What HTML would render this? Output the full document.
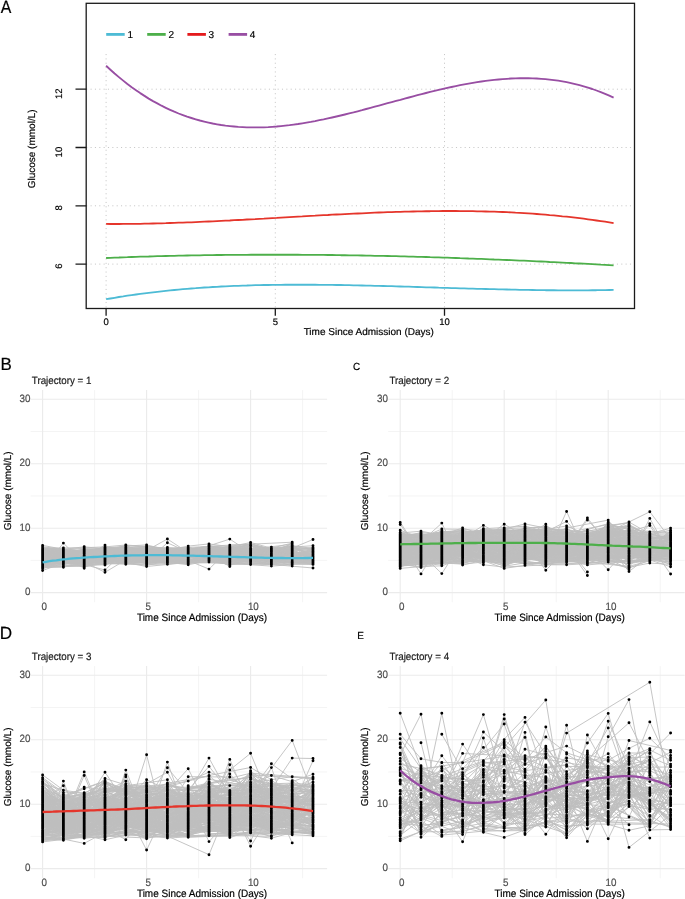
<!DOCTYPE html>
<html><head><meta charset="utf-8"><style>
html,body{margin:0;padding:0;background:#fff;width:685px;height:899px;overflow:hidden}
svg{display:block;will-change:transform}
text{font-family:"Liberation Sans", sans-serif;text-rendering:geometricPrecision}
</style></head><body>
<svg width="685" height="899" viewBox="0 0 685 899" font-family='"Liberation Sans", sans-serif'><rect width="685" height="899" fill="#fff"/><path d="M86.2 89.2H634.5M86.2 147.5H634.5M86.2 205.8H634.5M86.2 264.1H634.5M106.1 54V308.5M275.3 54V308.5M444.5 54V308.5" stroke="#c8c8c8" stroke-width="1" stroke-dasharray="1.1 3.25" fill="none"/><path d="M106.1,65.7 110.4,69.7 114.6,73.5 118.9,77.1 123.2,80.6 127.4,84.0 131.7,87.2 136.0,90.2 140.2,93.1 144.5,95.9 148.7,98.6 153.0,101.1 157.3,103.4 161.5,105.7 165.8,107.8 170.1,109.8 174.3,111.7 178.6,113.5 182.9,115.1 187.1,116.6 191.4,118.0 195.7,119.3 199.9,120.5 204.2,121.6 208.5,122.6 212.7,123.5 217.0,124.3 221.2,125.0 225.5,125.6 229.8,126.1 234.0,126.5 238.3,126.9 242.6,127.1 246.8,127.3 251.1,127.4 255.4,127.4 259.6,127.4 263.9,127.3 268.2,127.1 272.4,126.8 276.7,126.5 281.0,126.1 285.2,125.7 289.5,125.2 293.7,124.6 298.0,124.0 302.3,123.3 306.5,122.6 310.8,121.9 315.1,121.1 319.3,120.2 323.6,119.4 327.9,118.4 332.1,117.5 336.4,116.5 340.7,115.5 344.9,114.5 349.2,113.4 353.5,112.4 357.7,111.3 362.0,110.2 366.2,109.0 370.5,107.9 374.8,106.7 379.0,105.6 383.3,104.4 387.6,103.2 391.8,102.1 396.1,100.9 400.4,99.8 404.6,98.6 408.9,97.5 413.2,96.3 417.4,95.2 421.7,94.1 426.0,93.0 430.2,91.9 434.5,90.9 438.7,89.9 443.0,88.9 447.3,87.9 451.5,87.0 455.8,86.1 460.1,85.2 464.3,84.4 468.6,83.6 472.9,82.9 477.1,82.2 481.4,81.5 485.7,80.9 489.9,80.4 494.2,79.9 498.5,79.5 502.7,79.1 507.0,78.8 511.2,78.5 515.5,78.4 519.8,78.2 524.0,78.2 528.3,78.2 532.6,78.3 536.8,78.5 541.1,78.8 545.4,79.1 549.6,79.6 553.9,80.1 558.2,80.7 562.4,81.4 566.7,82.2 571.0,83.1 575.2,84.1 579.5,85.1 583.7,86.3 588.0,87.6 592.3,89.0 596.5,90.5 600.8,92.2 605.1,93.9 609.3,95.7 613.6,97.7" stroke="#984EA3" stroke-width="1.85" fill="none" stroke-linejoin="round"/><path d="M106.1,223.9 110.4,224.0 114.6,224.0 118.9,224.0 123.2,223.9 127.4,223.9 131.7,223.9 136.0,223.8 140.2,223.8 144.5,223.7 148.7,223.6 153.0,223.5 157.3,223.4 161.5,223.3 165.8,223.2 170.1,223.0 174.3,222.9 178.6,222.7 182.9,222.6 187.1,222.4 191.4,222.3 195.7,222.1 199.9,221.9 204.2,221.7 208.5,221.5 212.7,221.3 217.0,221.1 221.2,220.9 225.5,220.7 229.8,220.5 234.0,220.2 238.3,220.0 242.6,219.8 246.8,219.5 251.1,219.3 255.4,219.1 259.6,218.8 263.9,218.6 268.2,218.3 272.4,218.1 276.7,217.9 281.0,217.6 285.2,217.4 289.5,217.1 293.7,216.9 298.0,216.6 302.3,216.4 306.5,216.1 310.8,215.9 315.1,215.7 319.3,215.4 323.6,215.2 327.9,215.0 332.1,214.7 336.4,214.5 340.7,214.3 344.9,214.1 349.2,213.9 353.5,213.7 357.7,213.5 362.0,213.3 366.2,213.1 370.5,212.9 374.8,212.7 379.0,212.5 383.3,212.4 387.6,212.2 391.8,212.1 396.1,211.9 400.4,211.8 404.6,211.7 408.9,211.6 413.2,211.5 417.4,211.4 421.7,211.3 426.0,211.2 430.2,211.2 434.5,211.1 438.7,211.1 443.0,211.0 447.3,211.0 451.5,211.0 455.8,211.0 460.1,211.1 464.3,211.1 468.6,211.1 472.9,211.2 477.1,211.3 481.4,211.4 485.7,211.5 489.9,211.6 494.2,211.7 498.5,211.9 502.7,212.0 507.0,212.2 511.2,212.4 515.5,212.7 519.8,212.9 524.0,213.1 528.3,213.4 532.6,213.7 536.8,214.0 541.1,214.3 545.4,214.7 549.6,215.1 553.9,215.4 558.2,215.8 562.4,216.3 566.7,216.7 571.0,217.2 575.2,217.7 579.5,218.2 583.7,218.7 588.0,219.3 592.3,219.9 596.5,220.5 600.8,221.1 605.1,221.7 609.3,222.4 613.6,223.1" stroke="#E5352B" stroke-width="1.85" fill="none" stroke-linejoin="round"/><path d="M106.1,258.0 110.4,257.8 114.6,257.6 118.9,257.5 123.2,257.3 127.4,257.2 131.7,257.0 136.0,256.9 140.2,256.7 144.5,256.6 148.7,256.5 153.0,256.3 157.3,256.2 161.5,256.1 165.8,256.0 170.1,255.9 174.3,255.8 178.6,255.7 182.9,255.6 187.1,255.5 191.4,255.4 195.7,255.4 199.9,255.3 204.2,255.2 208.5,255.1 212.7,255.1 217.0,255.0 221.2,255.0 225.5,254.9 229.8,254.9 234.0,254.8 238.3,254.8 242.6,254.8 246.8,254.8 251.1,254.7 255.4,254.7 259.6,254.7 263.9,254.7 268.2,254.7 272.4,254.7 276.7,254.7 281.0,254.7 285.2,254.7 289.5,254.7 293.7,254.7 298.0,254.7 302.3,254.8 306.5,254.8 310.8,254.8 315.1,254.9 319.3,254.9 323.6,254.9 327.9,255.0 332.1,255.0 336.4,255.1 340.7,255.2 344.9,255.2 349.2,255.3 353.5,255.4 357.7,255.4 362.0,255.5 366.2,255.6 370.5,255.7 374.8,255.8 379.0,255.8 383.3,255.9 387.6,256.0 391.8,256.1 396.1,256.2 400.4,256.3 404.6,256.4 408.9,256.6 413.2,256.7 417.4,256.8 421.7,256.9 426.0,257.0 430.2,257.2 434.5,257.3 438.7,257.4 443.0,257.6 447.3,257.7 451.5,257.9 455.8,258.0 460.1,258.2 464.3,258.3 468.6,258.5 472.9,258.6 477.1,258.8 481.4,258.9 485.7,259.1 489.9,259.3 494.2,259.5 498.5,259.6 502.7,259.8 507.0,260.0 511.2,260.2 515.5,260.4 519.8,260.6 524.0,260.7 528.3,260.9 532.6,261.1 536.8,261.3 541.1,261.5 545.4,261.7 549.6,262.0 553.9,262.2 558.2,262.4 562.4,262.6 566.7,262.8 571.0,263.0 575.2,263.3 579.5,263.5 583.7,263.7 588.0,263.9 592.3,264.2 596.5,264.4 600.8,264.7 605.1,264.9 609.3,265.1 613.6,265.4" stroke="#4DAF4A" stroke-width="1.85" fill="none" stroke-linejoin="round"/><path d="M106.1,299.2 110.4,298.5 114.6,297.8 118.9,297.0 123.2,296.4 127.4,295.7 131.7,295.1 136.0,294.5 140.2,293.9 144.5,293.3 148.7,292.8 153.0,292.3 157.3,291.8 161.5,291.3 165.8,290.8 170.1,290.4 174.3,290.0 178.6,289.6 182.9,289.2 187.1,288.8 191.4,288.5 195.7,288.2 199.9,287.8 204.2,287.5 208.5,287.3 212.7,287.0 217.0,286.8 221.2,286.5 225.5,286.3 229.8,286.1 234.0,285.9 238.3,285.8 242.6,285.6 246.8,285.5 251.1,285.3 255.4,285.2 259.6,285.1 263.9,285.0 268.2,285.0 272.4,284.9 276.7,284.8 281.0,284.8 285.2,284.7 289.5,284.7 293.7,284.7 298.0,284.7 302.3,284.7 306.5,284.7 310.8,284.7 315.1,284.7 319.3,284.8 323.6,284.8 327.9,284.9 332.1,284.9 336.4,285.0 340.7,285.0 344.9,285.1 349.2,285.2 353.5,285.3 357.7,285.4 362.0,285.5 366.2,285.6 370.5,285.7 374.8,285.8 379.0,285.9 383.3,286.0 387.6,286.1 391.8,286.2 396.1,286.4 400.4,286.5 404.6,286.6 408.9,286.7 413.2,286.9 417.4,287.0 421.7,287.1 426.0,287.3 430.2,287.4 434.5,287.5 438.7,287.7 443.0,287.8 447.3,287.9 451.5,288.1 455.8,288.2 460.1,288.3 464.3,288.4 468.6,288.6 472.9,288.7 477.1,288.8 481.4,288.9 485.7,289.0 489.9,289.1 494.2,289.2 498.5,289.3 502.7,289.4 507.0,289.5 511.2,289.6 515.5,289.7 519.8,289.8 524.0,289.9 528.3,289.9 532.6,290.0 536.8,290.1 541.1,290.1 545.4,290.2 549.6,290.2 553.9,290.2 558.2,290.3 562.4,290.3 566.7,290.3 571.0,290.3 575.2,290.3 579.5,290.3 583.7,290.3 588.0,290.3 592.3,290.2 596.5,290.2 600.8,290.1 605.1,290.1 609.3,290.0 613.6,289.9" stroke="#4DBBD5" stroke-width="1.85" fill="none" stroke-linejoin="round"/><rect x="86.2" y="3.3" width="548.3" height="305.2" fill="none" stroke="#1a1a1a" stroke-width="1.3"/><path d="M75.5 89.2H86.2M75.5 147.5H86.2M75.5 205.8H86.2M75.5 264.1H86.2M106.1 308.5V315.8M275.3 308.5V315.8M444.5 308.5V315.8" stroke="#1a1a1a" stroke-width="1.3" fill="none"/><text transform="translate(61.8 88.5) rotate(-90)" font-size="9.5" text-anchor="end" stroke="#000" stroke-width="0.18">12</text><text transform="translate(61.8 146.8) rotate(-90)" font-size="9.5" text-anchor="end" stroke="#000" stroke-width="0.18">10</text><text transform="translate(61.8 205.1) rotate(-90)" font-size="9.5" text-anchor="end" stroke="#000" stroke-width="0.18">8</text><text transform="translate(61.8 263.4) rotate(-90)" font-size="9.5" text-anchor="end" stroke="#000" stroke-width="0.18">6</text><text x="106.1" y="324.9" font-size="9.5" text-anchor="middle" stroke="#000" stroke-width="0.18">0</text><text x="275.3" y="324.9" font-size="9.5" text-anchor="middle" stroke="#000" stroke-width="0.18">5</text><text x="444.5" y="324.9" font-size="9.5" text-anchor="middle" stroke="#000" stroke-width="0.18">10</text><text x="368.75" y="334.5" font-size="10" text-anchor="middle" stroke="#000" stroke-width="0.18">Time Since Admission (Days)</text><text transform="translate(34.6 148.9) rotate(-90)" font-size="10" text-anchor="middle" stroke="#000" stroke-width="0.18">Glucose (mmol/L)</text><text transform="translate(0.8 12.5) scale(0.96 1.09)" font-size="16.5" stroke="#000" stroke-width="0.18">A</text><path d="M106.2 34.4h18.5" stroke="#4DBBD5" stroke-width="2.8"/><text x="127.4" y="37.9" font-size="10" stroke="#000" stroke-width="0.18">1</text><path d="M147.2 34.4h18.5" stroke="#4DAF4A" stroke-width="2.8"/><text x="168.4" y="37.9" font-size="10" stroke="#000" stroke-width="0.18">2</text><path d="M187.4 34.4h18.5" stroke="#E41A1C" stroke-width="2.8"/><text x="208.6" y="37.9" font-size="10" stroke="#000" stroke-width="0.18">3</text><path d="M228.6 34.4h18.5" stroke="#984EA3" stroke-width="2.8"/><text x="249.8" y="37.9" font-size="10" stroke="#000" stroke-width="0.18">4</text><path d="M30.6 560.4H327.1M30.6 496.0H327.1M30.6 431.5H327.1M94.6 390.1V602.2M198.6 390.1V602.2M302.6 390.1V602.2" stroke="#ededed" stroke-width="0.6" fill="none"/><path d="M30.6 592.6H327.1M30.6 528.2H327.1M30.6 463.7H327.1M30.6 399.3H327.1M42.6 390.1V602.2M146.6 390.1V602.2M250.6 390.1V602.2" stroke="#ebebeb" stroke-width="1.1" fill="none"/><path d="M42.6,561.1 63.4,553.3 84.2,557.5 105.0,552.8 125.8,552.9 146.6,548.5 209.0,551.7 250.6,557.4 313.0,547.5M42.6,553.6 63.4,551.6 84.2,556.5 125.8,549.6 167.4,556.5 188.2,549.0 209.0,546.2 250.6,549.5 271.4,551.3 292.2,548.5 313.0,548.7M42.6,553.3 63.4,551.6 84.2,551.3 105.0,552.6 125.8,545.8 209.0,550.5 229.8,553.9 250.6,551.7 292.2,549.2 313.0,549.1M42.6,565.5 63.4,557.9 84.2,564.2 105.0,556.8 125.8,556.9 146.6,554.0 167.4,555.5 188.2,560.8 209.0,553.2 229.8,559.5 250.6,555.2 271.4,559.6 313.0,558.8M42.6,562.2 63.4,562.4 84.2,563.6 105.0,559.7 125.8,559.7 146.6,550.6 167.4,555.7 188.2,557.8 229.8,559.2 250.6,556.9 292.2,553.3M42.6,561.4 63.4,562.2 84.2,559.6 105.0,561.6 125.8,554.5 146.6,557.1 167.4,556.7 188.2,556.8 209.0,555.7 229.8,554.3 250.6,556.6 271.4,558.4 292.2,555.8M42.6,553.5 63.4,550.6 84.2,555.0 125.8,555.4 188.2,549.9 209.0,551.1 229.8,549.9 250.6,554.9 292.2,545.7M42.6,559.9 84.2,563.9 105.0,558.7 125.8,556.7 146.6,555.6 167.4,562.8 188.2,555.4 209.0,554.9 250.6,556.9 292.2,550.0M42.6,562.6 63.4,555.2 84.2,551.3 105.0,552.3 125.8,550.3 167.4,554.9 188.2,562.0 229.8,550.1 250.6,548.0M42.6,567.2 63.4,563.8 84.2,557.9 105.0,563.9 125.8,561.9 167.4,562.5 209.0,560.9 229.8,564.5 250.6,560.6 313.0,564.3M42.6,549.2 63.4,552.6 84.2,555.7 105.0,548.1 125.8,550.6 146.6,549.5 167.4,551.9 209.0,546.4 250.6,547.9 271.4,555.8 292.2,547.7M42.6,553.5 63.4,557.0 84.2,551.2 105.0,549.5 146.6,562.4 188.2,551.4 209.0,553.7 250.6,552.6 313.0,563.5M42.6,551.6 63.4,556.9 84.2,556.9 105.0,552.5 146.6,552.9 167.4,553.8 188.2,550.3 209.0,551.5 292.2,551.0M42.6,561.8 63.4,557.1 84.2,560.2 105.0,551.0 125.8,551.1 146.6,562.6 167.4,560.0 188.2,548.5 209.0,552.1 229.8,552.5 250.6,553.6 271.4,561.3M42.6,563.4 63.4,564.1 84.2,560.1 105.0,555.7 125.8,558.8 146.6,561.3 167.4,542.8 188.2,552.1 229.8,555.9 292.2,557.2 313.0,564.4M42.6,548.1 63.4,551.4 84.2,561.0 105.0,557.1 125.8,554.7 146.6,553.3 188.2,549.4 209.0,548.4 250.6,552.9 292.2,553.4 313.0,550.1M42.6,550.4 63.4,555.7 84.2,549.6 105.0,552.2 125.8,546.3 146.6,555.3 188.2,549.3 209.0,552.3 250.6,548.0 271.4,558.7 313.0,552.3M42.6,551.0 63.4,563.6 84.2,556.5 105.0,559.5 125.8,557.5 146.6,552.4 167.4,556.9 229.8,559.0 292.2,555.7M42.6,549.8 63.4,559.1 105.0,570.0 125.8,550.1 146.6,561.9 167.4,550.1 229.8,561.1 250.6,555.4 271.4,551.5M42.6,557.8 63.4,555.8 84.2,555.2 105.0,556.2 125.8,547.9 167.4,554.0 188.2,550.6 209.0,553.2 229.8,553.9 271.4,556.9 292.2,550.6 313.0,556.6M42.6,561.2 63.4,560.8 84.2,565.9 105.0,554.1 125.8,558.9 146.6,557.8 167.4,558.8 188.2,560.6 209.0,560.2 229.8,557.7 271.4,563.9 292.2,552.9M42.6,564.2 63.4,565.8 84.2,565.1 105.0,559.6 125.8,563.2 146.6,557.3 167.4,562.9 188.2,559.7 209.0,559.0 229.8,557.4 250.6,559.7 271.4,561.4M42.6,553.1 63.4,554.4 84.2,552.1 105.0,560.4 125.8,551.3 146.6,550.3 167.4,555.5 188.2,552.3 229.8,555.3 250.6,551.4 271.4,551.0M42.6,559.3 63.4,549.6 84.2,565.9 105.0,555.2 125.8,555.2 146.6,558.1 167.4,556.8 209.0,548.7 229.8,553.6 271.4,556.1 292.2,558.0M42.6,566.7 63.4,566.5 84.2,566.3 105.0,558.0 125.8,559.4 146.6,563.5 167.4,561.0 188.2,562.6 209.0,560.0 229.8,560.5 271.4,564.4 313.0,568.0M42.6,561.8 63.4,560.0 84.2,560.9 105.0,561.1 125.8,558.0 146.6,559.9 167.4,559.4 188.2,559.6 209.0,557.1 229.8,561.3 271.4,559.7 292.2,560.9M42.6,566.5 63.4,560.7 84.2,555.6 105.0,553.5 125.8,552.3 146.6,553.3 167.4,556.5 188.2,556.6 209.0,556.3 229.8,563.5 271.4,557.8 292.2,556.8 313.0,557.1M42.6,565.1 63.4,562.0 84.2,558.0 105.0,563.9 125.8,554.9 146.6,563.2 167.4,560.1 188.2,561.3 209.0,551.6 229.8,558.3 250.6,563.3 313.0,563.3M42.6,567.8 63.4,566.5 84.2,565.3 105.0,560.5 125.8,562.7 146.6,560.8 188.2,559.7 209.0,560.5 229.8,560.6 250.6,560.5 271.4,555.7 313.0,564.1M42.6,557.1 63.4,561.5 84.2,560.3 105.0,560.7 125.8,549.6 146.6,555.9 167.4,564.3 188.2,561.3 209.0,553.5 229.8,547.8 250.6,559.3 271.4,557.1 313.0,555.0M42.6,555.0 63.4,552.3 125.8,550.2 146.6,550.5 167.4,539.0 188.2,552.6 229.8,547.5 250.6,550.6 292.2,555.2 313.0,555.9M42.6,556.4 63.4,558.7 84.2,560.1 105.0,561.9 125.8,557.7 146.6,557.9 167.4,554.2 209.0,554.5 250.6,551.9 271.4,559.1 292.2,555.6M42.6,558.4 63.4,554.9 84.2,562.2 105.0,564.2 188.2,560.0 209.0,556.3 229.8,552.7 250.6,558.4 271.4,558.0 292.2,553.7 313.0,563.4M42.6,554.3 63.4,558.4 84.2,551.7 105.0,551.8 125.8,547.5 146.6,556.4 167.4,559.8 188.2,552.0 209.0,548.0 229.8,558.2 250.6,553.7 271.4,558.5 292.2,553.1M42.6,552.5 63.4,553.8 84.2,549.1 125.8,548.6 167.4,557.2 209.0,554.9 271.4,556.4 292.2,548.8M42.6,559.3 63.4,550.0 84.2,557.9 105.0,558.6 125.8,561.4 146.6,556.0 188.2,557.1 250.6,556.3 313.0,560.8M42.6,556.9 63.4,557.9 84.2,555.6 105.0,549.8 125.8,551.9 146.6,550.7 167.4,561.7 188.2,552.8 209.0,546.4 229.8,547.8 292.2,552.4M42.6,552.8 63.4,556.2 84.2,550.8 125.8,550.6 146.6,549.2 167.4,552.9 188.2,547.6 209.0,550.4 229.8,549.2 271.4,550.1 292.2,545.7 313.0,548.4M42.6,561.5 63.4,558.6 84.2,565.0 105.0,557.2 125.8,556.2 146.6,554.9 167.4,553.9 209.0,554.6 229.8,566.5 250.6,548.7 271.4,559.7 292.2,553.8 313.0,551.5M42.6,560.8 63.4,561.3 105.0,556.5 125.8,559.8 146.6,555.7 167.4,558.6 188.2,555.8 209.0,558.8 229.8,554.3 250.6,555.1 271.4,560.1 292.2,562.2 313.0,558.1M42.6,555.8 63.4,553.1 84.2,560.1 105.0,548.3 125.8,558.3 146.6,559.9 167.4,552.3 229.8,557.8 250.6,550.0 271.4,555.6 292.2,550.2 313.0,556.4M42.6,553.8 63.4,556.0 84.2,548.9 105.0,558.5 125.8,550.5 146.6,554.4 188.2,556.0 209.0,552.4 229.8,551.6 250.6,557.3 271.4,557.0 292.2,549.3M42.6,557.9 63.4,555.4 84.2,550.2 125.8,553.2 146.6,555.2 167.4,547.5 188.2,550.4 229.8,552.4 292.2,546.0M42.6,561.2 63.4,562.3 84.2,563.0 105.0,559.5 125.8,560.9 146.6,560.9 167.4,562.6 188.2,562.5 229.8,560.9 271.4,558.6 292.2,562.8 313.0,562.4M42.6,564.9 63.4,551.5 84.2,561.5 105.0,562.2 125.8,559.5 167.4,561.8 188.2,557.5 209.0,560.3 229.8,556.5 250.6,555.1 271.4,549.8 292.2,556.0 313.0,557.6M42.6,565.5 63.4,556.6 84.2,568.2 105.0,552.8 146.6,562.8 167.4,558.3 188.2,556.5 250.6,561.3 313.0,558.3M42.6,567.2 63.4,567.2 84.2,562.9 105.0,555.7 125.8,559.4 146.6,563.3 167.4,558.1 188.2,563.7 209.0,559.2 229.8,565.1M42.6,559.9 63.4,557.5 84.2,551.0 105.0,558.0 146.6,549.8 167.4,555.6 188.2,555.1 250.6,559.6 292.2,548.6M42.6,553.6 63.4,558.4 84.2,557.8 105.0,547.6 125.8,554.8 146.6,550.9 167.4,551.0 188.2,554.4 209.0,548.1 229.8,551.7 271.4,557.8 292.2,546.5M42.6,564.5 63.4,558.6 84.2,558.4 105.0,558.2 125.8,560.7 146.6,558.1 188.2,563.1 209.0,557.0 229.8,559.4 271.4,559.1 292.2,558.5M42.6,555.0 63.4,552.4 84.2,549.4 105.0,549.7 146.6,546.3 188.2,550.4 209.0,546.8 229.8,547.8 250.6,554.1 271.4,553.9 292.2,545.4 313.0,556.2M42.6,557.2 63.4,549.4 84.2,559.7 105.0,547.3 125.8,548.3 146.6,555.4 167.4,549.5 188.2,554.7 209.0,555.8 229.8,553.9 271.4,553.6 292.2,551.1 313.0,557.4M42.6,549.4 63.4,551.9 84.2,551.2 105.0,551.4 125.8,551.4 146.6,560.8 167.4,549.7 229.8,547.3 250.6,545.8 271.4,550.4 292.2,546.9M42.6,555.4 63.4,552.8 84.2,550.8 105.0,552.0 125.8,552.0 167.4,550.2 188.2,556.8 209.0,550.7 229.8,552.9 292.2,552.5M42.6,557.9 63.4,552.9 84.2,552.2 105.0,547.0 125.8,551.6 146.6,552.1 167.4,553.6 209.0,546.4 229.8,550.0 250.6,555.8 271.4,552.0M42.6,565.0 63.4,563.1 84.2,563.8 125.8,560.8 167.4,562.8 188.2,562.0 209.0,555.0 271.4,560.9 292.2,561.1 313.0,558.2M42.6,561.7 63.4,553.7 84.2,551.7 105.0,549.4 125.8,551.2 167.4,557.2 188.2,547.9 209.0,551.4 229.8,556.4 250.6,555.5 271.4,557.6 292.2,551.3M42.6,548.2 63.4,551.0 84.2,560.7 105.0,557.5 125.8,558.6 146.6,558.1 167.4,554.3 188.2,551.1 209.0,551.0 229.8,557.5 292.2,549.4 313.0,551.6M42.6,570.5 63.4,563.0 105.0,565.0 125.8,556.7 146.6,554.4 167.4,560.6 188.2,560.9 209.0,560.9 229.8,562.8 250.6,562.7 292.2,561.3 313.0,561.3M42.6,553.7 63.4,557.3 84.2,551.9 105.0,549.6 125.8,556.0 188.2,551.2 209.0,558.2 229.8,552.7 250.6,545.7 271.4,556.6 292.2,557.6M42.6,556.8 63.4,554.1 84.2,563.3 105.0,559.5 125.8,557.8 146.6,553.5 167.4,560.9 188.2,553.3 209.0,554.6 229.8,551.7 250.6,554.5 292.2,558.5 313.0,556.5M42.6,560.3 63.4,553.5 84.2,550.5 105.0,551.0 125.8,547.6 167.4,552.4 209.0,549.3 229.8,550.4 250.6,550.7 271.4,558.1 292.2,548.6M42.6,559.1 63.4,559.8 84.2,561.3 125.8,555.8 146.6,548.8 167.4,557.6 188.2,551.4 229.8,561.8 250.6,557.3M42.6,553.4 63.4,560.5 84.2,564.9 105.0,555.8 125.8,554.6 146.6,555.4 167.4,555.7 188.2,556.7 229.8,553.7 250.6,551.1 292.2,554.0M42.6,553.8 63.4,558.1 84.2,556.2 125.8,555.3 146.6,555.9 167.4,554.6 209.0,551.3 229.8,551.0 250.6,549.3 271.4,559.1M42.6,561.8 63.4,563.2 84.2,564.7 105.0,552.9 125.8,562.4 146.6,559.4 188.2,564.8 229.8,556.1 250.6,561.0 271.4,561.1 292.2,554.1M42.6,550.6 63.4,564.1 84.2,553.4 105.0,556.1 146.6,558.2 188.2,554.2 209.0,553.2 229.8,551.6 250.6,545.8 292.2,551.3 313.0,556.7M42.6,557.8 63.4,554.4 84.2,562.5 105.0,556.0 125.8,550.9 146.6,554.2 167.4,555.9 188.2,553.2 209.0,558.9 229.8,560.9 250.6,558.6 292.2,551.6M42.6,553.6 63.4,553.4 84.2,551.4 105.0,553.5 125.8,555.7 146.6,553.6 188.2,552.0 229.8,549.3 250.6,552.4 292.2,546.5 313.0,556.2M42.6,561.6 63.4,560.6 84.2,562.8 105.0,552.9 125.8,552.0 188.2,557.3 209.0,553.2 229.8,561.0 250.6,554.6 271.4,559.8 313.0,554.6M42.6,549.7 63.4,550.3 84.2,551.3 105.0,555.4 125.8,553.9 146.6,549.3 167.4,550.9 188.2,552.0 229.8,549.0 250.6,544.1 292.2,556.1 313.0,551.0M42.6,558.9 63.4,553.4 84.2,556.9 105.0,552.4 125.8,554.6 146.6,557.0 167.4,553.9 188.2,555.0 229.8,559.1 250.6,552.1 313.0,553.1M42.6,555.2 63.4,557.0 84.2,559.7 105.0,556.7 125.8,553.6 146.6,551.3 167.4,562.1 188.2,557.2 209.0,554.8 250.6,553.5 271.4,561.4 292.2,555.0 313.0,550.9M42.6,556.7 63.4,563.2 105.0,550.4 125.8,551.8 146.6,556.6 167.4,552.1 188.2,551.4 209.0,550.9 229.8,555.8 250.6,546.1 271.4,550.9 292.2,544.2 313.0,564.4M42.6,555.8 63.4,553.0 84.2,551.0 105.0,548.4 125.8,547.7 146.6,547.5 167.4,552.0 188.2,556.2 209.0,549.6 229.8,547.3 250.6,545.9 271.4,557.6 313.0,554.8M42.6,548.1 63.4,549.7 84.2,550.9 125.8,549.7 146.6,553.2 167.4,548.6 188.2,547.5 209.0,552.4 229.8,545.2 292.2,542.2M42.6,559.1 63.4,558.7 84.2,566.9 105.0,560.9 125.8,562.9 146.6,561.6 167.4,561.7 188.2,563.8 209.0,556.9 229.8,558.8 250.6,557.4 271.4,563.2M42.6,549.5 63.4,549.4 105.0,552.4 125.8,557.5 146.6,554.6 167.4,552.8 188.2,552.2 209.0,554.5 250.6,548.4 271.4,551.9 292.2,546.2M42.6,557.7 63.4,551.1 84.2,552.5 105.0,551.2 125.8,557.0 167.4,553.4 188.2,555.6 209.0,552.2 229.8,557.3 250.6,548.9 271.4,557.4 292.2,552.9 313.0,551.7M42.6,555.2 63.4,562.0 84.2,559.3 105.0,555.9 146.6,558.7 167.4,556.3 188.2,557.1 209.0,554.5 229.8,559.7 250.6,550.5 271.4,563.2M42.6,565.3 63.4,566.3 84.2,561.4 105.0,561.4 125.8,562.4 146.6,565.5 167.4,560.8 188.2,562.2 271.4,564.5 292.2,554.7M42.6,551.6 63.4,550.9 84.2,555.4 105.0,549.7 125.8,548.6 146.6,553.9 167.4,556.7 209.0,553.3 229.8,549.0 250.6,544.0 271.4,548.8M42.6,564.4 63.4,562.7 105.0,559.3 125.8,561.5 146.6,561.3 167.4,554.9 188.2,561.1 229.8,561.1 250.6,564.5 271.4,561.4 292.2,556.4 313.0,561.7M42.6,565.0 63.4,552.0 84.2,558.0 105.0,545.1 125.8,559.2 146.6,550.5 167.4,558.7 229.8,551.8 250.6,554.7 271.4,557.5 313.0,554.8M42.6,550.3 63.4,552.5 84.2,550.5 105.0,551.0 125.8,545.4 146.6,555.1 167.4,552.1 209.0,546.2 250.6,544.1 271.4,549.4 313.0,554.7M42.6,568.7 63.4,543.1 84.2,563.7 105.0,560.8 125.8,562.6 146.6,566.5 188.2,562.4 209.0,555.4 229.8,560.8 250.6,559.6 271.4,564.4M42.6,562.9 63.4,563.7 84.2,561.9 125.8,560.1 167.4,555.9 229.8,550.7 250.6,557.9 271.4,560.7 292.2,558.0 313.0,560.3M42.6,568.8 63.4,561.6 84.2,561.0 105.0,564.3 125.8,556.0 146.6,562.3 167.4,559.1 188.2,561.9 271.4,564.6 313.0,564.3M42.6,563.5 63.4,558.1 84.2,553.2 105.0,560.2 125.8,549.6 146.6,557.0 188.2,558.1 209.0,550.9 229.8,553.8 250.6,548.3 271.4,551.9M42.6,553.7 63.4,550.7 84.2,550.3 105.0,552.5 125.8,552.1 146.6,551.5 167.4,548.6 188.2,557.5 209.0,545.0 229.8,555.8 250.6,548.6 271.4,547.1 292.2,551.1 313.0,549.1M42.6,546.8 63.4,549.4 84.2,546.8 125.8,551.1 146.6,546.0 167.4,549.0 229.8,551.3 250.6,543.8 271.4,551.8M42.6,560.4 63.4,564.6 105.0,554.1 125.8,563.1 146.6,560.4 167.4,553.6 209.0,560.4 229.8,564.7 271.4,562.9 292.2,562.6 313.0,560.6M42.6,561.4 63.4,559.0 105.0,556.2 125.8,553.1 146.6,555.5 188.2,562.1 209.0,555.7 229.8,562.6 250.6,557.1 271.4,555.9 292.2,549.8M42.6,549.7 63.4,554.5 105.0,548.3 125.8,552.6 167.4,552.5 188.2,552.4 209.0,549.2 229.8,551.6 271.4,548.6 292.2,546.5 313.0,557.8M42.6,550.7 63.4,549.7 84.2,550.6 105.0,549.2 125.8,550.7 146.6,548.4 167.4,551.3 209.0,552.6 229.8,546.8 250.6,544.1 271.4,558.6M42.6,564.2 63.4,553.9 84.2,552.5 105.0,561.5 125.8,552.9 146.6,554.3 167.4,556.0 188.2,553.7 229.8,555.5 250.6,556.3 313.0,554.0M42.6,561.5 63.4,562.6 84.2,565.0 105.0,563.8 125.8,553.6 146.6,563.7 167.4,557.9 188.2,557.4 209.0,558.0 292.2,560.9 313.0,560.3M42.6,554.1 84.2,551.0 105.0,550.1 125.8,558.3 146.6,550.8 167.4,550.7 209.0,547.1 250.6,549.6 271.4,560.8 313.0,556.9M42.6,560.1 63.4,551.8 84.2,560.7 105.0,554.4 125.8,556.1 146.6,555.4 188.2,554.0 209.0,555.3 229.8,555.4 271.4,555.5 292.2,563.8M42.6,557.7 63.4,558.8 84.2,559.2 125.8,560.1 146.6,558.6 167.4,558.9 188.2,558.7 209.0,548.7 250.6,560.5 292.2,557.9M42.6,559.5 63.4,557.2 84.2,565.3 105.0,554.2 146.6,553.5 167.4,556.5 188.2,555.5 209.0,556.0 229.8,557.7 250.6,555.2 271.4,557.6 292.2,555.4M42.6,559.8 63.4,554.4 84.2,553.3 125.8,547.6 167.4,552.7 188.2,555.3 209.0,557.0 229.8,552.7 271.4,557.3 292.2,558.9 313.0,551.9M42.6,563.0 63.4,558.2 84.2,551.4 105.0,549.7 125.8,550.0 146.6,550.8 167.4,549.7 188.2,552.9 209.0,545.8 229.8,539.1 250.6,552.8 271.4,554.1 313.0,559.4M42.6,559.6 63.4,560.7 84.2,553.7 146.6,551.3 167.4,553.0 188.2,553.3 229.8,553.2 250.6,553.6 313.0,558.2M42.6,560.3 63.4,558.1 84.2,555.2 105.0,558.9 125.8,553.2 146.6,553.8 167.4,556.0 188.2,557.5 209.0,551.8 229.8,556.8 250.6,558.7 271.4,555.7 313.0,554.8M42.6,566.1 63.4,562.1 84.2,566.8 105.0,563.1 125.8,564.3 146.6,564.7 229.8,561.3 250.6,548.4 271.4,561.7 313.0,562.9M42.6,556.1 63.4,557.5 84.2,562.8 125.8,555.8 146.6,559.6 167.4,557.1 188.2,555.4 209.0,556.8 229.8,551.3 250.6,559.8 271.4,560.3 313.0,549.0M42.6,546.9 63.4,556.8 84.2,553.5 105.0,553.6 125.8,554.1 146.6,547.4 167.4,552.0 188.2,554.1 229.8,550.4 250.6,549.5 292.2,544.1M42.6,561.0 63.4,560.5 84.2,562.1 105.0,572.3 125.8,559.9 146.6,559.6 167.4,560.6 188.2,559.3 209.0,550.2 229.8,553.6 250.6,560.0 292.2,561.3M42.6,562.9 63.4,563.6 84.2,560.1 105.0,563.5 188.2,563.2 229.8,562.1 250.6,561.4 271.4,559.3 292.2,566.1M42.6,548.1 63.4,549.0 84.2,550.9 105.0,547.5 125.8,550.2 146.6,548.4 188.2,548.3 209.0,551.6 229.8,551.3 313.0,545.7M42.6,551.8 63.4,563.3 84.2,555.0 105.0,552.3 125.8,550.4 146.6,548.2 167.4,554.6 188.2,553.7 209.0,554.5 229.8,555.1 292.2,547.1 313.0,555.1M42.6,545.4 63.4,549.3 84.2,548.3 105.0,548.1 125.8,546.1 146.6,544.9 167.4,550.0 188.2,554.2 229.8,549.4 271.4,550.0M42.6,559.4 63.4,559.3 84.2,561.0 105.0,558.1 125.8,553.4 146.6,551.7 167.4,550.8 188.2,552.6 209.0,549.5 250.6,555.5 271.4,551.1M42.6,557.1 63.4,558.0 105.0,556.3 125.8,559.8 146.6,558.7 167.4,555.5 188.2,550.5 209.0,555.9 229.8,560.4 250.6,548.8 271.4,556.3 292.2,558.5 313.0,562.7M42.6,556.7 63.4,564.6 84.2,566.1 105.0,564.3 125.8,558.5 146.6,559.1 167.4,558.5 188.2,555.3 209.0,556.7 229.8,563.4 250.6,559.9 271.4,564.3 292.2,561.2 313.0,564.2M42.6,548.4 63.4,551.2 84.2,550.1 105.0,550.2 125.8,549.5 146.6,548.1 167.4,552.8 229.8,547.0 250.6,552.2 292.2,547.9 313.0,548.2M42.6,548.2 63.4,547.9 84.2,547.7 105.0,546.9 125.8,545.0 146.6,546.5 167.4,550.1 188.2,546.1 209.0,543.9 229.8,546.7 250.6,542.5 271.4,548.2 292.2,543.1M42.6,559.9 63.4,559.9 84.2,559.2 105.0,556.3 125.8,560.9 146.6,554.2 167.4,559.8 188.2,557.2 250.6,559.1M42.6,555.7 63.4,558.9 84.2,556.3 105.0,561.8 125.8,563.5 146.6,556.9 250.6,554.5 271.4,562.5 292.2,557.2 313.0,558.1M42.6,552.9 63.4,553.6 84.2,560.0 105.0,547.5 125.8,553.7 167.4,554.7 188.2,552.8 229.8,549.9 250.6,550.2 271.4,550.5 292.2,547.8 313.0,554.6M42.6,564.9 63.4,563.4 84.2,563.4 105.0,559.8 125.8,550.6 167.4,559.6 188.2,561.9 209.0,552.3 229.8,561.9 250.6,556.9 271.4,558.5 292.2,549.7M42.6,552.4 63.4,556.8 84.2,558.3 105.0,560.2 125.8,554.1 146.6,558.0 167.4,553.9 188.2,553.9 209.0,553.0 229.8,556.6 250.6,554.6 271.4,558.8 313.0,562.0M42.6,565.2 63.4,559.9 84.2,564.0 105.0,551.5 125.8,556.9 146.6,555.0 167.4,556.3 188.2,554.8 229.8,548.3 250.6,559.0M42.6,554.5 63.4,559.7 84.2,558.7 105.0,548.7 125.8,550.7 146.6,560.7 167.4,558.3 209.0,555.9 229.8,551.7 271.4,558.2 292.2,550.6 313.0,560.4M42.6,552.0 63.4,553.0 105.0,550.9 125.8,548.6 167.4,553.0 188.2,552.1 209.0,553.9 229.8,547.9 250.6,545.5 271.4,552.3 292.2,543.6M42.6,563.3 63.4,558.3 84.2,553.1 105.0,558.3 125.8,552.9 146.6,559.3 167.4,557.9 188.2,554.4 209.0,556.6 229.8,554.8 292.2,553.0M42.6,548.6 63.4,551.4 84.2,549.9 105.0,550.9 125.8,552.4 146.6,555.0 167.4,551.9 209.0,569.1 229.8,548.8 250.6,548.2M42.6,558.7 63.4,559.6 84.2,559.4 105.0,559.4 125.8,556.3 146.6,563.9 167.4,560.8 188.2,555.4 209.0,558.3 229.8,562.1 250.6,557.7 271.4,554.8 313.0,555.1M42.6,561.6 63.4,558.0 84.2,556.7 105.0,554.7 125.8,552.4 146.6,547.2 167.4,555.2 188.2,551.4 209.0,554.4 229.8,557.7 250.6,559.9 271.4,555.0M42.6,566.4 63.4,561.6 84.2,563.3 105.0,558.9 125.8,563.2 167.4,561.3 209.0,562.1 271.4,566.1 292.2,564.6M42.6,566.9 63.4,560.4 84.2,565.0 105.0,560.0 125.8,562.8 146.6,561.5 167.4,561.0 188.2,561.4 209.0,556.7 229.8,559.6 250.6,555.4 292.2,558.7M42.6,562.3 63.4,550.6 84.2,552.4 125.8,550.7 146.6,548.3 167.4,555.7 188.2,556.8 209.0,550.7 229.8,553.6 250.6,553.0 271.4,557.6 292.2,548.1 313.0,539.5M42.6,564.3 63.4,558.0 84.2,555.1 105.0,556.5 125.8,553.7 167.4,559.9 188.2,555.8 229.8,559.5 250.6,558.2M42.6,553.4 63.4,555.4 84.2,556.1 105.0,552.6 125.8,549.9 167.4,553.3 188.2,549.0 209.0,546.9 229.8,554.5 250.6,556.9 313.0,556.9M42.6,552.1 63.4,556.6 105.0,549.8 125.8,550.6 146.6,558.5 188.2,548.0 250.6,553.2 313.0,554.9M42.6,550.3 63.4,552.9 84.2,551.5 105.0,547.3 146.6,549.0 209.0,546.5 229.8,554.2 271.4,548.6 292.2,549.4M42.6,553.1 63.4,551.3 84.2,551.5 105.0,552.7 125.8,545.8 146.6,553.3 167.4,553.2 229.8,557.7 292.2,546.4 313.0,549.4M42.6,550.5 63.4,552.8 84.2,551.1 105.0,550.2 125.8,549.5 146.6,549.2 167.4,556.1 209.0,548.0 229.8,551.4 271.4,556.6 292.2,555.9 313.0,549.4M42.6,559.6 63.4,563.0 84.2,557.4 105.0,547.8 125.8,551.4 167.4,552.0 188.2,551.1 229.8,562.6 250.6,556.9 271.4,550.0 292.2,550.0" stroke="#bebebe" stroke-width="0.9" fill="none"/><path d="M42.6 561.1h0M63.4 553.3h0M84.2 557.5h0M105.0 552.8h0M125.8 552.9h0M146.6 548.5h0M209.0 551.7h0M250.6 557.4h0M313.0 547.5h0M42.6 553.6h0M63.4 551.6h0M84.2 556.5h0M125.8 549.6h0M167.4 556.5h0M188.2 549.0h0M209.0 546.2h0M250.6 549.5h0M271.4 551.3h0M292.2 548.5h0M313.0 548.7h0M42.6 553.3h0M63.4 551.6h0M84.2 551.3h0M105.0 552.6h0M125.8 545.8h0M209.0 550.5h0M229.8 553.9h0M250.6 551.7h0M292.2 549.2h0M313.0 549.1h0M42.6 565.5h0M63.4 557.9h0M84.2 564.2h0M105.0 556.8h0M125.8 556.9h0M146.6 554.0h0M167.4 555.5h0M188.2 560.8h0M209.0 553.2h0M229.8 559.5h0M250.6 555.2h0M271.4 559.6h0M313.0 558.8h0M42.6 562.2h0M63.4 562.4h0M84.2 563.6h0M105.0 559.7h0M125.8 559.7h0M146.6 550.6h0M167.4 555.7h0M188.2 557.8h0M229.8 559.2h0M250.6 556.9h0M292.2 553.3h0M42.6 561.4h0M63.4 562.2h0M84.2 559.6h0M105.0 561.6h0M125.8 554.5h0M146.6 557.1h0M167.4 556.7h0M188.2 556.8h0M209.0 555.7h0M229.8 554.3h0M250.6 556.6h0M271.4 558.4h0M292.2 555.8h0M42.6 553.5h0M63.4 550.6h0M84.2 555.0h0M125.8 555.4h0M188.2 549.9h0M209.0 551.1h0M229.8 549.9h0M250.6 554.9h0M292.2 545.7h0M42.6 559.9h0M84.2 563.9h0M105.0 558.7h0M125.8 556.7h0M146.6 555.6h0M167.4 562.8h0M188.2 555.4h0M209.0 554.9h0M250.6 556.9h0M292.2 550.0h0M42.6 562.6h0M63.4 555.2h0M84.2 551.3h0M105.0 552.3h0M125.8 550.3h0M167.4 554.9h0M188.2 562.0h0M229.8 550.1h0M250.6 548.0h0M42.6 567.2h0M63.4 563.8h0M84.2 557.9h0M105.0 563.9h0M125.8 561.9h0M167.4 562.5h0M209.0 560.9h0M229.8 564.5h0M250.6 560.6h0M313.0 564.3h0M42.6 549.2h0M63.4 552.6h0M84.2 555.7h0M105.0 548.1h0M125.8 550.6h0M146.6 549.5h0M167.4 551.9h0M209.0 546.4h0M250.6 547.9h0M271.4 555.8h0M292.2 547.7h0M42.6 553.5h0M63.4 557.0h0M84.2 551.2h0M105.0 549.5h0M146.6 562.4h0M188.2 551.4h0M209.0 553.7h0M250.6 552.6h0M313.0 563.5h0M42.6 551.6h0M63.4 556.9h0M84.2 556.9h0M105.0 552.5h0M146.6 552.9h0M167.4 553.8h0M188.2 550.3h0M209.0 551.5h0M292.2 551.0h0M42.6 561.8h0M63.4 557.1h0M84.2 560.2h0M105.0 551.0h0M125.8 551.1h0M146.6 562.6h0M167.4 560.0h0M188.2 548.5h0M209.0 552.1h0M229.8 552.5h0M250.6 553.6h0M271.4 561.3h0M42.6 563.4h0M63.4 564.1h0M84.2 560.1h0M105.0 555.7h0M125.8 558.8h0M146.6 561.3h0M167.4 542.8h0M188.2 552.1h0M229.8 555.9h0M292.2 557.2h0M313.0 564.4h0M42.6 548.1h0M63.4 551.4h0M84.2 561.0h0M105.0 557.1h0M125.8 554.7h0M146.6 553.3h0M188.2 549.4h0M209.0 548.4h0M250.6 552.9h0M292.2 553.4h0M313.0 550.1h0M42.6 550.4h0M63.4 555.7h0M84.2 549.6h0M105.0 552.2h0M125.8 546.3h0M146.6 555.3h0M188.2 549.3h0M209.0 552.3h0M250.6 548.0h0M271.4 558.7h0M313.0 552.3h0M42.6 551.0h0M63.4 563.6h0M84.2 556.5h0M105.0 559.5h0M125.8 557.5h0M146.6 552.4h0M167.4 556.9h0M229.8 559.0h0M292.2 555.7h0M42.6 549.8h0M63.4 559.1h0M105.0 570.0h0M125.8 550.1h0M146.6 561.9h0M167.4 550.1h0M229.8 561.1h0M250.6 555.4h0M271.4 551.5h0M42.6 557.8h0M63.4 555.8h0M84.2 555.2h0M105.0 556.2h0M125.8 547.9h0M167.4 554.0h0M188.2 550.6h0M209.0 553.2h0M229.8 553.9h0M271.4 556.9h0M292.2 550.6h0M313.0 556.6h0M42.6 561.2h0M63.4 560.8h0M84.2 565.9h0M105.0 554.1h0M125.8 558.9h0M146.6 557.8h0M167.4 558.8h0M188.2 560.6h0M209.0 560.2h0M229.8 557.7h0M271.4 563.9h0M292.2 552.9h0M42.6 564.2h0M63.4 565.8h0M84.2 565.1h0M105.0 559.6h0M125.8 563.2h0M146.6 557.3h0M167.4 562.9h0M188.2 559.7h0M209.0 559.0h0M229.8 557.4h0M250.6 559.7h0M271.4 561.4h0M42.6 553.1h0M63.4 554.4h0M84.2 552.1h0M105.0 560.4h0M125.8 551.3h0M146.6 550.3h0M167.4 555.5h0M188.2 552.3h0M229.8 555.3h0M250.6 551.4h0M271.4 551.0h0M42.6 559.3h0M63.4 549.6h0M84.2 565.9h0M105.0 555.2h0M125.8 555.2h0M146.6 558.1h0M167.4 556.8h0M209.0 548.7h0M229.8 553.6h0M271.4 556.1h0M292.2 558.0h0M42.6 566.7h0M63.4 566.5h0M84.2 566.3h0M105.0 558.0h0M125.8 559.4h0M146.6 563.5h0M167.4 561.0h0M188.2 562.6h0M209.0 560.0h0M229.8 560.5h0M271.4 564.4h0M313.0 568.0h0M42.6 561.8h0M63.4 560.0h0M84.2 560.9h0M105.0 561.1h0M125.8 558.0h0M146.6 559.9h0M167.4 559.4h0M188.2 559.6h0M209.0 557.1h0M229.8 561.3h0M271.4 559.7h0M292.2 560.9h0M42.6 566.5h0M63.4 560.7h0M84.2 555.6h0M105.0 553.5h0M125.8 552.3h0M146.6 553.3h0M167.4 556.5h0M188.2 556.6h0M209.0 556.3h0M229.8 563.5h0M271.4 557.8h0M292.2 556.8h0M313.0 557.1h0M42.6 565.1h0M63.4 562.0h0M84.2 558.0h0M105.0 563.9h0M125.8 554.9h0M146.6 563.2h0M167.4 560.1h0M188.2 561.3h0M209.0 551.6h0M229.8 558.3h0M250.6 563.3h0M313.0 563.3h0M42.6 567.8h0M63.4 566.5h0M84.2 565.3h0M105.0 560.5h0M125.8 562.7h0M146.6 560.8h0M188.2 559.7h0M209.0 560.5h0M229.8 560.6h0M250.6 560.5h0M271.4 555.7h0M313.0 564.1h0M42.6 557.1h0M63.4 561.5h0M84.2 560.3h0M105.0 560.7h0M125.8 549.6h0M146.6 555.9h0M167.4 564.3h0M188.2 561.3h0M209.0 553.5h0M229.8 547.8h0M250.6 559.3h0M271.4 557.1h0M313.0 555.0h0M42.6 555.0h0M63.4 552.3h0M125.8 550.2h0M146.6 550.5h0M167.4 539.0h0M188.2 552.6h0M229.8 547.5h0M250.6 550.6h0M292.2 555.2h0M313.0 555.9h0M42.6 556.4h0M63.4 558.7h0M84.2 560.1h0M105.0 561.9h0M125.8 557.7h0M146.6 557.9h0M167.4 554.2h0M209.0 554.5h0M250.6 551.9h0M271.4 559.1h0M292.2 555.6h0M42.6 558.4h0M63.4 554.9h0M84.2 562.2h0M105.0 564.2h0M188.2 560.0h0M209.0 556.3h0M229.8 552.7h0M250.6 558.4h0M271.4 558.0h0M292.2 553.7h0M313.0 563.4h0M42.6 554.3h0M63.4 558.4h0M84.2 551.7h0M105.0 551.8h0M125.8 547.5h0M146.6 556.4h0M167.4 559.8h0M188.2 552.0h0M209.0 548.0h0M229.8 558.2h0M250.6 553.7h0M271.4 558.5h0M292.2 553.1h0M42.6 552.5h0M63.4 553.8h0M84.2 549.1h0M125.8 548.6h0M167.4 557.2h0M209.0 554.9h0M271.4 556.4h0M292.2 548.8h0M42.6 559.3h0M63.4 550.0h0M84.2 557.9h0M105.0 558.6h0M125.8 561.4h0M146.6 556.0h0M188.2 557.1h0M250.6 556.3h0M313.0 560.8h0M42.6 556.9h0M63.4 557.9h0M84.2 555.6h0M105.0 549.8h0M125.8 551.9h0M146.6 550.7h0M167.4 561.7h0M188.2 552.8h0M209.0 546.4h0M229.8 547.8h0M292.2 552.4h0M42.6 552.8h0M63.4 556.2h0M84.2 550.8h0M125.8 550.6h0M146.6 549.2h0M167.4 552.9h0M188.2 547.6h0M209.0 550.4h0M229.8 549.2h0M271.4 550.1h0M292.2 545.7h0M313.0 548.4h0M42.6 561.5h0M63.4 558.6h0M84.2 565.0h0M105.0 557.2h0M125.8 556.2h0M146.6 554.9h0M167.4 553.9h0M209.0 554.6h0M229.8 566.5h0M250.6 548.7h0M271.4 559.7h0M292.2 553.8h0M313.0 551.5h0M42.6 560.8h0M63.4 561.3h0M105.0 556.5h0M125.8 559.8h0M146.6 555.7h0M167.4 558.6h0M188.2 555.8h0M209.0 558.8h0M229.8 554.3h0M250.6 555.1h0M271.4 560.1h0M292.2 562.2h0M313.0 558.1h0M42.6 555.8h0M63.4 553.1h0M84.2 560.1h0M105.0 548.3h0M125.8 558.3h0M146.6 559.9h0M167.4 552.3h0M229.8 557.8h0M250.6 550.0h0M271.4 555.6h0M292.2 550.2h0M313.0 556.4h0M42.6 553.8h0M63.4 556.0h0M84.2 548.9h0M105.0 558.5h0M125.8 550.5h0M146.6 554.4h0M188.2 556.0h0M209.0 552.4h0M229.8 551.6h0M250.6 557.3h0M271.4 557.0h0M292.2 549.3h0M42.6 557.9h0M63.4 555.4h0M84.2 550.2h0M125.8 553.2h0M146.6 555.2h0M167.4 547.5h0M188.2 550.4h0M229.8 552.4h0M292.2 546.0h0M42.6 561.2h0M63.4 562.3h0M84.2 563.0h0M105.0 559.5h0M125.8 560.9h0M146.6 560.9h0M167.4 562.6h0M188.2 562.5h0M229.8 560.9h0M271.4 558.6h0M292.2 562.8h0M313.0 562.4h0M42.6 564.9h0M63.4 551.5h0M84.2 561.5h0M105.0 562.2h0M125.8 559.5h0M167.4 561.8h0M188.2 557.5h0M209.0 560.3h0M229.8 556.5h0M250.6 555.1h0M271.4 549.8h0M292.2 556.0h0M313.0 557.6h0M42.6 565.5h0M63.4 556.6h0M84.2 568.2h0M105.0 552.8h0M146.6 562.8h0M167.4 558.3h0M188.2 556.5h0M250.6 561.3h0M313.0 558.3h0M42.6 567.2h0M63.4 567.2h0M84.2 562.9h0M105.0 555.7h0M125.8 559.4h0M146.6 563.3h0M167.4 558.1h0M188.2 563.7h0M209.0 559.2h0M229.8 565.1h0M42.6 559.9h0M63.4 557.5h0M84.2 551.0h0M105.0 558.0h0M146.6 549.8h0M167.4 555.6h0M188.2 555.1h0M250.6 559.6h0M292.2 548.6h0M42.6 553.6h0M63.4 558.4h0M84.2 557.8h0M105.0 547.6h0M125.8 554.8h0M146.6 550.9h0M167.4 551.0h0M188.2 554.4h0M209.0 548.1h0M229.8 551.7h0M271.4 557.8h0M292.2 546.5h0M42.6 564.5h0M63.4 558.6h0M84.2 558.4h0M105.0 558.2h0M125.8 560.7h0M146.6 558.1h0M188.2 563.1h0M209.0 557.0h0M229.8 559.4h0M271.4 559.1h0M292.2 558.5h0M42.6 555.0h0M63.4 552.4h0M84.2 549.4h0M105.0 549.7h0M146.6 546.3h0M188.2 550.4h0M209.0 546.8h0M229.8 547.8h0M250.6 554.1h0M271.4 553.9h0M292.2 545.4h0M313.0 556.2h0M42.6 557.2h0M63.4 549.4h0M84.2 559.7h0M105.0 547.3h0M125.8 548.3h0M146.6 555.4h0M167.4 549.5h0M188.2 554.7h0M209.0 555.8h0M229.8 553.9h0M271.4 553.6h0M292.2 551.1h0M313.0 557.4h0M42.6 549.4h0M63.4 551.9h0M84.2 551.2h0M105.0 551.4h0M125.8 551.4h0M146.6 560.8h0M167.4 549.7h0M229.8 547.3h0M250.6 545.8h0M271.4 550.4h0M292.2 546.9h0M42.6 555.4h0M63.4 552.8h0M84.2 550.8h0M105.0 552.0h0M125.8 552.0h0M167.4 550.2h0M188.2 556.8h0M209.0 550.7h0M229.8 552.9h0M292.2 552.5h0M42.6 557.9h0M63.4 552.9h0M84.2 552.2h0M105.0 547.0h0M125.8 551.6h0M146.6 552.1h0M167.4 553.6h0M209.0 546.4h0M229.8 550.0h0M250.6 555.8h0M271.4 552.0h0M42.6 565.0h0M63.4 563.1h0M84.2 563.8h0M125.8 560.8h0M167.4 562.8h0M188.2 562.0h0M209.0 555.0h0M271.4 560.9h0M292.2 561.1h0M313.0 558.2h0M42.6 561.7h0M63.4 553.7h0M84.2 551.7h0M105.0 549.4h0M125.8 551.2h0M167.4 557.2h0M188.2 547.9h0M209.0 551.4h0M229.8 556.4h0M250.6 555.5h0M271.4 557.6h0M292.2 551.3h0M42.6 548.2h0M63.4 551.0h0M84.2 560.7h0M105.0 557.5h0M125.8 558.6h0M146.6 558.1h0M167.4 554.3h0M188.2 551.1h0M209.0 551.0h0M229.8 557.5h0M292.2 549.4h0M313.0 551.6h0M42.6 570.5h0M63.4 563.0h0M105.0 565.0h0M125.8 556.7h0M146.6 554.4h0M167.4 560.6h0M188.2 560.9h0M209.0 560.9h0M229.8 562.8h0M250.6 562.7h0M292.2 561.3h0M313.0 561.3h0M42.6 553.7h0M63.4 557.3h0M84.2 551.9h0M105.0 549.6h0M125.8 556.0h0M188.2 551.2h0M209.0 558.2h0M229.8 552.7h0M250.6 545.7h0M271.4 556.6h0M292.2 557.6h0M42.6 556.8h0M63.4 554.1h0M84.2 563.3h0M105.0 559.5h0M125.8 557.8h0M146.6 553.5h0M167.4 560.9h0M188.2 553.3h0M209.0 554.6h0M229.8 551.7h0M250.6 554.5h0M292.2 558.5h0M313.0 556.5h0M42.6 560.3h0M63.4 553.5h0M84.2 550.5h0M105.0 551.0h0M125.8 547.6h0M167.4 552.4h0M209.0 549.3h0M229.8 550.4h0M250.6 550.7h0M271.4 558.1h0M292.2 548.6h0M42.6 559.1h0M63.4 559.8h0M84.2 561.3h0M125.8 555.8h0M146.6 548.8h0M167.4 557.6h0M188.2 551.4h0M229.8 561.8h0M250.6 557.3h0M42.6 553.4h0M63.4 560.5h0M84.2 564.9h0M105.0 555.8h0M125.8 554.6h0M146.6 555.4h0M167.4 555.7h0M188.2 556.7h0M229.8 553.7h0M250.6 551.1h0M292.2 554.0h0M42.6 553.8h0M63.4 558.1h0M84.2 556.2h0M125.8 555.3h0M146.6 555.9h0M167.4 554.6h0M209.0 551.3h0M229.8 551.0h0M250.6 549.3h0M271.4 559.1h0M42.6 561.8h0M63.4 563.2h0M84.2 564.7h0M105.0 552.9h0M125.8 562.4h0M146.6 559.4h0M188.2 564.8h0M229.8 556.1h0M250.6 561.0h0M271.4 561.1h0M292.2 554.1h0M42.6 550.6h0M63.4 564.1h0M84.2 553.4h0M105.0 556.1h0M146.6 558.2h0M188.2 554.2h0M209.0 553.2h0M229.8 551.6h0M250.6 545.8h0M292.2 551.3h0M313.0 556.7h0M42.6 557.8h0M63.4 554.4h0M84.2 562.5h0M105.0 556.0h0M125.8 550.9h0M146.6 554.2h0M167.4 555.9h0M188.2 553.2h0M209.0 558.9h0M229.8 560.9h0M250.6 558.6h0M292.2 551.6h0M42.6 553.6h0M63.4 553.4h0M84.2 551.4h0M105.0 553.5h0M125.8 555.7h0M146.6 553.6h0M188.2 552.0h0M229.8 549.3h0M250.6 552.4h0M292.2 546.5h0M313.0 556.2h0M42.6 561.6h0M63.4 560.6h0M84.2 562.8h0M105.0 552.9h0M125.8 552.0h0M188.2 557.3h0M209.0 553.2h0M229.8 561.0h0M250.6 554.6h0M271.4 559.8h0M313.0 554.6h0M42.6 549.7h0M63.4 550.3h0M84.2 551.3h0M105.0 555.4h0M125.8 553.9h0M146.6 549.3h0M167.4 550.9h0M188.2 552.0h0M229.8 549.0h0M250.6 544.1h0M292.2 556.1h0M313.0 551.0h0M42.6 558.9h0M63.4 553.4h0M84.2 556.9h0M105.0 552.4h0M125.8 554.6h0M146.6 557.0h0M167.4 553.9h0M188.2 555.0h0M229.8 559.1h0M250.6 552.1h0M313.0 553.1h0M42.6 555.2h0M63.4 557.0h0M84.2 559.7h0M105.0 556.7h0M125.8 553.6h0M146.6 551.3h0M167.4 562.1h0M188.2 557.2h0M209.0 554.8h0M250.6 553.5h0M271.4 561.4h0M292.2 555.0h0M313.0 550.9h0M42.6 556.7h0M63.4 563.2h0M105.0 550.4h0M125.8 551.8h0M146.6 556.6h0M167.4 552.1h0M188.2 551.4h0M209.0 550.9h0M229.8 555.8h0M250.6 546.1h0M271.4 550.9h0M292.2 544.2h0M313.0 564.4h0M42.6 555.8h0M63.4 553.0h0M84.2 551.0h0M105.0 548.4h0M125.8 547.7h0M146.6 547.5h0M167.4 552.0h0M188.2 556.2h0M209.0 549.6h0M229.8 547.3h0M250.6 545.9h0M271.4 557.6h0M313.0 554.8h0M42.6 548.1h0M63.4 549.7h0M84.2 550.9h0M125.8 549.7h0M146.6 553.2h0M167.4 548.6h0M188.2 547.5h0M209.0 552.4h0M229.8 545.2h0M292.2 542.2h0M42.6 559.1h0M63.4 558.7h0M84.2 566.9h0M105.0 560.9h0M125.8 562.9h0M146.6 561.6h0M167.4 561.7h0M188.2 563.8h0M209.0 556.9h0M229.8 558.8h0M250.6 557.4h0M271.4 563.2h0M42.6 549.5h0M63.4 549.4h0M105.0 552.4h0M125.8 557.5h0M146.6 554.6h0M167.4 552.8h0M188.2 552.2h0M209.0 554.5h0M250.6 548.4h0M271.4 551.9h0M292.2 546.2h0M42.6 557.7h0M63.4 551.1h0M84.2 552.5h0M105.0 551.2h0M125.8 557.0h0M167.4 553.4h0M188.2 555.6h0M209.0 552.2h0M229.8 557.3h0M250.6 548.9h0M271.4 557.4h0M292.2 552.9h0M313.0 551.7h0M42.6 555.2h0M63.4 562.0h0M84.2 559.3h0M105.0 555.9h0M146.6 558.7h0M167.4 556.3h0M188.2 557.1h0M209.0 554.5h0M229.8 559.7h0M250.6 550.5h0M271.4 563.2h0M42.6 565.3h0M63.4 566.3h0M84.2 561.4h0M105.0 561.4h0M125.8 562.4h0M146.6 565.5h0M167.4 560.8h0M188.2 562.2h0M271.4 564.5h0M292.2 554.7h0M42.6 551.6h0M63.4 550.9h0M84.2 555.4h0M105.0 549.7h0M125.8 548.6h0M146.6 553.9h0M167.4 556.7h0M209.0 553.3h0M229.8 549.0h0M250.6 544.0h0M271.4 548.8h0M42.6 564.4h0M63.4 562.7h0M105.0 559.3h0M125.8 561.5h0M146.6 561.3h0M167.4 554.9h0M188.2 561.1h0M229.8 561.1h0M250.6 564.5h0M271.4 561.4h0M292.2 556.4h0M313.0 561.7h0M42.6 565.0h0M63.4 552.0h0M84.2 558.0h0M105.0 545.1h0M125.8 559.2h0M146.6 550.5h0M167.4 558.7h0M229.8 551.8h0M250.6 554.7h0M271.4 557.5h0M313.0 554.8h0M42.6 550.3h0M63.4 552.5h0M84.2 550.5h0M105.0 551.0h0M125.8 545.4h0M146.6 555.1h0M167.4 552.1h0M209.0 546.2h0M250.6 544.1h0M271.4 549.4h0M313.0 554.7h0M42.6 568.7h0M63.4 543.1h0M84.2 563.7h0M105.0 560.8h0M125.8 562.6h0M146.6 566.5h0M188.2 562.4h0M209.0 555.4h0M229.8 560.8h0M250.6 559.6h0M271.4 564.4h0M42.6 562.9h0M63.4 563.7h0M84.2 561.9h0M125.8 560.1h0M167.4 555.9h0M229.8 550.7h0M250.6 557.9h0M271.4 560.7h0M292.2 558.0h0M313.0 560.3h0M42.6 568.8h0M63.4 561.6h0M84.2 561.0h0M105.0 564.3h0M125.8 556.0h0M146.6 562.3h0M167.4 559.1h0M188.2 561.9h0M271.4 564.6h0M313.0 564.3h0M42.6 563.5h0M63.4 558.1h0M84.2 553.2h0M105.0 560.2h0M125.8 549.6h0M146.6 557.0h0M188.2 558.1h0M209.0 550.9h0M229.8 553.8h0M250.6 548.3h0M271.4 551.9h0M42.6 553.7h0M63.4 550.7h0M84.2 550.3h0M105.0 552.5h0M125.8 552.1h0M146.6 551.5h0M167.4 548.6h0M188.2 557.5h0M209.0 545.0h0M229.8 555.8h0M250.6 548.6h0M271.4 547.1h0M292.2 551.1h0M313.0 549.1h0M42.6 546.8h0M63.4 549.4h0M84.2 546.8h0M125.8 551.1h0M146.6 546.0h0M167.4 549.0h0M229.8 551.3h0M250.6 543.8h0M271.4 551.8h0M42.6 560.4h0M63.4 564.6h0M105.0 554.1h0M125.8 563.1h0M146.6 560.4h0M167.4 553.6h0M209.0 560.4h0M229.8 564.7h0M271.4 562.9h0M292.2 562.6h0M313.0 560.6h0M42.6 561.4h0M63.4 559.0h0M105.0 556.2h0M125.8 553.1h0M146.6 555.5h0M188.2 562.1h0M209.0 555.7h0M229.8 562.6h0M250.6 557.1h0M271.4 555.9h0M292.2 549.8h0M42.6 549.7h0M63.4 554.5h0M105.0 548.3h0M125.8 552.6h0M167.4 552.5h0M188.2 552.4h0M209.0 549.2h0M229.8 551.6h0M271.4 548.6h0M292.2 546.5h0M313.0 557.8h0M42.6 550.7h0M63.4 549.7h0M84.2 550.6h0M105.0 549.2h0M125.8 550.7h0M146.6 548.4h0M167.4 551.3h0M209.0 552.6h0M229.8 546.8h0M250.6 544.1h0M271.4 558.6h0M42.6 564.2h0M63.4 553.9h0M84.2 552.5h0M105.0 561.5h0M125.8 552.9h0M146.6 554.3h0M167.4 556.0h0M188.2 553.7h0M229.8 555.5h0M250.6 556.3h0M313.0 554.0h0M42.6 561.5h0M63.4 562.6h0M84.2 565.0h0M105.0 563.8h0M125.8 553.6h0M146.6 563.7h0M167.4 557.9h0M188.2 557.4h0M209.0 558.0h0M292.2 560.9h0M313.0 560.3h0M42.6 554.1h0M84.2 551.0h0M105.0 550.1h0M125.8 558.3h0M146.6 550.8h0M167.4 550.7h0M209.0 547.1h0M250.6 549.6h0M271.4 560.8h0M313.0 556.9h0M42.6 560.1h0M63.4 551.8h0M84.2 560.7h0M105.0 554.4h0M125.8 556.1h0M146.6 555.4h0M188.2 554.0h0M209.0 555.3h0M229.8 555.4h0M271.4 555.5h0M292.2 563.8h0M42.6 557.7h0M63.4 558.8h0M84.2 559.2h0M125.8 560.1h0M146.6 558.6h0M167.4 558.9h0M188.2 558.7h0M209.0 548.7h0M250.6 560.5h0M292.2 557.9h0M42.6 559.5h0M63.4 557.2h0M84.2 565.3h0M105.0 554.2h0M146.6 553.5h0M167.4 556.5h0M188.2 555.5h0M209.0 556.0h0M229.8 557.7h0M250.6 555.2h0M271.4 557.6h0M292.2 555.4h0M42.6 559.8h0M63.4 554.4h0M84.2 553.3h0M125.8 547.6h0M167.4 552.7h0M188.2 555.3h0M209.0 557.0h0M229.8 552.7h0M271.4 557.3h0M292.2 558.9h0M313.0 551.9h0M42.6 563.0h0M63.4 558.2h0M84.2 551.4h0M105.0 549.7h0M125.8 550.0h0M146.6 550.8h0M167.4 549.7h0M188.2 552.9h0M209.0 545.8h0M229.8 539.1h0M250.6 552.8h0M271.4 554.1h0M313.0 559.4h0M42.6 559.6h0M63.4 560.7h0M84.2 553.7h0M146.6 551.3h0M167.4 553.0h0M188.2 553.3h0M229.8 553.2h0M250.6 553.6h0M313.0 558.2h0M42.6 560.3h0M63.4 558.1h0M84.2 555.2h0M105.0 558.9h0M125.8 553.2h0M146.6 553.8h0M167.4 556.0h0M188.2 557.5h0M209.0 551.8h0M229.8 556.8h0M250.6 558.7h0M271.4 555.7h0M313.0 554.8h0M42.6 566.1h0M63.4 562.1h0M84.2 566.8h0M105.0 563.1h0M125.8 564.3h0M146.6 564.7h0M229.8 561.3h0M250.6 548.4h0M271.4 561.7h0M313.0 562.9h0M42.6 556.1h0M63.4 557.5h0M84.2 562.8h0M125.8 555.8h0M146.6 559.6h0M167.4 557.1h0M188.2 555.4h0M209.0 556.8h0M229.8 551.3h0M250.6 559.8h0M271.4 560.3h0M313.0 549.0h0M42.6 546.9h0M63.4 556.8h0M84.2 553.5h0M105.0 553.6h0M125.8 554.1h0M146.6 547.4h0M167.4 552.0h0M188.2 554.1h0M229.8 550.4h0M250.6 549.5h0M292.2 544.1h0M42.6 561.0h0M63.4 560.5h0M84.2 562.1h0M105.0 572.3h0M125.8 559.9h0M146.6 559.6h0M167.4 560.6h0M188.2 559.3h0M209.0 550.2h0M229.8 553.6h0M250.6 560.0h0M292.2 561.3h0M42.6 562.9h0M63.4 563.6h0M84.2 560.1h0M105.0 563.5h0M188.2 563.2h0M229.8 562.1h0M250.6 561.4h0M271.4 559.3h0M292.2 566.1h0M42.6 548.1h0M63.4 549.0h0M84.2 550.9h0M105.0 547.5h0M125.8 550.2h0M146.6 548.4h0M188.2 548.3h0M209.0 551.6h0M229.8 551.3h0M313.0 545.7h0M42.6 551.8h0M63.4 563.3h0M84.2 555.0h0M105.0 552.3h0M125.8 550.4h0M146.6 548.2h0M167.4 554.6h0M188.2 553.7h0M209.0 554.5h0M229.8 555.1h0M292.2 547.1h0M313.0 555.1h0M42.6 545.4h0M63.4 549.3h0M84.2 548.3h0M105.0 548.1h0M125.8 546.1h0M146.6 544.9h0M167.4 550.0h0M188.2 554.2h0M229.8 549.4h0M271.4 550.0h0M42.6 559.4h0M63.4 559.3h0M84.2 561.0h0M105.0 558.1h0M125.8 553.4h0M146.6 551.7h0M167.4 550.8h0M188.2 552.6h0M209.0 549.5h0M250.6 555.5h0M271.4 551.1h0M42.6 557.1h0M63.4 558.0h0M105.0 556.3h0M125.8 559.8h0M146.6 558.7h0M167.4 555.5h0M188.2 550.5h0M209.0 555.9h0M229.8 560.4h0M250.6 548.8h0M271.4 556.3h0M292.2 558.5h0M313.0 562.7h0M42.6 556.7h0M63.4 564.6h0M84.2 566.1h0M105.0 564.3h0M125.8 558.5h0M146.6 559.1h0M167.4 558.5h0M188.2 555.3h0M209.0 556.7h0M229.8 563.4h0M250.6 559.9h0M271.4 564.3h0M292.2 561.2h0M313.0 564.2h0M42.6 548.4h0M63.4 551.2h0M84.2 550.1h0M105.0 550.2h0M125.8 549.5h0M146.6 548.1h0M167.4 552.8h0M229.8 547.0h0M250.6 552.2h0M292.2 547.9h0M313.0 548.2h0M42.6 548.2h0M63.4 547.9h0M84.2 547.7h0M105.0 546.9h0M125.8 545.0h0M146.6 546.5h0M167.4 550.1h0M188.2 546.1h0M209.0 543.9h0M229.8 546.7h0M250.6 542.5h0M271.4 548.2h0M292.2 543.1h0M42.6 559.9h0M63.4 559.9h0M84.2 559.2h0M105.0 556.3h0M125.8 560.9h0M146.6 554.2h0M167.4 559.8h0M188.2 557.2h0M250.6 559.1h0M42.6 555.7h0M63.4 558.9h0M84.2 556.3h0M105.0 561.8h0M125.8 563.5h0M146.6 556.9h0M250.6 554.5h0M271.4 562.5h0M292.2 557.2h0M313.0 558.1h0M42.6 552.9h0M63.4 553.6h0M84.2 560.0h0M105.0 547.5h0M125.8 553.7h0M167.4 554.7h0M188.2 552.8h0M229.8 549.9h0M250.6 550.2h0M271.4 550.5h0M292.2 547.8h0M313.0 554.6h0M42.6 564.9h0M63.4 563.4h0M84.2 563.4h0M105.0 559.8h0M125.8 550.6h0M167.4 559.6h0M188.2 561.9h0M209.0 552.3h0M229.8 561.9h0M250.6 556.9h0M271.4 558.5h0M292.2 549.7h0M42.6 552.4h0M63.4 556.8h0M84.2 558.3h0M105.0 560.2h0M125.8 554.1h0M146.6 558.0h0M167.4 553.9h0M188.2 553.9h0M209.0 553.0h0M229.8 556.6h0M250.6 554.6h0M271.4 558.8h0M313.0 562.0h0M42.6 565.2h0M63.4 559.9h0M84.2 564.0h0M105.0 551.5h0M125.8 556.9h0M146.6 555.0h0M167.4 556.3h0M188.2 554.8h0M229.8 548.3h0M250.6 559.0h0M42.6 554.5h0M63.4 559.7h0M84.2 558.7h0M105.0 548.7h0M125.8 550.7h0M146.6 560.7h0M167.4 558.3h0M209.0 555.9h0M229.8 551.7h0M271.4 558.2h0M292.2 550.6h0M313.0 560.4h0M42.6 552.0h0M63.4 553.0h0M105.0 550.9h0M125.8 548.6h0M167.4 553.0h0M188.2 552.1h0M209.0 553.9h0M229.8 547.9h0M250.6 545.5h0M271.4 552.3h0M292.2 543.6h0M42.6 563.3h0M63.4 558.3h0M84.2 553.1h0M105.0 558.3h0M125.8 552.9h0M146.6 559.3h0M167.4 557.9h0M188.2 554.4h0M209.0 556.6h0M229.8 554.8h0M292.2 553.0h0M42.6 548.6h0M63.4 551.4h0M84.2 549.9h0M105.0 550.9h0M125.8 552.4h0M146.6 555.0h0M167.4 551.9h0M209.0 569.1h0M229.8 548.8h0M250.6 548.2h0M42.6 558.7h0M63.4 559.6h0M84.2 559.4h0M105.0 559.4h0M125.8 556.3h0M146.6 563.9h0M167.4 560.8h0M188.2 555.4h0M209.0 558.3h0M229.8 562.1h0M250.6 557.7h0M271.4 554.8h0M313.0 555.1h0M42.6 561.6h0M63.4 558.0h0M84.2 556.7h0M105.0 554.7h0M125.8 552.4h0M146.6 547.2h0M167.4 555.2h0M188.2 551.4h0M209.0 554.4h0M229.8 557.7h0M250.6 559.9h0M271.4 555.0h0M42.6 566.4h0M63.4 561.6h0M84.2 563.3h0M105.0 558.9h0M125.8 563.2h0M167.4 561.3h0M209.0 562.1h0M271.4 566.1h0M292.2 564.6h0M42.6 566.9h0M63.4 560.4h0M84.2 565.0h0M105.0 560.0h0M125.8 562.8h0M146.6 561.5h0M167.4 561.0h0M188.2 561.4h0M209.0 556.7h0M229.8 559.6h0M250.6 555.4h0M292.2 558.7h0M42.6 562.3h0M63.4 550.6h0M84.2 552.4h0M125.8 550.7h0M146.6 548.3h0M167.4 555.7h0M188.2 556.8h0M209.0 550.7h0M229.8 553.6h0M250.6 553.0h0M271.4 557.6h0M292.2 548.1h0M313.0 539.5h0M42.6 564.3h0M63.4 558.0h0M84.2 555.1h0M105.0 556.5h0M125.8 553.7h0M167.4 559.9h0M188.2 555.8h0M229.8 559.5h0M250.6 558.2h0M42.6 553.4h0M63.4 555.4h0M84.2 556.1h0M105.0 552.6h0M125.8 549.9h0M167.4 553.3h0M188.2 549.0h0M209.0 546.9h0M229.8 554.5h0M250.6 556.9h0M313.0 556.9h0M42.6 552.1h0M63.4 556.6h0M105.0 549.8h0M125.8 550.6h0M146.6 558.5h0M188.2 548.0h0M250.6 553.2h0M313.0 554.9h0M42.6 550.3h0M63.4 552.9h0M84.2 551.5h0M105.0 547.3h0M146.6 549.0h0M209.0 546.5h0M229.8 554.2h0M271.4 548.6h0M292.2 549.4h0M42.6 553.1h0M63.4 551.3h0M84.2 551.5h0M105.0 552.7h0M125.8 545.8h0M146.6 553.3h0M167.4 553.2h0M229.8 557.7h0M292.2 546.4h0M313.0 549.4h0M42.6 550.5h0M63.4 552.8h0M84.2 551.1h0M105.0 550.2h0M125.8 549.5h0M146.6 549.2h0M167.4 556.1h0M209.0 548.0h0M229.8 551.4h0M271.4 556.6h0M292.2 555.9h0M313.0 549.4h0M42.6 559.6h0M63.4 563.0h0M84.2 557.4h0M105.0 547.8h0M125.8 551.4h0M167.4 552.0h0M188.2 551.1h0M229.8 562.6h0M250.6 556.9h0M271.4 550.0h0M292.2 550.0h0" stroke="#000" stroke-width="2.9" stroke-linecap="round" fill="none"/><path d="M42.6,562.4 46.0,561.8 49.4,561.2 52.9,560.7 56.3,560.3 59.7,559.8 63.1,559.4 66.6,559.1 70.0,558.7 73.4,558.4 76.8,558.1 80.3,557.9 83.7,557.6 87.1,557.4 90.5,557.2 93.9,557.0 97.4,556.8 100.8,556.6 104.2,556.4 107.6,556.3 111.1,556.1 114.5,556.0 117.9,555.9 121.3,555.7 124.7,555.6 128.2,555.5 131.6,555.4 135.0,555.4 138.4,555.3 141.9,555.3 145.3,555.2 148.7,555.2 152.1,555.2 155.6,555.1 159.0,555.1 162.4,555.2 165.8,555.2 169.2,555.2 172.7,555.3 176.1,555.3 179.5,555.4 182.9,555.5 186.4,555.6 189.8,555.6 193.2,555.7 196.6,555.8 200.0,555.9 203.5,556.0 206.9,556.1 210.3,556.2 213.7,556.3 217.2,556.4 220.6,556.5 224.0,556.6 227.4,556.7 230.9,556.8 234.3,556.9 237.7,557.0 241.1,557.1 244.5,557.2 248.0,557.3 251.4,557.4 254.8,557.5 258.2,557.6 261.7,557.7 265.1,557.8 268.5,557.8 271.9,557.9 275.3,558.0 278.8,558.0 282.2,558.0 285.6,558.1 289.0,558.1 292.5,558.1 295.9,558.1 299.3,558.1 302.7,558.1 306.2,558.0 309.6,558.0 313.0,557.9" stroke="#4DBBD5" stroke-width="2.3" fill="none" stroke-linejoin="round"/><text transform="translate(30.4 594.9) scale(0.98 1.06)" font-size="10" fill="#4d4d4d" text-anchor="end" stroke="#4d4d4d" stroke-width="0.18">0</text><text transform="translate(30.4 530.5) scale(0.98 1.06)" font-size="10" fill="#4d4d4d" text-anchor="end" stroke="#4d4d4d" stroke-width="0.18">10</text><text transform="translate(30.4 466.0) scale(0.98 1.06)" font-size="10" fill="#4d4d4d" text-anchor="end" stroke="#4d4d4d" stroke-width="0.18">20</text><text transform="translate(30.4 401.6) scale(0.98 1.06)" font-size="10" fill="#4d4d4d" text-anchor="end" stroke="#4d4d4d" stroke-width="0.18">30</text><text transform="translate(41.5 609.8) scale(0.98 1.06)" font-size="10" fill="#4d4d4d" stroke="#4d4d4d" stroke-width="0.18">0</text><text transform="translate(145.5 609.8) scale(0.98 1.06)" font-size="10" fill="#4d4d4d" stroke="#4d4d4d" stroke-width="0.18">5</text><text transform="translate(247.9 609.8) scale(0.98 1.06)" font-size="10" fill="#4d4d4d" stroke="#4d4d4d" stroke-width="0.18">10</text><text transform="translate(136.9 620.6) scale(1 1.06)" font-size="10" stroke="#000" stroke-width="0.18">Time Since Admission (Days)</text><text transform="translate(10.7 490.8) rotate(-90)" font-size="10" text-anchor="middle" stroke="#000" stroke-width="0.18">Glucose (mmol/L)</text><text transform="translate(31.8 383.5) scale(0.99 1.06)" font-size="9.9" fill="#1a1a1a" stroke="#1a1a1a" stroke-width="0.18">Trajectory = 1</text><text transform="translate(0.4 370.1) scale(1.0 1.03)" font-size="17" stroke="#000" stroke-width="0.18">B</text><path d="M388.2 560.4H684.7M388.2 496.0H684.7M388.2 431.5H684.7M452.2 390.1V602.2M556.2 390.1V602.2M660.2 390.1V602.2" stroke="#ededed" stroke-width="0.6" fill="none"/><path d="M388.2 592.6H684.7M388.2 528.2H684.7M388.2 463.7H684.7M388.2 399.3H684.7M400.2 390.1V602.2M504.2 390.1V602.2M608.2 390.1V602.2" stroke="#ebebeb" stroke-width="1.1" fill="none"/><path d="M400.2,553.7 421.0,554.2 441.8,542.4 504.2,555.4 545.8,531.4 566.6,541.8 587.4,544.9 608.2,534.4 629.0,539.7 649.8,543.5 670.6,537.9M400.2,540.3 421.0,541.9 441.8,541.3 462.6,533.1 483.4,536.7 504.2,543.8 649.8,543.9 670.6,549.1M400.2,547.7 421.0,547.7 441.8,541.8 462.6,535.9 504.2,543.3 525.0,530.8 545.8,540.2 649.8,549.9M400.2,556.4 421.0,535.7 441.8,531.8 462.6,532.0 504.2,539.7 545.8,546.4 566.6,539.4 608.2,542.9M400.2,538.6 421.0,535.6 441.8,532.2 462.6,530.7 483.4,533.9 504.2,540.5 525.0,535.2 545.8,541.6 566.6,528.0 608.2,520.1 629.0,546.9 649.8,537.6M400.2,563.3 421.0,560.8 441.8,555.7 483.4,555.0 504.2,559.1 525.0,552.9 545.8,562.5 566.6,548.0 587.4,558.2 629.0,555.5M400.2,549.8 421.0,558.9 441.8,555.4 462.6,560.1 483.4,555.6 504.2,558.6 525.0,543.3 545.8,556.0 587.4,550.9 608.2,556.0 670.6,551.1M400.2,551.6 421.0,564.2 441.8,557.9 462.6,562.5 483.4,550.1 504.2,562.3 566.6,552.9 608.2,558.4 629.0,561.6M400.2,550.5 421.0,552.7 462.6,554.0 483.4,532.3 504.2,555.6 525.0,548.3 545.8,548.0 566.6,542.5 608.2,539.8 649.8,542.6 670.6,547.9M400.2,555.0 421.0,535.7 441.8,538.1 462.6,535.5 483.4,533.7 504.2,542.6 525.0,543.6 545.8,538.1 629.0,530.1 649.8,539.8M400.2,551.6 421.0,544.4 441.8,552.4 483.4,547.4 525.0,554.2 545.8,555.6 587.4,543.8 608.2,547.3 670.6,555.9M400.2,552.3 421.0,546.2 441.8,548.5 462.6,556.3 483.4,543.8 504.2,555.5 525.0,539.6 545.8,551.8 587.4,550.3 608.2,531.5 629.0,535.7 670.6,538.7M400.2,560.7 421.0,562.5 441.8,562.4 462.6,561.1 525.0,561.8 545.8,564.5 587.4,555.1 608.2,544.8 649.8,559.5 670.6,563.7M400.2,537.9 421.0,560.2 441.8,553.7 462.6,540.4 504.2,546.6 545.8,548.7 587.4,557.1 608.2,539.3 629.0,546.4 649.8,545.4 670.6,555.3M400.2,555.5 421.0,552.3 441.8,553.9 462.6,549.5 483.4,549.5 504.2,559.5 525.0,550.4 545.8,555.9 587.4,556.2 608.2,544.4 629.0,562.5 670.6,550.1M400.2,530.2 421.0,538.0 441.8,529.0 462.6,529.3 483.4,530.9 504.2,538.5 525.0,532.5 545.8,528.7 587.4,532.3 629.0,530.9 649.8,536.8M400.2,534.7 421.0,535.9 441.8,544.7 462.6,540.1 483.4,542.1 504.2,535.9 525.0,539.8 545.8,551.7 587.4,537.7 629.0,525.8 649.8,543.6 670.6,542.5M400.2,538.0 421.0,543.3 441.8,551.3 462.6,543.1 504.2,547.6 525.0,546.5 545.8,539.9 587.4,538.8 608.2,546.2 629.0,545.1 649.8,534.7M400.2,556.4 421.0,553.6 441.8,541.9 462.6,549.9 483.4,548.1 504.2,548.2 525.0,540.1 566.6,551.4 608.2,531.0 629.0,546.0 670.6,553.3M400.2,543.3 421.0,543.4 441.8,543.5 462.6,551.3 483.4,539.3 525.0,537.2 545.8,537.9 587.4,553.6M400.2,553.8 421.0,548.7 441.8,532.7 462.6,546.4 504.2,536.8 587.4,539.8 608.2,534.3 649.8,543.0M400.2,544.8 421.0,543.7 441.8,548.3 462.6,541.4 483.4,534.0 504.2,553.3 525.0,548.9 587.4,549.1 608.2,535.4 629.0,559.5M400.2,552.6 421.0,552.0 441.8,545.8 462.6,537.5 483.4,544.7 504.2,552.5 525.0,547.1 545.8,540.9 629.0,558.8 649.8,554.9M400.2,540.8 421.0,548.3 441.8,554.1 462.6,539.7 483.4,547.6 504.2,547.3 545.8,530.9 566.6,551.0 587.4,552.7 608.2,536.2 629.0,563.4 670.6,553.6M400.2,552.3 421.0,552.6 441.8,561.2 462.6,550.4 483.4,556.1 504.2,548.8 545.8,548.3 566.6,553.8 587.4,558.7 608.2,544.9 629.0,544.5 649.8,549.0 670.6,555.1M400.2,564.4 421.0,556.9 441.8,554.2 462.6,553.8 483.4,555.0 504.2,559.9 525.0,548.9 566.6,558.5 587.4,556.0 629.0,555.0 649.8,548.1 670.6,546.8M400.2,546.9 421.0,548.9 441.8,546.0 462.6,548.1 483.4,558.8 545.8,540.8 566.6,548.9 608.2,541.1 629.0,549.9 670.6,553.9M400.2,548.7 421.0,554.6 441.8,558.8 462.6,562.0 483.4,548.9 504.2,548.8 525.0,546.9 566.6,554.4 608.2,537.7M400.2,534.2 421.0,535.0 441.8,552.6 504.2,528.9 545.8,540.3 566.6,532.4 587.4,542.7 608.2,527.3 649.8,552.4 670.6,536.6M400.2,565.2 421.0,561.1 441.8,562.0 462.6,555.0 483.4,556.1 545.8,557.8 566.6,557.7 608.2,559.4 629.0,556.6 649.8,561.3M400.2,548.3 421.0,540.8 441.8,544.4 462.6,541.4 483.4,535.7 504.2,532.5 525.0,530.6 587.4,533.7 608.2,534.0 629.0,543.0 670.6,553.4M400.2,553.9 421.0,557.6 462.6,552.4 483.4,537.6 504.2,567.0 525.0,552.2 545.8,551.2 587.4,541.5 608.2,552.2 629.0,553.5 649.8,548.5 670.6,547.9M400.2,560.2 421.0,556.5 441.8,553.0 483.4,549.1 504.2,556.3 525.0,556.1 545.8,556.5 566.6,559.3 629.0,557.2 649.8,549.3M400.2,565.4 421.0,561.4 441.8,543.3 504.2,545.9 525.0,560.3 566.6,549.8 608.2,557.4 629.0,555.4 670.6,556.4M400.2,557.7 421.0,542.3 441.8,549.4 483.4,543.4 504.2,545.9 525.0,550.5 545.8,540.9 566.6,543.2 587.4,541.5 629.0,566.0 649.8,549.1M400.2,535.4 421.0,551.1 441.8,553.7 462.6,562.8 525.0,555.2 566.6,536.8 587.4,543.5 608.2,544.8 629.0,550.0 649.8,523.7 670.6,552.3M400.2,551.9 421.0,541.7 441.8,554.0 462.6,549.8 483.4,545.9 504.2,540.0 525.0,533.1 629.0,544.4M400.2,560.1 421.0,555.6 441.8,547.4 462.6,549.5 483.4,548.2 504.2,552.2 525.0,545.6 545.8,545.0 566.6,559.7 587.4,556.7 608.2,542.9M400.2,551.6 421.0,551.2 441.8,557.6 462.6,536.0 483.4,536.7 525.0,554.4 587.4,552.6 629.0,556.8 649.8,542.3M400.2,535.7 421.0,547.4 441.8,530.7 462.6,538.3 483.4,528.8 525.0,526.2 587.4,542.2 649.8,511.8 670.6,539.1M400.2,537.8 421.0,540.9 545.8,552.2 566.6,545.7 608.2,539.3 629.0,553.8 649.8,539.7 670.6,548.3M400.2,547.5 421.0,540.8 441.8,560.9 462.6,542.1 504.2,540.9 525.0,548.5 545.8,555.1 566.6,535.5 608.2,537.4 629.0,546.8 649.8,553.9M400.2,537.0 441.8,539.6 462.6,536.7 483.4,539.9 504.2,536.5 525.0,539.2 566.6,536.6 587.4,537.0 608.2,526.9 629.0,534.9M400.2,550.1 421.0,541.2 441.8,550.3 462.6,550.0 483.4,556.8 504.2,545.2 525.0,543.1 545.8,543.8 566.6,551.8 629.0,540.5 670.6,550.4M400.2,543.1 421.0,539.5 441.8,536.3 462.6,545.4 483.4,531.1 504.2,547.4 525.0,536.8 545.8,550.9 566.6,537.2 587.4,554.4 608.2,536.1 629.0,535.1 649.8,549.4 670.6,556.8M400.2,548.5 421.0,549.0 441.8,553.5 462.6,542.0 504.2,537.7 525.0,534.1 545.8,544.5 566.6,543.2 587.4,547.6 608.2,547.6 629.0,536.1 649.8,545.5 670.6,540.7M400.2,561.8 421.0,547.5 441.8,550.4 462.6,555.7 483.4,552.2 504.2,554.6 525.0,542.4 566.6,553.9 587.4,555.0 649.8,546.9M400.2,551.6 421.0,565.4 441.8,561.6 462.6,556.0 483.4,564.8 504.2,567.0 649.8,559.4 670.6,561.8M400.2,555.5 421.0,554.3 441.8,545.1 462.6,555.7 483.4,551.6 504.2,554.3 608.2,546.5 629.0,540.2 649.8,549.2M400.2,538.3 421.0,538.0 441.8,551.6 462.6,539.0 483.4,530.8 504.2,544.0 525.0,540.4 545.8,542.5 566.6,541.3 608.2,539.1 649.8,537.6 670.6,551.2M400.2,554.8 421.0,551.5 441.8,556.5 483.4,549.2 504.2,546.8 525.0,550.6 545.8,555.1 566.6,549.0 587.4,518.0 608.2,544.1 649.8,558.4 670.6,550.2M400.2,546.1 421.0,553.7 441.8,534.0 462.6,536.0 483.4,529.3 504.2,536.0 525.0,552.5 545.8,537.8 566.6,550.5 587.4,550.5 608.2,535.4 629.0,550.8 649.8,543.8M400.2,542.1 421.0,535.1 441.8,537.4 462.6,538.3 483.4,536.7 504.2,539.5 525.0,539.4 566.6,532.7 608.2,524.5 629.0,541.0 649.8,538.5 670.6,535.9M400.2,562.1 421.0,560.3 441.8,560.7 483.4,541.8 504.2,555.7 525.0,552.2 566.6,536.5 587.4,551.9 670.6,554.8M400.2,539.8 421.0,540.8 441.8,537.0 483.4,534.7 504.2,532.0 525.0,550.0 545.8,544.8 566.6,533.3 587.4,534.9 629.0,533.9 649.8,531.9M400.2,535.2 421.0,539.2 441.8,540.5 462.6,534.2 483.4,534.8 504.2,538.9 525.0,537.4 545.8,537.1 566.6,528.1 587.4,544.1 608.2,522.8M400.2,536.1 421.0,541.8 441.8,544.2 462.6,532.7 483.4,538.8 504.2,539.7 525.0,531.6 545.8,539.4 566.6,528.1 587.4,542.1 670.6,548.1M400.2,537.2 421.0,545.5 441.8,547.1 462.6,538.0 483.4,537.0 504.2,538.1 545.8,537.3 566.6,536.5 608.2,540.1 629.0,528.7M400.2,535.3 421.0,551.4 441.8,534.7 462.6,530.2 504.2,538.2 545.8,543.2 587.4,536.2 629.0,531.5 649.8,545.4 670.6,540.1M400.2,533.0 421.0,531.2 441.8,535.1 462.6,527.9 483.4,534.9 504.2,531.9 525.0,528.5 545.8,526.6 587.4,543.0 608.2,524.4 629.0,532.9 670.6,532.9M400.2,547.8 421.0,554.2 441.8,545.6 462.6,549.6 483.4,540.9 504.2,533.6 525.0,540.4 545.8,552.7 566.6,546.6 608.2,539.6 629.0,529.8 649.8,550.5M400.2,561.7 421.0,555.3 441.8,548.0 462.6,543.8 483.4,536.4 504.2,539.8 525.0,540.3 587.4,557.4 608.2,539.4 649.8,551.3 670.6,548.1M400.2,547.9 421.0,559.9 462.6,549.6 483.4,538.7 504.2,542.9 525.0,533.1 545.8,548.9 566.6,540.6 587.4,548.2 608.2,569.8 629.0,547.0 649.8,542.5 670.6,551.1M400.2,546.2 421.0,556.2 462.6,549.2 483.4,552.7 504.2,564.0 525.0,553.3 566.6,544.5 587.4,559.1 608.2,552.6 629.0,548.0 670.6,564.5M400.2,524.5 421.0,553.6 441.8,555.9 462.6,556.3 483.4,561.2 504.2,563.5 545.8,551.9 629.0,552.6 649.8,557.5 670.6,559.4M400.2,551.4 421.0,547.2 441.8,562.4 462.6,555.2 483.4,544.7 504.2,551.6 525.0,554.7 545.8,548.9 587.4,551.6 608.2,558.8 629.0,553.1 670.6,566.8M400.2,547.6 421.0,533.5 441.8,543.8 462.6,550.8 504.2,558.8 545.8,545.4 629.0,532.8 670.6,554.5M400.2,550.1 421.0,537.1 462.6,542.5 483.4,549.4 504.2,528.0 525.0,542.2 566.6,541.3 587.4,536.7 608.2,537.5 649.8,548.3 670.6,532.5M400.2,548.2 421.0,558.7 441.8,556.5 462.6,545.8 483.4,557.1 504.2,561.4 525.0,554.0 545.8,560.1 649.8,561.0M400.2,561.7 421.0,562.5 441.8,558.5 462.6,551.5 483.4,560.6 504.2,563.3 525.0,556.9 545.8,560.8 608.2,559.0 629.0,569.1M400.2,541.8 421.0,542.5 441.8,545.6 462.6,546.8 483.4,557.5 504.2,545.6 566.6,548.5 587.4,542.6 649.8,547.8M400.2,547.3 421.0,551.2 441.8,549.7 462.6,552.5 483.4,535.5 504.2,559.8 525.0,561.1 545.8,539.6 566.6,542.4 587.4,556.9 629.0,547.7 649.8,545.9M400.2,551.9 421.0,548.4 441.8,547.2 462.6,547.4 483.4,537.1 504.2,547.6 525.0,542.8 545.8,553.1 566.6,546.2 608.2,549.2 629.0,533.9 649.8,554.4 670.6,543.5M400.2,558.9 421.0,550.3 441.8,547.7 462.6,546.7 504.2,540.9 545.8,539.8 587.4,547.2 608.2,536.2 649.8,554.1 670.6,535.3M400.2,538.9 421.0,539.3 462.6,545.8 483.4,528.7 504.2,531.6 525.0,546.1 545.8,534.6 566.6,539.8 608.2,533.3 649.8,537.0 670.6,539.5M400.2,558.1 421.0,536.4 441.8,540.6 462.6,551.5 483.4,546.8 504.2,553.5 525.0,536.4 545.8,554.5 566.6,548.6 587.4,544.9 649.8,546.4M400.2,559.2 421.0,544.8 441.8,547.4 462.6,537.9 483.4,537.8 504.2,536.7 525.0,530.5 587.4,550.5 608.2,531.6 649.8,539.8 670.6,542.8M400.2,550.1 421.0,555.6 441.8,550.7 462.6,553.8 483.4,545.0 504.2,548.8 525.0,561.0 545.8,543.2 566.6,549.6 587.4,556.7 608.2,556.7 629.0,558.4M400.2,554.5 421.0,566.4 441.8,551.5 462.6,555.2 483.4,556.6 504.2,556.5 525.0,560.7 545.8,556.6 566.6,559.1 587.4,557.2 608.2,553.3 649.8,549.2 670.6,563.9M400.2,542.9 421.0,539.2 441.8,551.9 462.6,552.5 483.4,540.7 525.0,548.8 545.8,557.0 566.6,539.9 608.2,548.2M400.2,543.4 421.0,541.7 441.8,539.4 483.4,546.3 504.2,547.9 525.0,545.7 566.6,538.6 587.4,536.6 608.2,538.8 629.0,543.0 649.8,543.9 670.6,548.4M400.2,543.5 421.0,536.2 441.8,547.9 462.6,535.0 504.2,554.7 545.8,533.0 566.6,538.0 608.2,534.6 629.0,543.3 670.6,534.7M400.2,541.5 421.0,543.0 441.8,541.3 483.4,532.7 504.2,546.3 545.8,556.2 587.4,542.9 670.6,535.7M400.2,541.8 421.0,548.7 441.8,547.2 462.6,533.9 504.2,536.1 525.0,538.7 545.8,554.4 629.0,556.4 649.8,542.9 670.6,546.9M400.2,542.1 421.0,573.9 441.8,539.7 462.6,545.2 483.4,543.7 504.2,530.2 525.0,541.3 587.4,536.5 608.2,530.5 629.0,548.1 649.8,541.9 670.6,543.9M400.2,558.8 441.8,560.0 462.6,554.7 483.4,559.0 504.2,556.2 545.8,558.0 587.4,563.2 608.2,556.8 629.0,562.6 649.8,559.6 670.6,562.1M400.2,566.4 421.0,555.7 441.8,559.8 462.6,551.5 504.2,545.1 525.0,553.3 545.8,546.8 566.6,552.9 587.4,551.7 608.2,551.0 629.0,555.4M400.2,539.8 421.0,552.4 441.8,533.5 462.6,546.1 504.2,546.9 525.0,535.2 545.8,534.6 566.6,543.6 629.0,542.1 649.8,547.2 670.6,543.6M400.2,548.8 421.0,545.1 441.8,537.6 462.6,544.9 483.4,546.0 504.2,545.1 525.0,530.7 545.8,558.2 566.6,548.3 587.4,548.6 670.6,535.3M400.2,556.4 421.0,563.4 441.8,564.2 462.6,546.4 483.4,557.9 504.2,566.4 525.0,555.4 545.8,561.7 587.4,557.4 608.2,553.1 649.8,547.6M400.2,534.4 421.0,537.0 441.8,537.1 462.6,533.0 483.4,529.9 525.0,531.4 545.8,543.0 587.4,540.9 629.0,530.2 670.6,532.4M400.2,558.8 421.0,556.0 441.8,554.7 462.6,552.4 483.4,558.5 504.2,559.8 566.6,543.1 587.4,556.6 629.0,540.3 649.8,552.7M400.2,545.9 421.0,559.2 441.8,537.2 462.6,547.8 483.4,548.7 504.2,551.9 525.0,548.0 545.8,542.4 587.4,549.4 608.2,548.7 670.6,540.0M400.2,541.9 421.0,548.1 441.8,546.5 462.6,555.0 483.4,534.2 504.2,539.4 525.0,528.9 566.6,551.2 587.4,549.8 608.2,529.4 629.0,533.6 649.8,546.0 670.6,539.1M400.2,548.1 421.0,547.4 441.8,539.7 462.6,532.0 483.4,539.0 504.2,541.0 525.0,530.4 545.8,545.2 566.6,542.9 629.0,545.6 649.8,544.0M400.2,563.3 421.0,551.8 441.8,559.8 462.6,549.4 483.4,558.3 504.2,562.0 525.0,557.6 545.8,557.2 566.6,511.5 587.4,558.1 629.0,568.0 670.6,552.6M400.2,540.7 421.0,544.9 462.6,541.4 483.4,532.1 504.2,533.3 525.0,539.7 545.8,535.8 566.6,536.8 629.0,537.2M400.2,562.8 421.0,557.9 462.6,543.1 483.4,553.3 504.2,535.1 566.6,553.2 608.2,535.7 629.0,547.5 649.8,542.2 670.6,534.6M400.2,559.1 421.0,556.6 441.8,559.3 462.6,563.8 504.2,546.4 525.0,544.7 545.8,557.1 608.2,537.6 649.8,560.4M400.2,551.0 421.0,554.1 441.8,553.9 462.6,542.5 504.2,561.8 525.0,560.8 545.8,544.0 566.6,537.2 608.2,532.5 629.0,560.0M400.2,566.0 421.0,563.4 441.8,563.5 462.6,559.9 483.4,562.0 504.2,554.9 525.0,560.9 545.8,564.3 587.4,558.0 629.0,567.3 649.8,563.0 670.6,564.4M400.2,563.8 421.0,554.1 441.8,549.5 483.4,550.6 504.2,557.1 525.0,559.6 545.8,549.0 566.6,547.1 587.4,546.9 629.0,559.5M400.2,551.1 421.0,555.6 441.8,546.2 462.6,539.8 483.4,544.3 504.2,557.0 525.0,533.9 545.8,544.9 587.4,548.4 670.6,541.0M400.2,545.3 421.0,556.3 441.8,556.7 483.4,553.6 504.2,557.0 525.0,560.4 545.8,550.9 566.6,536.6 587.4,551.4 608.2,545.6 629.0,555.1 670.6,555.6M400.2,543.4 421.0,553.7 441.8,553.7 462.6,556.0 483.4,556.4 504.2,542.6 525.0,541.9 545.8,549.4 566.6,547.9 587.4,544.2 608.2,545.9 670.6,549.9M400.2,552.1 421.0,559.0 441.8,555.4 462.6,553.0 483.4,548.7 504.2,565.0 525.0,549.6 545.8,536.1 566.6,550.9 608.2,543.1 649.8,540.8M400.2,522.4 421.0,553.8 441.8,547.0 462.6,547.9 504.2,536.7 525.0,545.4 545.8,551.1 566.6,545.3 587.4,552.6 608.2,534.7M400.2,541.5 421.0,541.0 441.8,553.5 462.6,534.0 483.4,529.9 504.2,536.0 525.0,527.9 587.4,538.5 608.2,527.5 670.6,548.8M400.2,550.1 421.0,560.3 441.8,550.0 462.6,547.2 483.4,553.8 504.2,543.1 525.0,546.2 545.8,550.6 587.4,554.9 649.8,549.9M400.2,556.8 421.0,559.2 441.8,542.4 462.6,553.8 483.4,553.1 504.2,559.9 525.0,543.1 545.8,544.8 587.4,555.4 608.2,550.0 629.0,556.6 649.8,552.2M400.2,547.6 421.0,549.1 441.8,546.2 462.6,540.2 504.2,546.7 525.0,537.9 566.6,547.5 608.2,540.8 670.6,537.4M400.2,533.0 421.0,536.3 441.8,536.5 462.6,538.5 483.4,525.4 504.2,536.5 525.0,535.7 545.8,529.6 566.6,525.9 587.4,535.0 608.2,530.5 629.0,524.6 649.8,535.2M400.2,546.3 421.0,549.9 441.8,550.9 462.6,536.4 483.4,550.2 504.2,541.3 545.8,553.9 587.4,557.1 608.2,536.3 629.0,553.7 670.6,557.0M400.2,561.4 421.0,555.4 441.8,550.3 462.6,540.8 483.4,532.3 504.2,548.8 525.0,534.1 545.8,544.0 566.6,557.9 608.2,528.6 629.0,543.3 649.8,542.8M400.2,556.5 421.0,560.5 441.8,562.4 462.6,562.3 483.4,560.0 504.2,559.1 525.0,556.9 545.8,562.0 566.6,561.8 587.4,559.4 608.2,555.6 649.8,558.0 670.6,550.4M400.2,538.3 421.0,537.1 441.8,534.5 462.6,535.7 483.4,533.7 504.2,539.5 525.0,532.7 545.8,531.1 566.6,532.7 587.4,546.8 608.2,523.4 629.0,540.8 649.8,535.5 670.6,536.9M400.2,537.4 421.0,536.7 441.8,547.1 462.6,535.3 483.4,540.4 504.2,554.4 525.0,545.2 545.8,539.5 566.6,544.0 587.4,542.0 608.2,537.6 629.0,543.1M400.2,539.3 421.0,542.6 441.8,530.9 462.6,534.0 504.2,530.1 545.8,532.5 566.6,539.9 587.4,545.3 629.0,530.4 670.6,546.0M400.2,547.3 421.0,557.0 441.8,545.1 462.6,534.9 483.4,538.3 504.2,538.5 525.0,550.7 545.8,545.7 566.6,550.3 587.4,539.8 629.0,545.3 649.8,541.0M400.2,547.4 421.0,564.8 441.8,557.0 462.6,561.7 504.2,545.6 525.0,541.7 545.8,554.6 587.4,555.1 608.2,549.2 649.8,554.2M400.2,561.8 421.0,540.2 441.8,545.1 462.6,532.0 483.4,530.8 525.0,536.2 545.8,530.7 566.6,534.7 587.4,537.3 608.2,529.4 649.8,540.8 670.6,548.1M400.2,535.0 421.0,537.4 441.8,543.7 462.6,541.1 483.4,549.1 504.2,539.6 525.0,533.9 566.6,542.7 587.4,544.6 629.0,545.2 670.6,544.8M400.2,556.0 421.0,561.0 441.8,563.9 462.6,548.4 483.4,550.9 504.2,550.5 525.0,561.0 545.8,550.6 566.6,558.5 587.4,547.9 608.2,540.3 629.0,546.6 649.8,549.8 670.6,549.4M400.2,567.0 421.0,559.1 441.8,557.9 462.6,547.8 483.4,561.8 504.2,558.6 525.0,557.4 545.8,555.6 566.6,553.0 608.2,555.5 670.6,559.0M400.2,562.8 421.0,541.4 441.8,538.9 462.6,551.7 483.4,550.2 504.2,541.3 525.0,548.9 566.6,550.6 649.8,539.0M400.2,549.3 421.0,545.5 441.8,545.8 462.6,557.4 483.4,558.5 504.2,532.0 545.8,535.3 587.4,548.9 608.2,548.4 629.0,560.6 670.6,538.3M400.2,536.4 421.0,535.0 441.8,532.9 462.6,531.6 483.4,531.5 504.2,529.0 525.0,523.9 566.6,532.2 587.4,531.4 629.0,522.0 649.8,533.9 670.6,528.1M400.2,548.2 421.0,551.2 441.8,549.2 462.6,560.8 483.4,546.9 525.0,548.7 545.8,558.7 566.6,554.3 649.8,556.2 670.6,560.5M400.2,553.1 421.0,555.0 441.8,548.3 462.6,561.6 483.4,540.3 504.2,556.7 545.8,543.4 566.6,554.2 587.4,548.5 629.0,555.3 649.8,549.2M400.2,551.9 421.0,557.3 441.8,550.1 462.6,547.6 483.4,534.8 504.2,537.3 545.8,542.5 566.6,554.9 587.4,551.1 608.2,532.0 629.0,540.1 649.8,544.5M400.2,557.1 421.0,560.9 441.8,558.6 462.6,553.1 525.0,563.2 566.6,561.1 587.4,560.7 608.2,555.6 649.8,557.5M400.2,556.2 421.0,555.0 441.8,548.6 462.6,557.1 483.4,557.0 504.2,561.9 525.0,552.9 566.6,543.7 587.4,554.1 629.0,558.9 649.8,554.3 670.6,554.5M400.2,534.2 421.0,543.1 441.8,533.9 462.6,532.6 483.4,531.5 504.2,529.0 525.0,535.2 545.8,533.8 566.6,539.9 587.4,536.0 608.2,525.2 629.0,523.1M400.2,545.2 421.0,548.1 441.8,551.9 462.6,529.8 483.4,545.9 545.8,545.9 587.4,549.6 608.2,527.9 629.0,550.4 649.8,547.1M400.2,553.0 421.0,541.9 441.8,553.2 462.6,550.0 483.4,549.6 504.2,556.3 545.8,559.8 566.6,545.9 587.4,557.3 629.0,563.7M400.2,555.4 421.0,565.2 441.8,557.1 462.6,558.5 483.4,562.7 525.0,544.9 566.6,546.5 587.4,558.7 670.6,557.1M400.2,539.9 421.0,540.9 441.8,554.1 462.6,543.4 504.2,546.7 525.0,528.2 545.8,539.8 566.6,544.8 608.2,546.5 629.0,546.4 649.8,548.6 670.6,552.0M400.2,554.0 421.0,539.2 462.6,538.9 483.4,536.1 504.2,537.0 525.0,555.1 545.8,533.7 566.6,533.9 587.4,542.2 629.0,541.6M400.2,549.7 421.0,547.5 441.8,547.0 483.4,541.5 504.2,542.2 525.0,544.2 545.8,545.1 566.6,542.6 587.4,544.0 608.2,538.1 629.0,546.1 649.8,551.2 670.6,547.4M400.2,554.2 421.0,551.0 441.8,562.3 462.6,545.6 483.4,550.1 504.2,537.9 525.0,559.2 545.8,545.0 608.2,553.0 649.8,549.0 670.6,541.6M400.2,550.0 421.0,549.2 441.8,556.7 462.6,543.0 483.4,548.4 504.2,550.0 587.4,537.6 629.0,557.4 649.8,536.3 670.6,539.4M400.2,557.6 421.0,538.7 441.8,534.7 462.6,537.9 504.2,533.2 545.8,548.2 566.6,534.9 649.8,544.7M400.2,559.3 441.8,553.1 462.6,551.8 483.4,540.2 504.2,549.8 525.0,546.9 545.8,546.5 566.6,555.9 587.4,550.0 649.8,559.5 670.6,560.0M400.2,542.3 421.0,545.8 441.8,535.4 462.6,542.4 483.4,536.9 504.2,552.8 525.0,537.2 545.8,531.0 566.6,532.5 587.4,543.4 608.2,531.7 629.0,555.0 649.8,548.2 670.6,532.1M400.2,563.9 421.0,567.6 441.8,563.1 462.6,563.6 483.4,556.1 504.2,556.0 525.0,563.7 566.6,562.1 587.4,556.5 608.2,560.0 629.0,563.8M400.2,550.4 421.0,558.1 441.8,548.5 483.4,545.2 504.2,566.3 525.0,562.8 545.8,563.4 587.4,562.8 608.2,557.3 629.0,562.0 670.6,558.4M400.2,556.7 421.0,550.1 441.8,546.9 462.6,551.6 504.2,546.3 525.0,539.5 545.8,556.1 566.6,557.5 587.4,561.0 608.2,535.3 629.0,535.9 649.8,548.9 670.6,554.4M400.2,554.0 421.0,561.0 441.8,553.6 462.6,550.7 504.2,561.5 525.0,551.0 545.8,551.7 608.2,530.3 629.0,544.4M400.2,562.3 421.0,563.0 441.8,555.7 462.6,554.7 504.2,556.4 525.0,553.9 545.8,547.7 566.6,545.6 608.2,548.9 649.8,555.2M400.2,549.4 421.0,544.3 462.6,544.8 483.4,534.1 504.2,547.2 525.0,532.4 545.8,547.5 566.6,552.8 587.4,550.9 608.2,543.6M400.2,545.1 421.0,544.8 441.8,530.7 462.6,540.9 483.4,538.3 504.2,539.2 545.8,534.8 608.2,536.7 629.0,526.0 649.8,535.8M400.2,558.8 421.0,554.7 441.8,541.0 462.6,531.5 504.2,557.8 525.0,543.4 545.8,538.3 608.2,532.9 670.6,552.8M400.2,545.6 421.0,562.8 441.8,549.3 462.6,543.0 483.4,548.7 504.2,551.4 525.0,551.1 545.8,540.4 587.4,542.4 629.0,540.0 649.8,546.6 670.6,552.3M400.2,537.2 421.0,541.5 441.8,547.1 462.6,533.7 483.4,537.4 525.0,534.5 608.2,546.8 649.8,537.1 670.6,537.8M400.2,539.3 421.0,536.3 441.8,540.3 462.6,550.8 483.4,544.3 504.2,538.3 525.0,547.9 545.8,539.7 566.6,532.9 587.4,541.9 608.2,531.8M400.2,564.2 421.0,561.4 441.8,550.2 462.6,549.8 483.4,556.3 504.2,558.3 545.8,550.4 566.6,556.9 587.4,549.3 608.2,558.9 649.8,553.5M400.2,553.1 421.0,549.1 441.8,548.9 483.4,545.3 525.0,551.7 545.8,546.7 566.6,557.4 587.4,539.8 608.2,550.2 629.0,550.8 670.6,547.1M400.2,532.4 421.0,538.2 441.8,538.5 462.6,534.6 483.4,537.4 504.2,539.7 566.6,531.8 587.4,545.3 608.2,522.3 629.0,533.9 649.8,547.7 670.6,531.0M400.2,559.8 421.0,559.6 441.8,552.0 462.6,560.3 483.4,559.9 504.2,546.6 545.8,550.8 566.6,557.9 587.4,558.4 629.0,550.6 649.8,556.9M400.2,547.0 421.0,549.3 441.8,544.2 462.6,538.2 504.2,546.8 525.0,546.7 545.8,534.6 566.6,547.5 587.4,536.6 608.2,532.0 629.0,541.2 649.8,542.0 670.6,554.7M400.2,554.4 421.0,552.9 441.8,548.6 462.6,555.0 483.4,553.2 504.2,542.0 545.8,532.3 566.6,548.9 587.4,520.0 629.0,563.1 670.6,553.5M400.2,550.7 421.0,561.9 441.8,562.1 462.6,561.6 483.4,550.8 525.0,549.4 545.8,560.4 566.6,542.8 587.4,547.9 629.0,551.0 649.8,558.6M400.2,551.9 421.0,542.2 441.8,557.8 462.6,562.1 483.4,546.0 504.2,564.6 545.8,553.3 566.6,546.4 587.4,575.5M400.2,535.3 421.0,534.9 441.8,535.7 483.4,547.6 504.2,535.4 525.0,535.9 545.8,544.1 587.4,543.7 608.2,542.4 629.0,535.5 649.8,537.7M400.2,543.8 421.0,545.7 441.8,545.5 462.6,547.9 483.4,558.8 504.2,551.0 525.0,540.3 545.8,551.2 566.6,546.1 608.2,533.3 629.0,541.5 649.8,554.5M400.2,544.2 421.0,537.4 441.8,532.7 462.6,539.1 483.4,539.1 504.2,545.4 525.0,557.1 545.8,545.2 566.6,540.3 629.0,537.8 649.8,549.4 670.6,554.5M400.2,565.7 421.0,564.1 441.8,556.8 462.6,554.4 483.4,557.8 504.2,556.9 525.0,556.3 566.6,560.8 587.4,561.6 608.2,551.6 629.0,566.6M400.2,555.3 421.0,554.3 441.8,552.3 462.6,540.2 483.4,554.9 504.2,542.1 525.0,538.6 545.8,555.6 566.6,559.2 587.4,546.4 608.2,543.4 629.0,556.9 649.8,546.2 670.6,546.8M400.2,552.0 421.0,540.4 441.8,543.2 462.6,541.9 483.4,544.8 504.2,538.3 525.0,544.2 545.8,547.3 587.4,540.4 629.0,552.6 649.8,554.9 670.6,552.8M400.2,544.1 421.0,550.4 441.8,536.9 462.6,538.6 483.4,528.8 504.2,533.8 525.0,528.7 545.8,533.3 587.4,545.8 608.2,531.6 629.0,533.6M400.2,553.5 421.0,553.6 441.8,573.6 462.6,541.4 483.4,550.9 504.2,529.9 525.0,546.1 545.8,547.5 566.6,545.2 587.4,541.0 608.2,543.4 629.0,547.0 649.8,542.2M400.2,536.2 441.8,539.7 462.6,545.5 483.4,547.1 504.2,536.7 545.8,542.1 566.6,542.6 608.2,526.4 649.8,551.4M400.2,547.9 421.0,554.6 441.8,541.8 462.6,543.6 483.4,537.0 504.2,530.8 566.6,529.9 587.4,545.7 608.2,526.8 649.8,538.2M400.2,541.2 421.0,535.2 441.8,533.8 462.6,545.2 483.4,559.1 504.2,538.3 525.0,528.2 545.8,545.8 566.6,531.1 587.4,548.8 629.0,530.3 649.8,537.0M400.2,563.4 421.0,552.1 441.8,557.2 462.6,552.3 483.4,555.9 504.2,553.5 525.0,553.0 545.8,560.5 566.6,542.7 587.4,562.4 608.2,545.2 629.0,533.3 649.8,553.1 670.6,550.6M400.2,547.0 421.0,548.2 462.6,552.5 483.4,538.6 504.2,532.3 525.0,531.1 545.8,556.8 566.6,551.2 587.4,555.1 629.0,550.7 649.8,559.5 670.6,554.2M400.2,544.5 421.0,551.7 441.8,561.3 462.6,553.6 483.4,548.5 504.2,555.7 525.0,554.3 545.8,557.5 566.6,548.9 587.4,558.3 608.2,552.5 670.6,550.6M400.2,568.4 421.0,566.6 441.8,565.8 462.6,558.4 483.4,560.7 504.2,568.4 525.0,565.4 566.6,556.5 608.2,562.1 649.8,561.2M400.2,560.8 441.8,523.1 462.6,565.1 483.4,560.2 504.2,561.0 545.8,566.2 566.6,553.3 587.4,555.9 608.2,560.6 649.8,552.2M400.2,535.1 421.0,533.4 441.8,537.5 462.6,536.4 483.4,531.0 504.2,528.7 545.8,526.9 566.6,532.3 587.4,535.3M400.2,557.4 421.0,553.1 441.8,558.3 462.6,560.6 483.4,536.4 504.2,542.8 525.0,557.2 545.8,560.8 566.6,556.5 587.4,555.1 629.0,538.6M400.2,563.6 421.0,564.0 441.8,561.8 462.6,561.9 483.4,560.6 504.2,565.5 525.0,553.2 545.8,564.8 566.6,564.8 587.4,563.7 608.2,560.2 649.8,560.1M400.2,559.0 421.0,555.2 441.8,549.1 483.4,541.5 504.2,560.5 525.0,552.2 566.6,554.7 608.2,541.3 649.8,553.3M400.2,538.9 421.0,541.5 441.8,544.9 483.4,541.6 545.8,530.2 566.6,532.0 587.4,536.4 608.2,535.1 670.6,534.0M400.2,554.5 421.0,541.4 441.8,549.7 483.4,544.7 504.2,533.3 525.0,560.1 545.8,541.8 566.6,543.8 629.0,552.6 649.8,551.9 670.6,552.0M400.2,552.3 421.0,556.6 441.8,540.3 462.6,553.2 483.4,539.8 504.2,545.6 525.0,527.9 587.4,550.6 608.2,550.9 629.0,536.9 649.8,547.6 670.6,530.6M400.2,560.1 421.0,557.8 441.8,554.7 462.6,550.2 483.4,547.4 525.0,560.6 545.8,542.3 566.6,543.8 587.4,543.1 629.0,547.9 670.6,539.8M400.2,543.9 421.0,554.4 441.8,556.9 462.6,546.6 483.4,559.7 525.0,546.6 545.8,551.8 566.6,545.4 587.4,542.6 608.2,555.9 649.8,548.7 670.6,550.6M400.2,544.3 421.0,550.0 441.8,542.2 462.6,538.9 525.0,542.7 545.8,532.8 587.4,535.3 629.0,535.4 649.8,534.9 670.6,530.1M400.2,539.1 421.0,552.5 441.8,533.3 462.6,549.0 483.4,530.9 504.2,545.9 525.0,535.7 566.6,542.9 587.4,554.5 608.2,525.3 629.0,534.2 649.8,550.1M400.2,546.8 421.0,557.4 441.8,548.6 462.6,541.2 483.4,542.8 504.2,547.3 525.0,547.9 545.8,547.5 608.2,545.8 629.0,551.2M400.2,549.3 421.0,537.5 441.8,533.2 462.6,553.0 483.4,543.8 504.2,544.7 525.0,539.3 545.8,544.3 566.6,554.0 587.4,538.2 608.2,543.7 649.8,538.8 670.6,554.7M400.2,535.6 421.0,534.0 441.8,541.2 462.6,545.0 483.4,531.9 525.0,531.7 545.8,528.1 566.6,532.7 587.4,545.9 608.2,541.0 670.6,537.3M400.2,557.7 421.0,549.5 441.8,541.8 462.6,550.9 483.4,559.2 504.2,554.8 525.0,539.8 545.8,550.0 566.6,543.8 587.4,553.8 608.2,539.5 629.0,543.1 670.6,557.3M400.2,543.3 421.0,558.3 462.6,549.6 483.4,539.4 504.2,535.9 525.0,545.4 545.8,551.1 587.4,541.2 608.2,533.5M400.2,538.4 421.0,552.1 441.8,547.6 462.6,537.7 483.4,541.3 504.2,549.0 545.8,539.1 566.6,543.5 608.2,537.0 629.0,525.0 670.6,548.6M400.2,560.0 421.0,556.3 441.8,552.9 462.6,555.0 483.4,555.7 504.2,555.5 525.0,561.2 545.8,542.9 566.6,551.6 608.2,552.1 629.0,550.2 649.8,554.6 670.6,552.2M400.2,546.6 421.0,542.5 441.8,531.7 462.6,530.4 483.4,543.2 504.2,554.0 525.0,542.9 566.6,536.7 587.4,538.5 629.0,539.0 670.6,552.6M400.2,557.8 421.0,553.9 441.8,546.2 483.4,558.0 525.0,556.7 545.8,556.2 587.4,553.2 608.2,550.3 629.0,555.9 649.8,549.5M400.2,539.7 421.0,551.7 441.8,545.5 462.6,542.2 483.4,553.0 504.2,534.3 525.0,547.4 545.8,551.6 608.2,554.8 649.8,555.2M400.2,564.0 421.0,566.7 441.8,561.6 462.6,557.8 504.2,563.5 525.0,553.6 545.8,558.3 566.6,559.2 587.4,562.5 629.0,566.3 670.6,555.3M400.2,565.2 421.0,562.3 441.8,559.7 462.6,558.6 483.4,551.0 504.2,565.9 525.0,558.7 545.8,553.2 566.6,552.6 587.4,555.7 608.2,546.5 629.0,571.5 649.8,555.5 670.6,556.9M400.2,534.4 421.0,537.5 441.8,531.7 462.6,537.4 483.4,531.5 525.0,536.3 545.8,542.5 566.6,535.6 608.2,523.6 649.8,536.1M400.2,560.2 421.0,554.6 441.8,547.8 462.6,550.3 483.4,549.5 504.2,559.5 566.6,559.8 587.4,548.8 608.2,543.5 649.8,555.1M400.2,546.5 421.0,544.6 441.8,537.0 462.6,547.9 504.2,547.4 525.0,536.2 566.6,544.2 587.4,553.7 608.2,527.2 629.0,545.4 670.6,539.4M400.2,559.5 421.0,552.9 441.8,542.9 462.6,551.1 483.4,545.5 504.2,553.6 566.6,546.9 587.4,557.9 629.0,558.3 649.8,518.4 670.6,555.8M400.2,560.4 462.6,549.0 504.2,546.3 525.0,545.0 545.8,538.0 566.6,532.1 587.4,544.7 608.2,551.6 629.0,529.1 670.6,543.3M400.2,550.0 421.0,549.5 441.8,532.4 462.6,556.3 483.4,544.3 504.2,534.7 545.8,532.8 566.6,544.3 587.4,542.3 608.2,535.4 629.0,546.5 670.6,556.1M400.2,562.3 421.0,555.7 441.8,553.2 462.6,550.6 483.4,555.8 504.2,562.4 525.0,555.3 545.8,560.9 566.6,562.3 587.4,553.7 608.2,551.7 649.8,560.2 670.6,557.7M400.2,562.2 421.0,553.7 441.8,541.8 462.6,545.9 483.4,549.2 504.2,548.7 525.0,548.4 545.8,556.7 566.6,541.2 587.4,557.0 608.2,553.3 649.8,547.1 670.6,553.6M400.2,556.7 421.0,553.9 441.8,542.1 462.6,555.0 483.4,546.5 504.2,539.7 525.0,540.8 566.6,545.0 587.4,552.3 629.0,542.6 649.8,541.9M400.2,555.7 421.0,541.2 441.8,558.0 462.6,543.6 483.4,540.8 504.2,553.7 545.8,534.3 566.6,540.6 608.2,545.3 649.8,547.1 670.6,545.0M400.2,544.6 421.0,542.3 441.8,559.7 462.6,549.8 483.4,550.9 504.2,531.4 525.0,549.9 545.8,548.1 566.6,546.9 587.4,550.9 629.0,552.7 649.8,557.1M400.2,547.8 421.0,554.9 462.6,560.7 504.2,550.3 525.0,541.9 545.8,570.3 566.6,549.0 608.2,542.8 649.8,550.0M400.2,541.3 421.0,540.9 441.8,543.1 483.4,542.4 525.0,546.7 545.8,557.3 566.6,553.9 608.2,543.5 629.0,530.0 649.8,544.8 670.6,574.0M400.2,542.6 421.0,534.7 441.8,532.9 462.6,533.9 483.4,530.7 504.2,539.1 525.0,527.7 545.8,533.1 566.6,532.2 587.4,536.4 629.0,532.7 649.8,534.6 670.6,536.9M400.2,554.3 421.0,543.6 441.8,545.1 462.6,536.7 483.4,540.5 504.2,536.2 525.0,530.9 545.8,534.7 566.6,549.2 587.4,543.7 629.0,550.3M400.2,554.4 421.0,555.0 441.8,548.4 462.6,551.3 483.4,546.6 525.0,558.2 587.4,543.0 608.2,547.4 629.0,566.5M400.2,543.5 421.0,543.3 441.8,553.0 462.6,530.5 483.4,539.4 545.8,547.8 566.6,555.6 587.4,553.6 608.2,539.7 649.8,543.3 670.6,536.8M400.2,542.6 421.0,559.6 441.8,551.7 462.6,544.8 483.4,550.1 504.2,531.1 545.8,531.8 566.6,521.4 587.4,545.1 608.2,549.7 649.8,544.9M400.2,546.2 421.0,555.5 441.8,550.3 462.6,549.1 483.4,540.8 504.2,540.1 525.0,553.7 545.8,547.9 608.2,535.4 629.0,551.8 670.6,538.0M400.2,536.7 421.0,534.8 462.6,542.4 483.4,539.3 504.2,524.2 525.0,536.6 545.8,524.2 566.6,546.5 587.4,532.3 629.0,527.0 649.8,533.6 670.6,540.0M400.2,549.8 421.0,549.7 441.8,557.0 462.6,539.3 483.4,547.8 504.2,556.6 525.0,558.5 545.8,535.4 566.6,547.4 629.0,545.0 649.8,548.4 670.6,550.6M400.2,556.6 421.0,541.0 441.8,548.8 462.6,551.1 483.4,543.6 504.2,541.0 525.0,545.3 566.6,545.7 587.4,543.8 649.8,525.6 670.6,556.8M400.2,561.8 421.0,559.6 441.8,551.3 462.6,556.9 504.2,560.7 525.0,550.8 545.8,561.2 566.6,553.2 587.4,557.0 608.2,534.5 629.0,561.3 649.8,548.1M400.2,548.0 421.0,544.8 462.6,555.4 504.2,553.7 525.0,544.2 545.8,532.9 566.6,556.0 649.8,549.3M400.2,562.2 421.0,547.3 441.8,557.9 462.6,557.2 483.4,544.2 504.2,552.9 525.0,548.5 545.8,548.4 566.6,535.9 587.4,551.0 608.2,549.8 629.0,548.4 649.8,549.8 670.6,556.3M400.2,537.9 421.0,532.4 462.6,537.2 525.0,541.4 545.8,539.8 566.6,536.3 587.4,530.0 649.8,539.7 670.6,545.5M400.2,542.1 441.8,553.7 462.6,541.8 483.4,534.1 525.0,533.9 545.8,539.2 566.6,536.9 629.0,544.1 670.6,562.1M400.2,553.4 421.0,556.7 441.8,558.6 462.6,548.6 483.4,555.0 504.2,564.2 525.0,551.2 587.4,556.0 608.2,548.5 629.0,560.7M400.2,534.1 421.0,535.2 441.8,531.7 462.6,532.1 483.4,533.3 504.2,530.0 545.8,529.5 566.6,529.4 587.4,533.7 608.2,526.7 629.0,526.4M400.2,565.0 421.0,558.4 441.8,556.3 462.6,552.1 483.4,552.2 504.2,553.9 545.8,562.4 566.6,554.2 587.4,563.1 629.0,560.5 649.8,560.8M400.2,543.5 421.0,549.3 441.8,550.6 462.6,543.5 483.4,533.3 504.2,534.0 525.0,536.5 545.8,554.8 566.6,539.0 608.2,529.9 629.0,535.4 670.6,539.3M400.2,543.2 421.0,545.2 441.8,541.5 483.4,550.4 504.2,535.6 525.0,533.8 587.4,533.6 608.2,530.8 629.0,528.2 649.8,536.6 670.6,546.1M400.2,541.1 421.0,553.8 441.8,540.3 462.6,542.9 483.4,530.0 504.2,531.9 525.0,534.0 545.8,545.9 566.6,545.6 649.8,538.5M400.2,549.3 421.0,537.7 441.8,544.7 483.4,540.2 504.2,542.2 545.8,549.5 587.4,551.5 608.2,547.3 649.8,540.5 670.6,556.8M400.2,550.9 421.0,551.3 441.8,544.7 462.6,542.5 504.2,541.3 525.0,546.7 545.8,546.5 566.6,548.0 587.4,541.8 608.2,532.7 629.0,551.7 649.8,549.2M400.2,540.0 421.0,552.6 462.6,546.7 483.4,540.9 545.8,550.7 566.6,547.5 608.2,541.6 629.0,563.6 670.6,557.3M400.2,539.8 421.0,547.3 441.8,541.8 462.6,537.5 483.4,542.2 504.2,551.1 525.0,555.8 545.8,544.0 566.6,546.5 587.4,572.0M400.2,566.1 421.0,564.5 441.8,562.8 462.6,564.2 483.4,562.0 504.2,556.4 525.0,564.2 566.6,559.7 587.4,564.9 649.8,559.5 670.6,556.1" stroke="#bebebe" stroke-width="0.9" fill="none"/><path d="M400.2 553.7h0M421.0 554.2h0M441.8 542.4h0M504.2 555.4h0M545.8 531.4h0M566.6 541.8h0M587.4 544.9h0M608.2 534.4h0M629.0 539.7h0M649.8 543.5h0M670.6 537.9h0M400.2 540.3h0M421.0 541.9h0M441.8 541.3h0M462.6 533.1h0M483.4 536.7h0M504.2 543.8h0M649.8 543.9h0M670.6 549.1h0M400.2 547.7h0M421.0 547.7h0M441.8 541.8h0M462.6 535.9h0M504.2 543.3h0M525.0 530.8h0M545.8 540.2h0M649.8 549.9h0M400.2 556.4h0M421.0 535.7h0M441.8 531.8h0M462.6 532.0h0M504.2 539.7h0M545.8 546.4h0M566.6 539.4h0M608.2 542.9h0M400.2 538.6h0M421.0 535.6h0M441.8 532.2h0M462.6 530.7h0M483.4 533.9h0M504.2 540.5h0M525.0 535.2h0M545.8 541.6h0M566.6 528.0h0M608.2 520.1h0M629.0 546.9h0M649.8 537.6h0M400.2 563.3h0M421.0 560.8h0M441.8 555.7h0M483.4 555.0h0M504.2 559.1h0M525.0 552.9h0M545.8 562.5h0M566.6 548.0h0M587.4 558.2h0M629.0 555.5h0M400.2 549.8h0M421.0 558.9h0M441.8 555.4h0M462.6 560.1h0M483.4 555.6h0M504.2 558.6h0M525.0 543.3h0M545.8 556.0h0M587.4 550.9h0M608.2 556.0h0M670.6 551.1h0M400.2 551.6h0M421.0 564.2h0M441.8 557.9h0M462.6 562.5h0M483.4 550.1h0M504.2 562.3h0M566.6 552.9h0M608.2 558.4h0M629.0 561.6h0M400.2 550.5h0M421.0 552.7h0M462.6 554.0h0M483.4 532.3h0M504.2 555.6h0M525.0 548.3h0M545.8 548.0h0M566.6 542.5h0M608.2 539.8h0M649.8 542.6h0M670.6 547.9h0M400.2 555.0h0M421.0 535.7h0M441.8 538.1h0M462.6 535.5h0M483.4 533.7h0M504.2 542.6h0M525.0 543.6h0M545.8 538.1h0M629.0 530.1h0M649.8 539.8h0M400.2 551.6h0M421.0 544.4h0M441.8 552.4h0M483.4 547.4h0M525.0 554.2h0M545.8 555.6h0M587.4 543.8h0M608.2 547.3h0M670.6 555.9h0M400.2 552.3h0M421.0 546.2h0M441.8 548.5h0M462.6 556.3h0M483.4 543.8h0M504.2 555.5h0M525.0 539.6h0M545.8 551.8h0M587.4 550.3h0M608.2 531.5h0M629.0 535.7h0M670.6 538.7h0M400.2 560.7h0M421.0 562.5h0M441.8 562.4h0M462.6 561.1h0M525.0 561.8h0M545.8 564.5h0M587.4 555.1h0M608.2 544.8h0M649.8 559.5h0M670.6 563.7h0M400.2 537.9h0M421.0 560.2h0M441.8 553.7h0M462.6 540.4h0M504.2 546.6h0M545.8 548.7h0M587.4 557.1h0M608.2 539.3h0M629.0 546.4h0M649.8 545.4h0M670.6 555.3h0M400.2 555.5h0M421.0 552.3h0M441.8 553.9h0M462.6 549.5h0M483.4 549.5h0M504.2 559.5h0M525.0 550.4h0M545.8 555.9h0M587.4 556.2h0M608.2 544.4h0M629.0 562.5h0M670.6 550.1h0M400.2 530.2h0M421.0 538.0h0M441.8 529.0h0M462.6 529.3h0M483.4 530.9h0M504.2 538.5h0M525.0 532.5h0M545.8 528.7h0M587.4 532.3h0M629.0 530.9h0M649.8 536.8h0M400.2 534.7h0M421.0 535.9h0M441.8 544.7h0M462.6 540.1h0M483.4 542.1h0M504.2 535.9h0M525.0 539.8h0M545.8 551.7h0M587.4 537.7h0M629.0 525.8h0M649.8 543.6h0M670.6 542.5h0M400.2 538.0h0M421.0 543.3h0M441.8 551.3h0M462.6 543.1h0M504.2 547.6h0M525.0 546.5h0M545.8 539.9h0M587.4 538.8h0M608.2 546.2h0M629.0 545.1h0M649.8 534.7h0M400.2 556.4h0M421.0 553.6h0M441.8 541.9h0M462.6 549.9h0M483.4 548.1h0M504.2 548.2h0M525.0 540.1h0M566.6 551.4h0M608.2 531.0h0M629.0 546.0h0M670.6 553.3h0M400.2 543.3h0M421.0 543.4h0M441.8 543.5h0M462.6 551.3h0M483.4 539.3h0M525.0 537.2h0M545.8 537.9h0M587.4 553.6h0M400.2 553.8h0M421.0 548.7h0M441.8 532.7h0M462.6 546.4h0M504.2 536.8h0M587.4 539.8h0M608.2 534.3h0M649.8 543.0h0M400.2 544.8h0M421.0 543.7h0M441.8 548.3h0M462.6 541.4h0M483.4 534.0h0M504.2 553.3h0M525.0 548.9h0M587.4 549.1h0M608.2 535.4h0M629.0 559.5h0M400.2 552.6h0M421.0 552.0h0M441.8 545.8h0M462.6 537.5h0M483.4 544.7h0M504.2 552.5h0M525.0 547.1h0M545.8 540.9h0M629.0 558.8h0M649.8 554.9h0M400.2 540.8h0M421.0 548.3h0M441.8 554.1h0M462.6 539.7h0M483.4 547.6h0M504.2 547.3h0M545.8 530.9h0M566.6 551.0h0M587.4 552.7h0M608.2 536.2h0M629.0 563.4h0M670.6 553.6h0M400.2 552.3h0M421.0 552.6h0M441.8 561.2h0M462.6 550.4h0M483.4 556.1h0M504.2 548.8h0M545.8 548.3h0M566.6 553.8h0M587.4 558.7h0M608.2 544.9h0M629.0 544.5h0M649.8 549.0h0M670.6 555.1h0M400.2 564.4h0M421.0 556.9h0M441.8 554.2h0M462.6 553.8h0M483.4 555.0h0M504.2 559.9h0M525.0 548.9h0M566.6 558.5h0M587.4 556.0h0M629.0 555.0h0M649.8 548.1h0M670.6 546.8h0M400.2 546.9h0M421.0 548.9h0M441.8 546.0h0M462.6 548.1h0M483.4 558.8h0M545.8 540.8h0M566.6 548.9h0M608.2 541.1h0M629.0 549.9h0M670.6 553.9h0M400.2 548.7h0M421.0 554.6h0M441.8 558.8h0M462.6 562.0h0M483.4 548.9h0M504.2 548.8h0M525.0 546.9h0M566.6 554.4h0M608.2 537.7h0M400.2 534.2h0M421.0 535.0h0M441.8 552.6h0M504.2 528.9h0M545.8 540.3h0M566.6 532.4h0M587.4 542.7h0M608.2 527.3h0M649.8 552.4h0M670.6 536.6h0M400.2 565.2h0M421.0 561.1h0M441.8 562.0h0M462.6 555.0h0M483.4 556.1h0M545.8 557.8h0M566.6 557.7h0M608.2 559.4h0M629.0 556.6h0M649.8 561.3h0M400.2 548.3h0M421.0 540.8h0M441.8 544.4h0M462.6 541.4h0M483.4 535.7h0M504.2 532.5h0M525.0 530.6h0M587.4 533.7h0M608.2 534.0h0M629.0 543.0h0M670.6 553.4h0M400.2 553.9h0M421.0 557.6h0M462.6 552.4h0M483.4 537.6h0M504.2 567.0h0M525.0 552.2h0M545.8 551.2h0M587.4 541.5h0M608.2 552.2h0M629.0 553.5h0M649.8 548.5h0M670.6 547.9h0M400.2 560.2h0M421.0 556.5h0M441.8 553.0h0M483.4 549.1h0M504.2 556.3h0M525.0 556.1h0M545.8 556.5h0M566.6 559.3h0M629.0 557.2h0M649.8 549.3h0M400.2 565.4h0M421.0 561.4h0M441.8 543.3h0M504.2 545.9h0M525.0 560.3h0M566.6 549.8h0M608.2 557.4h0M629.0 555.4h0M670.6 556.4h0M400.2 557.7h0M421.0 542.3h0M441.8 549.4h0M483.4 543.4h0M504.2 545.9h0M525.0 550.5h0M545.8 540.9h0M566.6 543.2h0M587.4 541.5h0M629.0 566.0h0M649.8 549.1h0M400.2 535.4h0M421.0 551.1h0M441.8 553.7h0M462.6 562.8h0M525.0 555.2h0M566.6 536.8h0M587.4 543.5h0M608.2 544.8h0M629.0 550.0h0M649.8 523.7h0M670.6 552.3h0M400.2 551.9h0M421.0 541.7h0M441.8 554.0h0M462.6 549.8h0M483.4 545.9h0M504.2 540.0h0M525.0 533.1h0M629.0 544.4h0M400.2 560.1h0M421.0 555.6h0M441.8 547.4h0M462.6 549.5h0M483.4 548.2h0M504.2 552.2h0M525.0 545.6h0M545.8 545.0h0M566.6 559.7h0M587.4 556.7h0M608.2 542.9h0M400.2 551.6h0M421.0 551.2h0M441.8 557.6h0M462.6 536.0h0M483.4 536.7h0M525.0 554.4h0M587.4 552.6h0M629.0 556.8h0M649.8 542.3h0M400.2 535.7h0M421.0 547.4h0M441.8 530.7h0M462.6 538.3h0M483.4 528.8h0M525.0 526.2h0M587.4 542.2h0M649.8 511.8h0M670.6 539.1h0M400.2 537.8h0M421.0 540.9h0M545.8 552.2h0M566.6 545.7h0M608.2 539.3h0M629.0 553.8h0M649.8 539.7h0M670.6 548.3h0M400.2 547.5h0M421.0 540.8h0M441.8 560.9h0M462.6 542.1h0M504.2 540.9h0M525.0 548.5h0M545.8 555.1h0M566.6 535.5h0M608.2 537.4h0M629.0 546.8h0M649.8 553.9h0M400.2 537.0h0M441.8 539.6h0M462.6 536.7h0M483.4 539.9h0M504.2 536.5h0M525.0 539.2h0M566.6 536.6h0M587.4 537.0h0M608.2 526.9h0M629.0 534.9h0M400.2 550.1h0M421.0 541.2h0M441.8 550.3h0M462.6 550.0h0M483.4 556.8h0M504.2 545.2h0M525.0 543.1h0M545.8 543.8h0M566.6 551.8h0M629.0 540.5h0M670.6 550.4h0M400.2 543.1h0M421.0 539.5h0M441.8 536.3h0M462.6 545.4h0M483.4 531.1h0M504.2 547.4h0M525.0 536.8h0M545.8 550.9h0M566.6 537.2h0M587.4 554.4h0M608.2 536.1h0M629.0 535.1h0M649.8 549.4h0M670.6 556.8h0M400.2 548.5h0M421.0 549.0h0M441.8 553.5h0M462.6 542.0h0M504.2 537.7h0M525.0 534.1h0M545.8 544.5h0M566.6 543.2h0M587.4 547.6h0M608.2 547.6h0M629.0 536.1h0M649.8 545.5h0M670.6 540.7h0M400.2 561.8h0M421.0 547.5h0M441.8 550.4h0M462.6 555.7h0M483.4 552.2h0M504.2 554.6h0M525.0 542.4h0M566.6 553.9h0M587.4 555.0h0M649.8 546.9h0M400.2 551.6h0M421.0 565.4h0M441.8 561.6h0M462.6 556.0h0M483.4 564.8h0M504.2 567.0h0M649.8 559.4h0M670.6 561.8h0M400.2 555.5h0M421.0 554.3h0M441.8 545.1h0M462.6 555.7h0M483.4 551.6h0M504.2 554.3h0M608.2 546.5h0M629.0 540.2h0M649.8 549.2h0M400.2 538.3h0M421.0 538.0h0M441.8 551.6h0M462.6 539.0h0M483.4 530.8h0M504.2 544.0h0M525.0 540.4h0M545.8 542.5h0M566.6 541.3h0M608.2 539.1h0M649.8 537.6h0M670.6 551.2h0M400.2 554.8h0M421.0 551.5h0M441.8 556.5h0M483.4 549.2h0M504.2 546.8h0M525.0 550.6h0M545.8 555.1h0M566.6 549.0h0M587.4 518.0h0M608.2 544.1h0M649.8 558.4h0M670.6 550.2h0M400.2 546.1h0M421.0 553.7h0M441.8 534.0h0M462.6 536.0h0M483.4 529.3h0M504.2 536.0h0M525.0 552.5h0M545.8 537.8h0M566.6 550.5h0M587.4 550.5h0M608.2 535.4h0M629.0 550.8h0M649.8 543.8h0M400.2 542.1h0M421.0 535.1h0M441.8 537.4h0M462.6 538.3h0M483.4 536.7h0M504.2 539.5h0M525.0 539.4h0M566.6 532.7h0M608.2 524.5h0M629.0 541.0h0M649.8 538.5h0M670.6 535.9h0M400.2 562.1h0M421.0 560.3h0M441.8 560.7h0M483.4 541.8h0M504.2 555.7h0M525.0 552.2h0M566.6 536.5h0M587.4 551.9h0M670.6 554.8h0M400.2 539.8h0M421.0 540.8h0M441.8 537.0h0M483.4 534.7h0M504.2 532.0h0M525.0 550.0h0M545.8 544.8h0M566.6 533.3h0M587.4 534.9h0M629.0 533.9h0M649.8 531.9h0M400.2 535.2h0M421.0 539.2h0M441.8 540.5h0M462.6 534.2h0M483.4 534.8h0M504.2 538.9h0M525.0 537.4h0M545.8 537.1h0M566.6 528.1h0M587.4 544.1h0M608.2 522.8h0M400.2 536.1h0M421.0 541.8h0M441.8 544.2h0M462.6 532.7h0M483.4 538.8h0M504.2 539.7h0M525.0 531.6h0M545.8 539.4h0M566.6 528.1h0M587.4 542.1h0M670.6 548.1h0M400.2 537.2h0M421.0 545.5h0M441.8 547.1h0M462.6 538.0h0M483.4 537.0h0M504.2 538.1h0M545.8 537.3h0M566.6 536.5h0M608.2 540.1h0M629.0 528.7h0M400.2 535.3h0M421.0 551.4h0M441.8 534.7h0M462.6 530.2h0M504.2 538.2h0M545.8 543.2h0M587.4 536.2h0M629.0 531.5h0M649.8 545.4h0M670.6 540.1h0M400.2 533.0h0M421.0 531.2h0M441.8 535.1h0M462.6 527.9h0M483.4 534.9h0M504.2 531.9h0M525.0 528.5h0M545.8 526.6h0M587.4 543.0h0M608.2 524.4h0M629.0 532.9h0M670.6 532.9h0M400.2 547.8h0M421.0 554.2h0M441.8 545.6h0M462.6 549.6h0M483.4 540.9h0M504.2 533.6h0M525.0 540.4h0M545.8 552.7h0M566.6 546.6h0M608.2 539.6h0M629.0 529.8h0M649.8 550.5h0M400.2 561.7h0M421.0 555.3h0M441.8 548.0h0M462.6 543.8h0M483.4 536.4h0M504.2 539.8h0M525.0 540.3h0M587.4 557.4h0M608.2 539.4h0M649.8 551.3h0M670.6 548.1h0M400.2 547.9h0M421.0 559.9h0M462.6 549.6h0M483.4 538.7h0M504.2 542.9h0M525.0 533.1h0M545.8 548.9h0M566.6 540.6h0M587.4 548.2h0M608.2 569.8h0M629.0 547.0h0M649.8 542.5h0M670.6 551.1h0M400.2 546.2h0M421.0 556.2h0M462.6 549.2h0M483.4 552.7h0M504.2 564.0h0M525.0 553.3h0M566.6 544.5h0M587.4 559.1h0M608.2 552.6h0M629.0 548.0h0M670.6 564.5h0M400.2 524.5h0M421.0 553.6h0M441.8 555.9h0M462.6 556.3h0M483.4 561.2h0M504.2 563.5h0M545.8 551.9h0M629.0 552.6h0M649.8 557.5h0M670.6 559.4h0M400.2 551.4h0M421.0 547.2h0M441.8 562.4h0M462.6 555.2h0M483.4 544.7h0M504.2 551.6h0M525.0 554.7h0M545.8 548.9h0M587.4 551.6h0M608.2 558.8h0M629.0 553.1h0M670.6 566.8h0M400.2 547.6h0M421.0 533.5h0M441.8 543.8h0M462.6 550.8h0M504.2 558.8h0M545.8 545.4h0M629.0 532.8h0M670.6 554.5h0M400.2 550.1h0M421.0 537.1h0M462.6 542.5h0M483.4 549.4h0M504.2 528.0h0M525.0 542.2h0M566.6 541.3h0M587.4 536.7h0M608.2 537.5h0M649.8 548.3h0M670.6 532.5h0M400.2 548.2h0M421.0 558.7h0M441.8 556.5h0M462.6 545.8h0M483.4 557.1h0M504.2 561.4h0M525.0 554.0h0M545.8 560.1h0M649.8 561.0h0M400.2 561.7h0M421.0 562.5h0M441.8 558.5h0M462.6 551.5h0M483.4 560.6h0M504.2 563.3h0M525.0 556.9h0M545.8 560.8h0M608.2 559.0h0M629.0 569.1h0M400.2 541.8h0M421.0 542.5h0M441.8 545.6h0M462.6 546.8h0M483.4 557.5h0M504.2 545.6h0M566.6 548.5h0M587.4 542.6h0M649.8 547.8h0M400.2 547.3h0M421.0 551.2h0M441.8 549.7h0M462.6 552.5h0M483.4 535.5h0M504.2 559.8h0M525.0 561.1h0M545.8 539.6h0M566.6 542.4h0M587.4 556.9h0M629.0 547.7h0M649.8 545.9h0M400.2 551.9h0M421.0 548.4h0M441.8 547.2h0M462.6 547.4h0M483.4 537.1h0M504.2 547.6h0M525.0 542.8h0M545.8 553.1h0M566.6 546.2h0M608.2 549.2h0M629.0 533.9h0M649.8 554.4h0M670.6 543.5h0M400.2 558.9h0M421.0 550.3h0M441.8 547.7h0M462.6 546.7h0M504.2 540.9h0M545.8 539.8h0M587.4 547.2h0M608.2 536.2h0M649.8 554.1h0M670.6 535.3h0M400.2 538.9h0M421.0 539.3h0M462.6 545.8h0M483.4 528.7h0M504.2 531.6h0M525.0 546.1h0M545.8 534.6h0M566.6 539.8h0M608.2 533.3h0M649.8 537.0h0M670.6 539.5h0M400.2 558.1h0M421.0 536.4h0M441.8 540.6h0M462.6 551.5h0M483.4 546.8h0M504.2 553.5h0M525.0 536.4h0M545.8 554.5h0M566.6 548.6h0M587.4 544.9h0M649.8 546.4h0M400.2 559.2h0M421.0 544.8h0M441.8 547.4h0M462.6 537.9h0M483.4 537.8h0M504.2 536.7h0M525.0 530.5h0M587.4 550.5h0M608.2 531.6h0M649.8 539.8h0M670.6 542.8h0M400.2 550.1h0M421.0 555.6h0M441.8 550.7h0M462.6 553.8h0M483.4 545.0h0M504.2 548.8h0M525.0 561.0h0M545.8 543.2h0M566.6 549.6h0M587.4 556.7h0M608.2 556.7h0M629.0 558.4h0M400.2 554.5h0M421.0 566.4h0M441.8 551.5h0M462.6 555.2h0M483.4 556.6h0M504.2 556.5h0M525.0 560.7h0M545.8 556.6h0M566.6 559.1h0M587.4 557.2h0M608.2 553.3h0M649.8 549.2h0M670.6 563.9h0M400.2 542.9h0M421.0 539.2h0M441.8 551.9h0M462.6 552.5h0M483.4 540.7h0M525.0 548.8h0M545.8 557.0h0M566.6 539.9h0M608.2 548.2h0M400.2 543.4h0M421.0 541.7h0M441.8 539.4h0M483.4 546.3h0M504.2 547.9h0M525.0 545.7h0M566.6 538.6h0M587.4 536.6h0M608.2 538.8h0M629.0 543.0h0M649.8 543.9h0M670.6 548.4h0M400.2 543.5h0M421.0 536.2h0M441.8 547.9h0M462.6 535.0h0M504.2 554.7h0M545.8 533.0h0M566.6 538.0h0M608.2 534.6h0M629.0 543.3h0M670.6 534.7h0M400.2 541.5h0M421.0 543.0h0M441.8 541.3h0M483.4 532.7h0M504.2 546.3h0M545.8 556.2h0M587.4 542.9h0M670.6 535.7h0M400.2 541.8h0M421.0 548.7h0M441.8 547.2h0M462.6 533.9h0M504.2 536.1h0M525.0 538.7h0M545.8 554.4h0M629.0 556.4h0M649.8 542.9h0M670.6 546.9h0M400.2 542.1h0M421.0 573.9h0M441.8 539.7h0M462.6 545.2h0M483.4 543.7h0M504.2 530.2h0M525.0 541.3h0M587.4 536.5h0M608.2 530.5h0M629.0 548.1h0M649.8 541.9h0M670.6 543.9h0M400.2 558.8h0M441.8 560.0h0M462.6 554.7h0M483.4 559.0h0M504.2 556.2h0M545.8 558.0h0M587.4 563.2h0M608.2 556.8h0M629.0 562.6h0M649.8 559.6h0M670.6 562.1h0M400.2 566.4h0M421.0 555.7h0M441.8 559.8h0M462.6 551.5h0M504.2 545.1h0M525.0 553.3h0M545.8 546.8h0M566.6 552.9h0M587.4 551.7h0M608.2 551.0h0M629.0 555.4h0M400.2 539.8h0M421.0 552.4h0M441.8 533.5h0M462.6 546.1h0M504.2 546.9h0M525.0 535.2h0M545.8 534.6h0M566.6 543.6h0M629.0 542.1h0M649.8 547.2h0M670.6 543.6h0M400.2 548.8h0M421.0 545.1h0M441.8 537.6h0M462.6 544.9h0M483.4 546.0h0M504.2 545.1h0M525.0 530.7h0M545.8 558.2h0M566.6 548.3h0M587.4 548.6h0M670.6 535.3h0M400.2 556.4h0M421.0 563.4h0M441.8 564.2h0M462.6 546.4h0M483.4 557.9h0M504.2 566.4h0M525.0 555.4h0M545.8 561.7h0M587.4 557.4h0M608.2 553.1h0M649.8 547.6h0M400.2 534.4h0M421.0 537.0h0M441.8 537.1h0M462.6 533.0h0M483.4 529.9h0M525.0 531.4h0M545.8 543.0h0M587.4 540.9h0M629.0 530.2h0M670.6 532.4h0M400.2 558.8h0M421.0 556.0h0M441.8 554.7h0M462.6 552.4h0M483.4 558.5h0M504.2 559.8h0M566.6 543.1h0M587.4 556.6h0M629.0 540.3h0M649.8 552.7h0M400.2 545.9h0M421.0 559.2h0M441.8 537.2h0M462.6 547.8h0M483.4 548.7h0M504.2 551.9h0M525.0 548.0h0M545.8 542.4h0M587.4 549.4h0M608.2 548.7h0M670.6 540.0h0M400.2 541.9h0M421.0 548.1h0M441.8 546.5h0M462.6 555.0h0M483.4 534.2h0M504.2 539.4h0M525.0 528.9h0M566.6 551.2h0M587.4 549.8h0M608.2 529.4h0M629.0 533.6h0M649.8 546.0h0M670.6 539.1h0M400.2 548.1h0M421.0 547.4h0M441.8 539.7h0M462.6 532.0h0M483.4 539.0h0M504.2 541.0h0M525.0 530.4h0M545.8 545.2h0M566.6 542.9h0M629.0 545.6h0M649.8 544.0h0M400.2 563.3h0M421.0 551.8h0M441.8 559.8h0M462.6 549.4h0M483.4 558.3h0M504.2 562.0h0M525.0 557.6h0M545.8 557.2h0M566.6 511.5h0M587.4 558.1h0M629.0 568.0h0M670.6 552.6h0M400.2 540.7h0M421.0 544.9h0M462.6 541.4h0M483.4 532.1h0M504.2 533.3h0M525.0 539.7h0M545.8 535.8h0M566.6 536.8h0M629.0 537.2h0M400.2 562.8h0M421.0 557.9h0M462.6 543.1h0M483.4 553.3h0M504.2 535.1h0M566.6 553.2h0M608.2 535.7h0M629.0 547.5h0M649.8 542.2h0M670.6 534.6h0M400.2 559.1h0M421.0 556.6h0M441.8 559.3h0M462.6 563.8h0M504.2 546.4h0M525.0 544.7h0M545.8 557.1h0M608.2 537.6h0M649.8 560.4h0M400.2 551.0h0M421.0 554.1h0M441.8 553.9h0M462.6 542.5h0M504.2 561.8h0M525.0 560.8h0M545.8 544.0h0M566.6 537.2h0M608.2 532.5h0M629.0 560.0h0M400.2 566.0h0M421.0 563.4h0M441.8 563.5h0M462.6 559.9h0M483.4 562.0h0M504.2 554.9h0M525.0 560.9h0M545.8 564.3h0M587.4 558.0h0M629.0 567.3h0M649.8 563.0h0M670.6 564.4h0M400.2 563.8h0M421.0 554.1h0M441.8 549.5h0M483.4 550.6h0M504.2 557.1h0M525.0 559.6h0M545.8 549.0h0M566.6 547.1h0M587.4 546.9h0M629.0 559.5h0M400.2 551.1h0M421.0 555.6h0M441.8 546.2h0M462.6 539.8h0M483.4 544.3h0M504.2 557.0h0M525.0 533.9h0M545.8 544.9h0M587.4 548.4h0M670.6 541.0h0M400.2 545.3h0M421.0 556.3h0M441.8 556.7h0M483.4 553.6h0M504.2 557.0h0M525.0 560.4h0M545.8 550.9h0M566.6 536.6h0M587.4 551.4h0M608.2 545.6h0M629.0 555.1h0M670.6 555.6h0M400.2 543.4h0M421.0 553.7h0M441.8 553.7h0M462.6 556.0h0M483.4 556.4h0M504.2 542.6h0M525.0 541.9h0M545.8 549.4h0M566.6 547.9h0M587.4 544.2h0M608.2 545.9h0M670.6 549.9h0M400.2 552.1h0M421.0 559.0h0M441.8 555.4h0M462.6 553.0h0M483.4 548.7h0M504.2 565.0h0M525.0 549.6h0M545.8 536.1h0M566.6 550.9h0M608.2 543.1h0M649.8 540.8h0M400.2 522.4h0M421.0 553.8h0M441.8 547.0h0M462.6 547.9h0M504.2 536.7h0M525.0 545.4h0M545.8 551.1h0M566.6 545.3h0M587.4 552.6h0M608.2 534.7h0M400.2 541.5h0M421.0 541.0h0M441.8 553.5h0M462.6 534.0h0M483.4 529.9h0M504.2 536.0h0M525.0 527.9h0M587.4 538.5h0M608.2 527.5h0M670.6 548.8h0M400.2 550.1h0M421.0 560.3h0M441.8 550.0h0M462.6 547.2h0M483.4 553.8h0M504.2 543.1h0M525.0 546.2h0M545.8 550.6h0M587.4 554.9h0M649.8 549.9h0M400.2 556.8h0M421.0 559.2h0M441.8 542.4h0M462.6 553.8h0M483.4 553.1h0M504.2 559.9h0M525.0 543.1h0M545.8 544.8h0M587.4 555.4h0M608.2 550.0h0M629.0 556.6h0M649.8 552.2h0M400.2 547.6h0M421.0 549.1h0M441.8 546.2h0M462.6 540.2h0M504.2 546.7h0M525.0 537.9h0M566.6 547.5h0M608.2 540.8h0M670.6 537.4h0M400.2 533.0h0M421.0 536.3h0M441.8 536.5h0M462.6 538.5h0M483.4 525.4h0M504.2 536.5h0M525.0 535.7h0M545.8 529.6h0M566.6 525.9h0M587.4 535.0h0M608.2 530.5h0M629.0 524.6h0M649.8 535.2h0M400.2 546.3h0M421.0 549.9h0M441.8 550.9h0M462.6 536.4h0M483.4 550.2h0M504.2 541.3h0M545.8 553.9h0M587.4 557.1h0M608.2 536.3h0M629.0 553.7h0M670.6 557.0h0M400.2 561.4h0M421.0 555.4h0M441.8 550.3h0M462.6 540.8h0M483.4 532.3h0M504.2 548.8h0M525.0 534.1h0M545.8 544.0h0M566.6 557.9h0M608.2 528.6h0M629.0 543.3h0M649.8 542.8h0M400.2 556.5h0M421.0 560.5h0M441.8 562.4h0M462.6 562.3h0M483.4 560.0h0M504.2 559.1h0M525.0 556.9h0M545.8 562.0h0M566.6 561.8h0M587.4 559.4h0M608.2 555.6h0M649.8 558.0h0M670.6 550.4h0M400.2 538.3h0M421.0 537.1h0M441.8 534.5h0M462.6 535.7h0M483.4 533.7h0M504.2 539.5h0M525.0 532.7h0M545.8 531.1h0M566.6 532.7h0M587.4 546.8h0M608.2 523.4h0M629.0 540.8h0M649.8 535.5h0M670.6 536.9h0M400.2 537.4h0M421.0 536.7h0M441.8 547.1h0M462.6 535.3h0M483.4 540.4h0M504.2 554.4h0M525.0 545.2h0M545.8 539.5h0M566.6 544.0h0M587.4 542.0h0M608.2 537.6h0M629.0 543.1h0M400.2 539.3h0M421.0 542.6h0M441.8 530.9h0M462.6 534.0h0M504.2 530.1h0M545.8 532.5h0M566.6 539.9h0M587.4 545.3h0M629.0 530.4h0M670.6 546.0h0M400.2 547.3h0M421.0 557.0h0M441.8 545.1h0M462.6 534.9h0M483.4 538.3h0M504.2 538.5h0M525.0 550.7h0M545.8 545.7h0M566.6 550.3h0M587.4 539.8h0M629.0 545.3h0M649.8 541.0h0M400.2 547.4h0M421.0 564.8h0M441.8 557.0h0M462.6 561.7h0M504.2 545.6h0M525.0 541.7h0M545.8 554.6h0M587.4 555.1h0M608.2 549.2h0M649.8 554.2h0M400.2 561.8h0M421.0 540.2h0M441.8 545.1h0M462.6 532.0h0M483.4 530.8h0M525.0 536.2h0M545.8 530.7h0M566.6 534.7h0M587.4 537.3h0M608.2 529.4h0M649.8 540.8h0M670.6 548.1h0M400.2 535.0h0M421.0 537.4h0M441.8 543.7h0M462.6 541.1h0M483.4 549.1h0M504.2 539.6h0M525.0 533.9h0M566.6 542.7h0M587.4 544.6h0M629.0 545.2h0M670.6 544.8h0M400.2 556.0h0M421.0 561.0h0M441.8 563.9h0M462.6 548.4h0M483.4 550.9h0M504.2 550.5h0M525.0 561.0h0M545.8 550.6h0M566.6 558.5h0M587.4 547.9h0M608.2 540.3h0M629.0 546.6h0M649.8 549.8h0M670.6 549.4h0M400.2 567.0h0M421.0 559.1h0M441.8 557.9h0M462.6 547.8h0M483.4 561.8h0M504.2 558.6h0M525.0 557.4h0M545.8 555.6h0M566.6 553.0h0M608.2 555.5h0M670.6 559.0h0M400.2 562.8h0M421.0 541.4h0M441.8 538.9h0M462.6 551.7h0M483.4 550.2h0M504.2 541.3h0M525.0 548.9h0M566.6 550.6h0M649.8 539.0h0M400.2 549.3h0M421.0 545.5h0M441.8 545.8h0M462.6 557.4h0M483.4 558.5h0M504.2 532.0h0M545.8 535.3h0M587.4 548.9h0M608.2 548.4h0M629.0 560.6h0M670.6 538.3h0M400.2 536.4h0M421.0 535.0h0M441.8 532.9h0M462.6 531.6h0M483.4 531.5h0M504.2 529.0h0M525.0 523.9h0M566.6 532.2h0M587.4 531.4h0M629.0 522.0h0M649.8 533.9h0M670.6 528.1h0M400.2 548.2h0M421.0 551.2h0M441.8 549.2h0M462.6 560.8h0M483.4 546.9h0M525.0 548.7h0M545.8 558.7h0M566.6 554.3h0M649.8 556.2h0M670.6 560.5h0M400.2 553.1h0M421.0 555.0h0M441.8 548.3h0M462.6 561.6h0M483.4 540.3h0M504.2 556.7h0M545.8 543.4h0M566.6 554.2h0M587.4 548.5h0M629.0 555.3h0M649.8 549.2h0M400.2 551.9h0M421.0 557.3h0M441.8 550.1h0M462.6 547.6h0M483.4 534.8h0M504.2 537.3h0M545.8 542.5h0M566.6 554.9h0M587.4 551.1h0M608.2 532.0h0M629.0 540.1h0M649.8 544.5h0M400.2 557.1h0M421.0 560.9h0M441.8 558.6h0M462.6 553.1h0M525.0 563.2h0M566.6 561.1h0M587.4 560.7h0M608.2 555.6h0M649.8 557.5h0M400.2 556.2h0M421.0 555.0h0M441.8 548.6h0M462.6 557.1h0M483.4 557.0h0M504.2 561.9h0M525.0 552.9h0M566.6 543.7h0M587.4 554.1h0M629.0 558.9h0M649.8 554.3h0M670.6 554.5h0M400.2 534.2h0M421.0 543.1h0M441.8 533.9h0M462.6 532.6h0M483.4 531.5h0M504.2 529.0h0M525.0 535.2h0M545.8 533.8h0M566.6 539.9h0M587.4 536.0h0M608.2 525.2h0M629.0 523.1h0M400.2 545.2h0M421.0 548.1h0M441.8 551.9h0M462.6 529.8h0M483.4 545.9h0M545.8 545.9h0M587.4 549.6h0M608.2 527.9h0M629.0 550.4h0M649.8 547.1h0M400.2 553.0h0M421.0 541.9h0M441.8 553.2h0M462.6 550.0h0M483.4 549.6h0M504.2 556.3h0M545.8 559.8h0M566.6 545.9h0M587.4 557.3h0M629.0 563.7h0M400.2 555.4h0M421.0 565.2h0M441.8 557.1h0M462.6 558.5h0M483.4 562.7h0M525.0 544.9h0M566.6 546.5h0M587.4 558.7h0M670.6 557.1h0M400.2 539.9h0M421.0 540.9h0M441.8 554.1h0M462.6 543.4h0M504.2 546.7h0M525.0 528.2h0M545.8 539.8h0M566.6 544.8h0M608.2 546.5h0M629.0 546.4h0M649.8 548.6h0M670.6 552.0h0M400.2 554.0h0M421.0 539.2h0M462.6 538.9h0M483.4 536.1h0M504.2 537.0h0M525.0 555.1h0M545.8 533.7h0M566.6 533.9h0M587.4 542.2h0M629.0 541.6h0M400.2 549.7h0M421.0 547.5h0M441.8 547.0h0M483.4 541.5h0M504.2 542.2h0M525.0 544.2h0M545.8 545.1h0M566.6 542.6h0M587.4 544.0h0M608.2 538.1h0M629.0 546.1h0M649.8 551.2h0M670.6 547.4h0M400.2 554.2h0M421.0 551.0h0M441.8 562.3h0M462.6 545.6h0M483.4 550.1h0M504.2 537.9h0M525.0 559.2h0M545.8 545.0h0M608.2 553.0h0M649.8 549.0h0M670.6 541.6h0M400.2 550.0h0M421.0 549.2h0M441.8 556.7h0M462.6 543.0h0M483.4 548.4h0M504.2 550.0h0M587.4 537.6h0M629.0 557.4h0M649.8 536.3h0M670.6 539.4h0M400.2 557.6h0M421.0 538.7h0M441.8 534.7h0M462.6 537.9h0M504.2 533.2h0M545.8 548.2h0M566.6 534.9h0M649.8 544.7h0M400.2 559.3h0M441.8 553.1h0M462.6 551.8h0M483.4 540.2h0M504.2 549.8h0M525.0 546.9h0M545.8 546.5h0M566.6 555.9h0M587.4 550.0h0M649.8 559.5h0M670.6 560.0h0M400.2 542.3h0M421.0 545.8h0M441.8 535.4h0M462.6 542.4h0M483.4 536.9h0M504.2 552.8h0M525.0 537.2h0M545.8 531.0h0M566.6 532.5h0M587.4 543.4h0M608.2 531.7h0M629.0 555.0h0M649.8 548.2h0M670.6 532.1h0M400.2 563.9h0M421.0 567.6h0M441.8 563.1h0M462.6 563.6h0M483.4 556.1h0M504.2 556.0h0M525.0 563.7h0M566.6 562.1h0M587.4 556.5h0M608.2 560.0h0M629.0 563.8h0M400.2 550.4h0M421.0 558.1h0M441.8 548.5h0M483.4 545.2h0M504.2 566.3h0M525.0 562.8h0M545.8 563.4h0M587.4 562.8h0M608.2 557.3h0M629.0 562.0h0M670.6 558.4h0M400.2 556.7h0M421.0 550.1h0M441.8 546.9h0M462.6 551.6h0M504.2 546.3h0M525.0 539.5h0M545.8 556.1h0M566.6 557.5h0M587.4 561.0h0M608.2 535.3h0M629.0 535.9h0M649.8 548.9h0M670.6 554.4h0M400.2 554.0h0M421.0 561.0h0M441.8 553.6h0M462.6 550.7h0M504.2 561.5h0M525.0 551.0h0M545.8 551.7h0M608.2 530.3h0M629.0 544.4h0M400.2 562.3h0M421.0 563.0h0M441.8 555.7h0M462.6 554.7h0M504.2 556.4h0M525.0 553.9h0M545.8 547.7h0M566.6 545.6h0M608.2 548.9h0M649.8 555.2h0M400.2 549.4h0M421.0 544.3h0M462.6 544.8h0M483.4 534.1h0M504.2 547.2h0M525.0 532.4h0M545.8 547.5h0M566.6 552.8h0M587.4 550.9h0M608.2 543.6h0M400.2 545.1h0M421.0 544.8h0M441.8 530.7h0M462.6 540.9h0M483.4 538.3h0M504.2 539.2h0M545.8 534.8h0M608.2 536.7h0M629.0 526.0h0M649.8 535.8h0M400.2 558.8h0M421.0 554.7h0M441.8 541.0h0M462.6 531.5h0M504.2 557.8h0M525.0 543.4h0M545.8 538.3h0M608.2 532.9h0M670.6 552.8h0M400.2 545.6h0M421.0 562.8h0M441.8 549.3h0M462.6 543.0h0M483.4 548.7h0M504.2 551.4h0M525.0 551.1h0M545.8 540.4h0M587.4 542.4h0M629.0 540.0h0M649.8 546.6h0M670.6 552.3h0M400.2 537.2h0M421.0 541.5h0M441.8 547.1h0M462.6 533.7h0M483.4 537.4h0M525.0 534.5h0M608.2 546.8h0M649.8 537.1h0M670.6 537.8h0M400.2 539.3h0M421.0 536.3h0M441.8 540.3h0M462.6 550.8h0M483.4 544.3h0M504.2 538.3h0M525.0 547.9h0M545.8 539.7h0M566.6 532.9h0M587.4 541.9h0M608.2 531.8h0M400.2 564.2h0M421.0 561.4h0M441.8 550.2h0M462.6 549.8h0M483.4 556.3h0M504.2 558.3h0M545.8 550.4h0M566.6 556.9h0M587.4 549.3h0M608.2 558.9h0M649.8 553.5h0M400.2 553.1h0M421.0 549.1h0M441.8 548.9h0M483.4 545.3h0M525.0 551.7h0M545.8 546.7h0M566.6 557.4h0M587.4 539.8h0M608.2 550.2h0M629.0 550.8h0M670.6 547.1h0M400.2 532.4h0M421.0 538.2h0M441.8 538.5h0M462.6 534.6h0M483.4 537.4h0M504.2 539.7h0M566.6 531.8h0M587.4 545.3h0M608.2 522.3h0M629.0 533.9h0M649.8 547.7h0M670.6 531.0h0M400.2 559.8h0M421.0 559.6h0M441.8 552.0h0M462.6 560.3h0M483.4 559.9h0M504.2 546.6h0M545.8 550.8h0M566.6 557.9h0M587.4 558.4h0M629.0 550.6h0M649.8 556.9h0M400.2 547.0h0M421.0 549.3h0M441.8 544.2h0M462.6 538.2h0M504.2 546.8h0M525.0 546.7h0M545.8 534.6h0M566.6 547.5h0M587.4 536.6h0M608.2 532.0h0M629.0 541.2h0M649.8 542.0h0M670.6 554.7h0M400.2 554.4h0M421.0 552.9h0M441.8 548.6h0M462.6 555.0h0M483.4 553.2h0M504.2 542.0h0M545.8 532.3h0M566.6 548.9h0M587.4 520.0h0M629.0 563.1h0M670.6 553.5h0M400.2 550.7h0M421.0 561.9h0M441.8 562.1h0M462.6 561.6h0M483.4 550.8h0M525.0 549.4h0M545.8 560.4h0M566.6 542.8h0M587.4 547.9h0M629.0 551.0h0M649.8 558.6h0M400.2 551.9h0M421.0 542.2h0M441.8 557.8h0M462.6 562.1h0M483.4 546.0h0M504.2 564.6h0M545.8 553.3h0M566.6 546.4h0M587.4 575.5h0M400.2 535.3h0M421.0 534.9h0M441.8 535.7h0M483.4 547.6h0M504.2 535.4h0M525.0 535.9h0M545.8 544.1h0M587.4 543.7h0M608.2 542.4h0M629.0 535.5h0M649.8 537.7h0M400.2 543.8h0M421.0 545.7h0M441.8 545.5h0M462.6 547.9h0M483.4 558.8h0M504.2 551.0h0M525.0 540.3h0M545.8 551.2h0M566.6 546.1h0M608.2 533.3h0M629.0 541.5h0M649.8 554.5h0M400.2 544.2h0M421.0 537.4h0M441.8 532.7h0M462.6 539.1h0M483.4 539.1h0M504.2 545.4h0M525.0 557.1h0M545.8 545.2h0M566.6 540.3h0M629.0 537.8h0M649.8 549.4h0M670.6 554.5h0M400.2 565.7h0M421.0 564.1h0M441.8 556.8h0M462.6 554.4h0M483.4 557.8h0M504.2 556.9h0M525.0 556.3h0M566.6 560.8h0M587.4 561.6h0M608.2 551.6h0M629.0 566.6h0M400.2 555.3h0M421.0 554.3h0M441.8 552.3h0M462.6 540.2h0M483.4 554.9h0M504.2 542.1h0M525.0 538.6h0M545.8 555.6h0M566.6 559.2h0M587.4 546.4h0M608.2 543.4h0M629.0 556.9h0M649.8 546.2h0M670.6 546.8h0M400.2 552.0h0M421.0 540.4h0M441.8 543.2h0M462.6 541.9h0M483.4 544.8h0M504.2 538.3h0M525.0 544.2h0M545.8 547.3h0M587.4 540.4h0M629.0 552.6h0M649.8 554.9h0M670.6 552.8h0M400.2 544.1h0M421.0 550.4h0M441.8 536.9h0M462.6 538.6h0M483.4 528.8h0M504.2 533.8h0M525.0 528.7h0M545.8 533.3h0M587.4 545.8h0M608.2 531.6h0M629.0 533.6h0M400.2 553.5h0M421.0 553.6h0M441.8 573.6h0M462.6 541.4h0M483.4 550.9h0M504.2 529.9h0M525.0 546.1h0M545.8 547.5h0M566.6 545.2h0M587.4 541.0h0M608.2 543.4h0M629.0 547.0h0M649.8 542.2h0M400.2 536.2h0M441.8 539.7h0M462.6 545.5h0M483.4 547.1h0M504.2 536.7h0M545.8 542.1h0M566.6 542.6h0M608.2 526.4h0M649.8 551.4h0M400.2 547.9h0M421.0 554.6h0M441.8 541.8h0M462.6 543.6h0M483.4 537.0h0M504.2 530.8h0M566.6 529.9h0M587.4 545.7h0M608.2 526.8h0M649.8 538.2h0M400.2 541.2h0M421.0 535.2h0M441.8 533.8h0M462.6 545.2h0M483.4 559.1h0M504.2 538.3h0M525.0 528.2h0M545.8 545.8h0M566.6 531.1h0M587.4 548.8h0M629.0 530.3h0M649.8 537.0h0M400.2 563.4h0M421.0 552.1h0M441.8 557.2h0M462.6 552.3h0M483.4 555.9h0M504.2 553.5h0M525.0 553.0h0M545.8 560.5h0M566.6 542.7h0M587.4 562.4h0M608.2 545.2h0M629.0 533.3h0M649.8 553.1h0M670.6 550.6h0M400.2 547.0h0M421.0 548.2h0M462.6 552.5h0M483.4 538.6h0M504.2 532.3h0M525.0 531.1h0M545.8 556.8h0M566.6 551.2h0M587.4 555.1h0M629.0 550.7h0M649.8 559.5h0M670.6 554.2h0M400.2 544.5h0M421.0 551.7h0M441.8 561.3h0M462.6 553.6h0M483.4 548.5h0M504.2 555.7h0M525.0 554.3h0M545.8 557.5h0M566.6 548.9h0M587.4 558.3h0M608.2 552.5h0M670.6 550.6h0M400.2 568.4h0M421.0 566.6h0M441.8 565.8h0M462.6 558.4h0M483.4 560.7h0M504.2 568.4h0M525.0 565.4h0M566.6 556.5h0M608.2 562.1h0M649.8 561.2h0M400.2 560.8h0M441.8 523.1h0M462.6 565.1h0M483.4 560.2h0M504.2 561.0h0M545.8 566.2h0M566.6 553.3h0M587.4 555.9h0M608.2 560.6h0M649.8 552.2h0M400.2 535.1h0M421.0 533.4h0M441.8 537.5h0M462.6 536.4h0M483.4 531.0h0M504.2 528.7h0M545.8 526.9h0M566.6 532.3h0M587.4 535.3h0M400.2 557.4h0M421.0 553.1h0M441.8 558.3h0M462.6 560.6h0M483.4 536.4h0M504.2 542.8h0M525.0 557.2h0M545.8 560.8h0M566.6 556.5h0M587.4 555.1h0M629.0 538.6h0M400.2 563.6h0M421.0 564.0h0M441.8 561.8h0M462.6 561.9h0M483.4 560.6h0M504.2 565.5h0M525.0 553.2h0M545.8 564.8h0M566.6 564.8h0M587.4 563.7h0M608.2 560.2h0M649.8 560.1h0M400.2 559.0h0M421.0 555.2h0M441.8 549.1h0M483.4 541.5h0M504.2 560.5h0M525.0 552.2h0M566.6 554.7h0M608.2 541.3h0M649.8 553.3h0M400.2 538.9h0M421.0 541.5h0M441.8 544.9h0M483.4 541.6h0M545.8 530.2h0M566.6 532.0h0M587.4 536.4h0M608.2 535.1h0M670.6 534.0h0M400.2 554.5h0M421.0 541.4h0M441.8 549.7h0M483.4 544.7h0M504.2 533.3h0M525.0 560.1h0M545.8 541.8h0M566.6 543.8h0M629.0 552.6h0M649.8 551.9h0M670.6 552.0h0M400.2 552.3h0M421.0 556.6h0M441.8 540.3h0M462.6 553.2h0M483.4 539.8h0M504.2 545.6h0M525.0 527.9h0M587.4 550.6h0M608.2 550.9h0M629.0 536.9h0M649.8 547.6h0M670.6 530.6h0M400.2 560.1h0M421.0 557.8h0M441.8 554.7h0M462.6 550.2h0M483.4 547.4h0M525.0 560.6h0M545.8 542.3h0M566.6 543.8h0M587.4 543.1h0M629.0 547.9h0M670.6 539.8h0M400.2 543.9h0M421.0 554.4h0M441.8 556.9h0M462.6 546.6h0M483.4 559.7h0M525.0 546.6h0M545.8 551.8h0M566.6 545.4h0M587.4 542.6h0M608.2 555.9h0M649.8 548.7h0M670.6 550.6h0M400.2 544.3h0M421.0 550.0h0M441.8 542.2h0M462.6 538.9h0M525.0 542.7h0M545.8 532.8h0M587.4 535.3h0M629.0 535.4h0M649.8 534.9h0M670.6 530.1h0M400.2 539.1h0M421.0 552.5h0M441.8 533.3h0M462.6 549.0h0M483.4 530.9h0M504.2 545.9h0M525.0 535.7h0M566.6 542.9h0M587.4 554.5h0M608.2 525.3h0M629.0 534.2h0M649.8 550.1h0M400.2 546.8h0M421.0 557.4h0M441.8 548.6h0M462.6 541.2h0M483.4 542.8h0M504.2 547.3h0M525.0 547.9h0M545.8 547.5h0M608.2 545.8h0M629.0 551.2h0M400.2 549.3h0M421.0 537.5h0M441.8 533.2h0M462.6 553.0h0M483.4 543.8h0M504.2 544.7h0M525.0 539.3h0M545.8 544.3h0M566.6 554.0h0M587.4 538.2h0M608.2 543.7h0M649.8 538.8h0M670.6 554.7h0M400.2 535.6h0M421.0 534.0h0M441.8 541.2h0M462.6 545.0h0M483.4 531.9h0M525.0 531.7h0M545.8 528.1h0M566.6 532.7h0M587.4 545.9h0M608.2 541.0h0M670.6 537.3h0M400.2 557.7h0M421.0 549.5h0M441.8 541.8h0M462.6 550.9h0M483.4 559.2h0M504.2 554.8h0M525.0 539.8h0M545.8 550.0h0M566.6 543.8h0M587.4 553.8h0M608.2 539.5h0M629.0 543.1h0M670.6 557.3h0M400.2 543.3h0M421.0 558.3h0M462.6 549.6h0M483.4 539.4h0M504.2 535.9h0M525.0 545.4h0M545.8 551.1h0M587.4 541.2h0M608.2 533.5h0M400.2 538.4h0M421.0 552.1h0M441.8 547.6h0M462.6 537.7h0M483.4 541.3h0M504.2 549.0h0M545.8 539.1h0M566.6 543.5h0M608.2 537.0h0M629.0 525.0h0M670.6 548.6h0M400.2 560.0h0M421.0 556.3h0M441.8 552.9h0M462.6 555.0h0M483.4 555.7h0M504.2 555.5h0M525.0 561.2h0M545.8 542.9h0M566.6 551.6h0M608.2 552.1h0M629.0 550.2h0M649.8 554.6h0M670.6 552.2h0M400.2 546.6h0M421.0 542.5h0M441.8 531.7h0M462.6 530.4h0M483.4 543.2h0M504.2 554.0h0M525.0 542.9h0M566.6 536.7h0M587.4 538.5h0M629.0 539.0h0M670.6 552.6h0M400.2 557.8h0M421.0 553.9h0M441.8 546.2h0M483.4 558.0h0M525.0 556.7h0M545.8 556.2h0M587.4 553.2h0M608.2 550.3h0M629.0 555.9h0M649.8 549.5h0M400.2 539.7h0M421.0 551.7h0M441.8 545.5h0M462.6 542.2h0M483.4 553.0h0M504.2 534.3h0M525.0 547.4h0M545.8 551.6h0M608.2 554.8h0M649.8 555.2h0M400.2 564.0h0M421.0 566.7h0M441.8 561.6h0M462.6 557.8h0M504.2 563.5h0M525.0 553.6h0M545.8 558.3h0M566.6 559.2h0M587.4 562.5h0M629.0 566.3h0M670.6 555.3h0M400.2 565.2h0M421.0 562.3h0M441.8 559.7h0M462.6 558.6h0M483.4 551.0h0M504.2 565.9h0M525.0 558.7h0M545.8 553.2h0M566.6 552.6h0M587.4 555.7h0M608.2 546.5h0M629.0 571.5h0M649.8 555.5h0M670.6 556.9h0M400.2 534.4h0M421.0 537.5h0M441.8 531.7h0M462.6 537.4h0M483.4 531.5h0M525.0 536.3h0M545.8 542.5h0M566.6 535.6h0M608.2 523.6h0M649.8 536.1h0M400.2 560.2h0M421.0 554.6h0M441.8 547.8h0M462.6 550.3h0M483.4 549.5h0M504.2 559.5h0M566.6 559.8h0M587.4 548.8h0M608.2 543.5h0M649.8 555.1h0M400.2 546.5h0M421.0 544.6h0M441.8 537.0h0M462.6 547.9h0M504.2 547.4h0M525.0 536.2h0M566.6 544.2h0M587.4 553.7h0M608.2 527.2h0M629.0 545.4h0M670.6 539.4h0M400.2 559.5h0M421.0 552.9h0M441.8 542.9h0M462.6 551.1h0M483.4 545.5h0M504.2 553.6h0M566.6 546.9h0M587.4 557.9h0M629.0 558.3h0M649.8 518.4h0M670.6 555.8h0M400.2 560.4h0M462.6 549.0h0M504.2 546.3h0M525.0 545.0h0M545.8 538.0h0M566.6 532.1h0M587.4 544.7h0M608.2 551.6h0M629.0 529.1h0M670.6 543.3h0M400.2 550.0h0M421.0 549.5h0M441.8 532.4h0M462.6 556.3h0M483.4 544.3h0M504.2 534.7h0M545.8 532.8h0M566.6 544.3h0M587.4 542.3h0M608.2 535.4h0M629.0 546.5h0M670.6 556.1h0M400.2 562.3h0M421.0 555.7h0M441.8 553.2h0M462.6 550.6h0M483.4 555.8h0M504.2 562.4h0M525.0 555.3h0M545.8 560.9h0M566.6 562.3h0M587.4 553.7h0M608.2 551.7h0M649.8 560.2h0M670.6 557.7h0M400.2 562.2h0M421.0 553.7h0M441.8 541.8h0M462.6 545.9h0M483.4 549.2h0M504.2 548.7h0M525.0 548.4h0M545.8 556.7h0M566.6 541.2h0M587.4 557.0h0M608.2 553.3h0M649.8 547.1h0M670.6 553.6h0M400.2 556.7h0M421.0 553.9h0M441.8 542.1h0M462.6 555.0h0M483.4 546.5h0M504.2 539.7h0M525.0 540.8h0M566.6 545.0h0M587.4 552.3h0M629.0 542.6h0M649.8 541.9h0M400.2 555.7h0M421.0 541.2h0M441.8 558.0h0M462.6 543.6h0M483.4 540.8h0M504.2 553.7h0M545.8 534.3h0M566.6 540.6h0M608.2 545.3h0M649.8 547.1h0M670.6 545.0h0M400.2 544.6h0M421.0 542.3h0M441.8 559.7h0M462.6 549.8h0M483.4 550.9h0M504.2 531.4h0M525.0 549.9h0M545.8 548.1h0M566.6 546.9h0M587.4 550.9h0M629.0 552.7h0M649.8 557.1h0M400.2 547.8h0M421.0 554.9h0M462.6 560.7h0M504.2 550.3h0M525.0 541.9h0M545.8 570.3h0M566.6 549.0h0M608.2 542.8h0M649.8 550.0h0M400.2 541.3h0M421.0 540.9h0M441.8 543.1h0M483.4 542.4h0M525.0 546.7h0M545.8 557.3h0M566.6 553.9h0M608.2 543.5h0M629.0 530.0h0M649.8 544.8h0M670.6 574.0h0M400.2 542.6h0M421.0 534.7h0M441.8 532.9h0M462.6 533.9h0M483.4 530.7h0M504.2 539.1h0M525.0 527.7h0M545.8 533.1h0M566.6 532.2h0M587.4 536.4h0M629.0 532.7h0M649.8 534.6h0M670.6 536.9h0M400.2 554.3h0M421.0 543.6h0M441.8 545.1h0M462.6 536.7h0M483.4 540.5h0M504.2 536.2h0M525.0 530.9h0M545.8 534.7h0M566.6 549.2h0M587.4 543.7h0M629.0 550.3h0M400.2 554.4h0M421.0 555.0h0M441.8 548.4h0M462.6 551.3h0M483.4 546.6h0M525.0 558.2h0M587.4 543.0h0M608.2 547.4h0M629.0 566.5h0M400.2 543.5h0M421.0 543.3h0M441.8 553.0h0M462.6 530.5h0M483.4 539.4h0M545.8 547.8h0M566.6 555.6h0M587.4 553.6h0M608.2 539.7h0M649.8 543.3h0M670.6 536.8h0M400.2 542.6h0M421.0 559.6h0M441.8 551.7h0M462.6 544.8h0M483.4 550.1h0M504.2 531.1h0M545.8 531.8h0M566.6 521.4h0M587.4 545.1h0M608.2 549.7h0M649.8 544.9h0M400.2 546.2h0M421.0 555.5h0M441.8 550.3h0M462.6 549.1h0M483.4 540.8h0M504.2 540.1h0M525.0 553.7h0M545.8 547.9h0M608.2 535.4h0M629.0 551.8h0M670.6 538.0h0M400.2 536.7h0M421.0 534.8h0M462.6 542.4h0M483.4 539.3h0M504.2 524.2h0M525.0 536.6h0M545.8 524.2h0M566.6 546.5h0M587.4 532.3h0M629.0 527.0h0M649.8 533.6h0M670.6 540.0h0M400.2 549.8h0M421.0 549.7h0M441.8 557.0h0M462.6 539.3h0M483.4 547.8h0M504.2 556.6h0M525.0 558.5h0M545.8 535.4h0M566.6 547.4h0M629.0 545.0h0M649.8 548.4h0M670.6 550.6h0M400.2 556.6h0M421.0 541.0h0M441.8 548.8h0M462.6 551.1h0M483.4 543.6h0M504.2 541.0h0M525.0 545.3h0M566.6 545.7h0M587.4 543.8h0M649.8 525.6h0M670.6 556.8h0M400.2 561.8h0M421.0 559.6h0M441.8 551.3h0M462.6 556.9h0M504.2 560.7h0M525.0 550.8h0M545.8 561.2h0M566.6 553.2h0M587.4 557.0h0M608.2 534.5h0M629.0 561.3h0M649.8 548.1h0M400.2 548.0h0M421.0 544.8h0M462.6 555.4h0M504.2 553.7h0M525.0 544.2h0M545.8 532.9h0M566.6 556.0h0M649.8 549.3h0M400.2 562.2h0M421.0 547.3h0M441.8 557.9h0M462.6 557.2h0M483.4 544.2h0M504.2 552.9h0M525.0 548.5h0M545.8 548.4h0M566.6 535.9h0M587.4 551.0h0M608.2 549.8h0M629.0 548.4h0M649.8 549.8h0M670.6 556.3h0M400.2 537.9h0M421.0 532.4h0M462.6 537.2h0M525.0 541.4h0M545.8 539.8h0M566.6 536.3h0M587.4 530.0h0M649.8 539.7h0M670.6 545.5h0M400.2 542.1h0M441.8 553.7h0M462.6 541.8h0M483.4 534.1h0M525.0 533.9h0M545.8 539.2h0M566.6 536.9h0M629.0 544.1h0M670.6 562.1h0M400.2 553.4h0M421.0 556.7h0M441.8 558.6h0M462.6 548.6h0M483.4 555.0h0M504.2 564.2h0M525.0 551.2h0M587.4 556.0h0M608.2 548.5h0M629.0 560.7h0M400.2 534.1h0M421.0 535.2h0M441.8 531.7h0M462.6 532.1h0M483.4 533.3h0M504.2 530.0h0M545.8 529.5h0M566.6 529.4h0M587.4 533.7h0M608.2 526.7h0M629.0 526.4h0M400.2 565.0h0M421.0 558.4h0M441.8 556.3h0M462.6 552.1h0M483.4 552.2h0M504.2 553.9h0M545.8 562.4h0M566.6 554.2h0M587.4 563.1h0M629.0 560.5h0M649.8 560.8h0M400.2 543.5h0M421.0 549.3h0M441.8 550.6h0M462.6 543.5h0M483.4 533.3h0M504.2 534.0h0M525.0 536.5h0M545.8 554.8h0M566.6 539.0h0M608.2 529.9h0M629.0 535.4h0M670.6 539.3h0M400.2 543.2h0M421.0 545.2h0M441.8 541.5h0M483.4 550.4h0M504.2 535.6h0M525.0 533.8h0M587.4 533.6h0M608.2 530.8h0M629.0 528.2h0M649.8 536.6h0M670.6 546.1h0M400.2 541.1h0M421.0 553.8h0M441.8 540.3h0M462.6 542.9h0M483.4 530.0h0M504.2 531.9h0M525.0 534.0h0M545.8 545.9h0M566.6 545.6h0M649.8 538.5h0M400.2 549.3h0M421.0 537.7h0M441.8 544.7h0M483.4 540.2h0M504.2 542.2h0M545.8 549.5h0M587.4 551.5h0M608.2 547.3h0M649.8 540.5h0M670.6 556.8h0M400.2 550.9h0M421.0 551.3h0M441.8 544.7h0M462.6 542.5h0M504.2 541.3h0M525.0 546.7h0M545.8 546.5h0M566.6 548.0h0M587.4 541.8h0M608.2 532.7h0M629.0 551.7h0M649.8 549.2h0M400.2 540.0h0M421.0 552.6h0M462.6 546.7h0M483.4 540.9h0M545.8 550.7h0M566.6 547.5h0M608.2 541.6h0M629.0 563.6h0M670.6 557.3h0M400.2 539.8h0M421.0 547.3h0M441.8 541.8h0M462.6 537.5h0M483.4 542.2h0M504.2 551.1h0M525.0 555.8h0M545.8 544.0h0M566.6 546.5h0M587.4 572.0h0M400.2 566.1h0M421.0 564.5h0M441.8 562.8h0M462.6 564.2h0M483.4 562.0h0M504.2 556.4h0M525.0 564.2h0M566.6 559.7h0M587.4 564.9h0M649.8 559.5h0M670.6 556.1h0" stroke="#000" stroke-width="2.9" stroke-linecap="round" fill="none"/><path d="M400.2,544.3 403.6,544.2 407.0,544.2 410.5,544.1 413.9,544.0 417.3,544.0 420.7,543.9 424.2,543.8 427.6,543.8 431.0,543.7 434.4,543.6 437.9,543.6 441.3,543.5 444.7,543.4 448.1,543.4 451.5,543.3 455.0,543.2 458.4,543.2 461.8,543.1 465.2,543.1 468.7,543.0 472.1,543.0 475.5,543.0 478.9,542.9 482.3,542.9 485.8,542.9 489.2,542.9 492.6,542.8 496.0,542.8 499.5,542.8 502.9,542.8 506.3,542.8 509.7,542.8 513.2,542.8 516.6,542.8 520.0,542.8 523.4,542.8 526.8,542.8 530.3,542.8 533.7,542.8 537.1,542.9 540.5,542.9 544.0,543.0 547.4,543.0 550.8,543.1 554.2,543.2 557.6,543.3 561.1,543.4 564.5,543.5 567.9,543.6 571.3,543.8 574.8,543.9 578.2,544.1 581.6,544.2 585.0,544.4 588.5,544.6 591.9,544.7 595.3,544.9 598.7,545.1 602.1,545.2 605.6,545.4 609.0,545.5 612.4,545.7 615.8,545.8 619.3,545.9 622.7,546.1 626.1,546.2 629.5,546.3 632.9,546.5 636.4,546.6 639.8,546.7 643.2,546.9 646.6,547.0 650.1,547.2 653.5,547.4 656.9,547.6 660.3,547.8 663.8,548.0 667.2,548.2 670.6,548.4" stroke="#4DAF4A" stroke-width="2.3" fill="none" stroke-linejoin="round"/><text transform="translate(388.0 594.9) scale(0.98 1.06)" font-size="10" fill="#4d4d4d" text-anchor="end" stroke="#4d4d4d" stroke-width="0.18">0</text><text transform="translate(388.0 530.5) scale(0.98 1.06)" font-size="10" fill="#4d4d4d" text-anchor="end" stroke="#4d4d4d" stroke-width="0.18">10</text><text transform="translate(388.0 466.0) scale(0.98 1.06)" font-size="10" fill="#4d4d4d" text-anchor="end" stroke="#4d4d4d" stroke-width="0.18">20</text><text transform="translate(388.0 401.6) scale(0.98 1.06)" font-size="10" fill="#4d4d4d" text-anchor="end" stroke="#4d4d4d" stroke-width="0.18">30</text><text transform="translate(399.1 609.8) scale(0.98 1.06)" font-size="10" fill="#4d4d4d" stroke="#4d4d4d" stroke-width="0.18">0</text><text transform="translate(503.1 609.8) scale(0.98 1.06)" font-size="10" fill="#4d4d4d" stroke="#4d4d4d" stroke-width="0.18">5</text><text transform="translate(605.5 609.8) scale(0.98 1.06)" font-size="10" fill="#4d4d4d" stroke="#4d4d4d" stroke-width="0.18">10</text><text transform="translate(494.5 620.6) scale(1 1.06)" font-size="10" stroke="#000" stroke-width="0.18">Time Since Admission (Days)</text><text transform="translate(368.3 490.8) rotate(-90)" font-size="10" text-anchor="middle" stroke="#000" stroke-width="0.18">Glucose (mmol/L)</text><text transform="translate(389.4 383.5) scale(0.99 1.06)" font-size="9.9" fill="#1a1a1a" stroke="#1a1a1a" stroke-width="0.18">Trajectory = 2</text><text transform="translate(353.1 370.4) scale(1.0 1.03)" font-size="10" stroke="#000" stroke-width="0.18">C</text><path d="M30.6 836.4H327.1M30.6 772.0H327.1M30.6 707.5H327.1M94.6 666.1V878.2M198.6 666.1V878.2M302.6 666.1V878.2" stroke="#ededed" stroke-width="0.6" fill="none"/><path d="M30.6 868.6H327.1M30.6 804.2H327.1M30.6 739.7H327.1M30.6 675.3H327.1M42.6 666.1V878.2M146.6 666.1V878.2M250.6 666.1V878.2" stroke="#ebebeb" stroke-width="1.1" fill="none"/><path d="M42.6,786.7 63.4,804.0 84.2,795.8 105.0,787.7 125.8,792.5 146.6,797.0 167.4,799.2 188.2,789.1 209.0,784.5 229.8,793.9 250.6,787.4 271.4,785.3 313.0,786.1M42.6,841.9 63.4,839.4 84.2,834.9 125.8,833.8 146.6,836.9 167.4,836.7 188.2,835.7 209.0,835.8 229.8,836.3 250.6,832.1 271.4,835.6 292.2,832.3 313.0,833.9M42.6,814.0 63.4,821.1 84.2,793.9 105.0,790.9 125.8,820.1 167.4,794.5 188.2,804.1 209.0,781.9 229.8,797.2 250.6,789.5 271.4,805.7 292.2,795.3M42.6,795.3 63.4,820.2 84.2,803.8 105.0,791.2 125.8,798.9 146.6,826.7 188.2,803.2 209.0,802.8 229.8,805.3 250.6,789.2 292.2,820.0M42.6,782.6 63.4,799.7 84.2,792.7 125.8,804.5 146.6,802.3 167.4,785.6 188.2,803.3 209.0,792.1 229.8,806.1 250.6,798.3 271.4,782.2 292.2,802.5 313.0,805.4M42.6,807.8 63.4,815.5 84.2,804.9 105.0,772.2 125.8,803.4 146.6,815.0 188.2,768.7 209.0,809.9 229.8,764.7 250.6,799.7 292.2,807.6 313.0,811.7M42.6,806.5 63.4,812.3 84.2,794.7 105.0,800.7 125.8,788.3 146.6,791.3 167.4,789.3 188.2,796.8 209.0,782.5 229.8,793.7 250.6,771.6 271.4,784.2 313.0,791.0M42.6,789.8 63.4,816.0 84.2,806.4 125.8,816.4 146.6,827.2 167.4,825.4 209.0,816.7 250.6,818.1 292.2,799.4M42.6,837.6 63.4,817.5 84.2,822.2 105.0,832.6 125.8,827.5 146.6,811.3 167.4,803.5 188.2,804.2 229.8,826.7 250.6,806.6 271.4,829.6 292.2,805.1 313.0,827.9M42.6,802.6 63.4,808.3 84.2,818.4 105.0,798.4 125.8,799.2 146.6,788.6 167.4,798.3 188.2,796.0 209.0,804.9 250.6,802.2 292.2,801.2 313.0,804.8M42.6,809.1 63.4,807.7 84.2,812.4 105.0,813.0 125.8,815.5 146.6,810.3 167.4,794.8 188.2,817.9 209.0,789.4 250.6,790.6 313.0,829.6M42.6,817.3 63.4,834.4 84.2,831.7 105.0,824.9 125.8,816.4 188.2,825.6 209.0,815.8 229.8,809.3 313.0,820.5M42.6,830.2 105.0,815.2 125.8,810.0 146.6,835.1 167.4,801.1 209.0,810.3 229.8,826.3 292.2,822.4M42.6,809.2 63.4,806.4 84.2,793.7 105.0,818.5 125.8,807.5 146.6,816.5 167.4,798.9 188.2,806.2 209.0,809.6 250.6,784.4 271.4,795.3 292.2,805.6 313.0,812.2M42.6,792.6 63.4,815.1 84.2,804.1 105.0,823.6 125.8,819.4 146.6,797.5 188.2,800.2 250.6,791.5 271.4,792.8M42.6,826.9 63.4,825.2 84.2,823.4 105.0,825.1 125.8,822.9 188.2,823.1 250.6,790.2 271.4,802.9 292.2,818.3 313.0,824.8M42.6,832.9 63.4,829.4 84.2,825.5 105.0,806.2 125.8,811.1 146.6,811.1 167.4,829.7 188.2,827.0 209.0,819.6 250.6,831.5 271.4,818.9M42.6,835.4 63.4,827.6 84.2,837.4 105.0,836.8 125.8,832.0 146.6,822.3 250.6,829.7 271.4,824.9 292.2,828.4M42.6,790.7 63.4,804.2 84.2,803.0 125.8,787.7 167.4,786.7 209.0,788.0 271.4,789.6 292.2,786.7 313.0,791.8M42.6,819.9 63.4,829.3 84.2,825.5 105.0,832.9 125.8,826.6 167.4,823.6 188.2,809.6 209.0,822.4 229.8,811.9 250.6,807.2 271.4,767.6 292.2,826.0M42.6,805.0 63.4,803.7 84.2,802.0 105.0,797.7 125.8,805.0 146.6,801.2 167.4,792.9 188.2,806.4 209.0,794.9 229.8,791.0 250.6,773.8 271.4,794.3M42.6,802.5 63.4,813.9 84.2,811.2 105.0,803.4 125.8,822.7 146.6,807.0 167.4,819.6 229.8,808.6 250.6,786.5 292.2,795.3 313.0,803.8M42.6,789.7 63.4,796.3 84.2,797.2 105.0,781.5 125.8,798.1 146.6,810.8 167.4,815.5 188.2,790.0 229.8,792.6 271.4,795.3 292.2,791.1 313.0,777.2M42.6,806.7 63.4,810.1 84.2,816.9 125.8,785.8 146.6,785.1 167.4,795.6 188.2,793.6 209.0,809.5 229.8,805.2 271.4,797.8 292.2,796.2M42.6,807.9 63.4,822.0 84.2,800.5 105.0,811.1 125.8,802.6 146.6,829.6 167.4,794.2 188.2,806.0 209.0,799.5 229.8,812.6 250.6,787.4 271.4,797.8 292.2,796.8 313.0,806.0M42.6,794.3 63.4,801.0 84.2,797.6 105.0,804.7 125.8,797.3 146.6,811.4 167.4,786.4 188.2,811.6 229.8,792.4 250.6,782.2 271.4,791.7 292.2,800.1 313.0,784.8M42.6,826.3 63.4,809.8 84.2,826.4 105.0,823.5 125.8,826.7 146.6,824.6 167.4,829.1 188.2,818.3 209.0,832.6 229.8,815.8 250.6,820.0 271.4,829.5 292.2,829.7 313.0,807.9M42.6,817.2 63.4,802.3 84.2,805.6 105.0,803.8 125.8,789.2 146.6,790.2 167.4,787.6 188.2,803.6 209.0,791.7 229.8,803.4 250.6,779.5 313.0,793.2M42.6,837.2 63.4,838.1 84.2,828.0 105.0,830.4 125.8,827.6 146.6,826.1 188.2,834.2 209.0,826.6 229.8,829.8 271.4,829.9 313.0,833.7M42.6,804.6 63.4,814.2 84.2,802.0 105.0,818.3 125.8,817.4 146.6,794.7 167.4,804.5 188.2,805.6 250.6,795.9 292.2,740.4 313.0,794.4M42.6,789.8 63.4,814.7 84.2,800.1 105.0,806.4 125.8,788.4 146.6,804.8 188.2,787.9 209.0,782.8 250.6,777.1 271.4,795.4 292.2,823.4M42.6,807.6 63.4,831.7 84.2,824.4 105.0,807.3 125.8,821.5 146.6,817.9 167.4,800.0 188.2,818.2 209.0,826.9 229.8,807.9 250.6,820.7 271.4,817.0M42.6,818.5 63.4,828.8 84.2,830.1 105.0,803.3 125.8,814.7 146.6,813.1 188.2,802.6 209.0,819.8 271.4,801.0 292.2,811.7M42.6,818.1 63.4,831.6 84.2,836.4 105.0,822.8 125.8,815.5 146.6,831.8 167.4,826.0 188.2,835.0 250.6,789.3 292.2,803.5 313.0,805.4M42.6,808.1 63.4,819.5 84.2,819.6 105.0,817.9 146.6,816.4 167.4,806.5 188.2,815.0 229.8,833.2 250.6,795.5M42.6,783.4 63.4,798.5 84.2,799.6 105.0,805.6 125.8,786.5 146.6,795.8 167.4,806.8 188.2,806.9 209.0,784.0 229.8,819.8 250.6,796.6 271.4,812.8 292.2,780.6 313.0,802.3M42.6,796.3 63.4,800.8 84.2,797.5 105.0,788.5 125.8,794.5 146.6,799.6 167.4,795.4 188.2,800.4 209.0,793.0 250.6,805.3 271.4,803.9 292.2,810.3 313.0,810.2M42.6,824.7 63.4,815.1 84.2,818.7 105.0,833.7 125.8,821.4 146.6,833.1 167.4,801.1 209.0,819.5 250.6,804.3 271.4,820.8M42.6,826.2 63.4,833.7 84.2,823.2 105.0,837.9 125.8,815.9 146.6,829.8 167.4,831.5 209.0,827.8 229.8,829.3 271.4,825.0 292.2,824.0M42.6,826.9 63.4,810.6 105.0,814.2 125.8,801.4 146.6,825.8 188.2,820.5 209.0,796.1 250.6,801.3 292.2,794.5 313.0,785.2M42.6,831.8 63.4,833.0 84.2,827.4 105.0,827.6 146.6,823.4 167.4,825.1 188.2,816.8 209.0,805.4 229.8,837.6 250.6,830.8 271.4,827.0 292.2,828.1M42.6,826.5 63.4,812.6 84.2,823.8 146.6,824.8 167.4,832.5 209.0,794.8 229.8,820.3 250.6,821.7 271.4,831.9 313.0,811.0M42.6,824.8 63.4,831.5 84.2,829.5 105.0,818.3 125.8,826.4 167.4,826.3 188.2,826.9 229.8,833.3 250.6,809.0 271.4,807.7M42.6,797.8 63.4,816.2 84.2,823.8 105.0,796.9 125.8,823.3 146.6,792.3 167.4,809.6 188.2,814.0 209.0,792.2 292.2,796.4M42.6,810.4 63.4,804.0 84.2,804.1 105.0,809.7 146.6,824.6 188.2,809.6 209.0,821.1 250.6,811.4 271.4,795.0M42.6,824.3 63.4,809.2 105.0,813.7 125.8,801.5 146.6,798.9 188.2,809.3 229.8,817.6 250.6,813.8 271.4,789.6 292.2,803.1M42.6,814.7 63.4,820.5 84.2,808.4 105.0,822.3 188.2,794.8 209.0,816.1 229.8,815.4 271.4,820.3 292.2,805.1M42.6,831.0 63.4,825.2 84.2,829.9 105.0,818.8 125.8,826.2 146.6,807.3 167.4,828.9 188.2,818.6 209.0,820.7 229.8,809.0 271.4,798.2 292.2,821.1 313.0,810.7M42.6,806.7 63.4,812.2 84.2,805.7 105.0,817.9 125.8,806.6 146.6,820.4 167.4,807.8 188.2,800.3 292.2,811.2M42.6,790.6 63.4,803.0 84.2,806.4 105.0,792.5 125.8,788.2 146.6,809.4 167.4,791.3 229.8,810.4 250.6,817.3 271.4,816.9 313.0,814.0M42.6,825.5 63.4,812.6 105.0,807.1 125.8,809.3 146.6,822.6 167.4,798.1 188.2,802.8 209.0,817.6 229.8,833.6 250.6,806.1 292.2,819.7 313.0,819.8M42.6,796.4 63.4,809.2 84.2,812.1 105.0,813.0 125.8,806.3 146.6,824.6 188.2,816.6 209.0,792.6 229.8,810.4 250.6,807.5 271.4,800.5 313.0,789.7M42.6,800.5 63.4,822.5 84.2,771.9 105.0,821.0 125.8,820.6 146.6,814.6 167.4,827.0 188.2,827.8 209.0,812.1 229.8,824.1 250.6,808.6 271.4,794.2 313.0,805.5M42.6,802.3 63.4,812.7 84.2,810.4 105.0,806.9 125.8,800.8 146.6,808.6 167.4,811.6 188.2,793.4 209.0,758.1 229.8,795.7 250.6,803.7 271.4,818.6 313.0,788.2M42.6,796.0 63.4,827.1 84.2,824.1 105.0,798.5 125.8,793.5 250.6,783.9 271.4,831.7 292.2,802.2 313.0,801.4M42.6,819.1 63.4,813.7 84.2,805.0 105.0,801.3 125.8,801.9 146.6,799.5 167.4,793.8 188.2,802.4 209.0,793.3 229.8,797.4 313.0,799.5M42.6,815.6 63.4,805.6 84.2,804.0 105.0,817.3 125.8,789.4 146.6,801.0 167.4,810.7 188.2,776.7 229.8,777.0 250.6,790.0 271.4,812.9 313.0,810.6M42.6,783.6 84.2,796.9 105.0,791.5 125.8,781.1 146.6,807.1 188.2,802.6 209.0,786.6 229.8,805.2 250.6,771.9 271.4,800.4 313.0,790.3M42.6,834.8 63.4,828.5 105.0,803.1 125.8,809.9 146.6,811.4 167.4,802.4 188.2,803.6 209.0,806.2 250.6,808.0 313.0,815.8M42.6,824.5 63.4,825.1 84.2,809.1 105.0,816.1 125.8,828.4 188.2,802.2 209.0,815.0 229.8,821.3 250.6,813.2 292.2,793.9 313.0,816.4M42.6,830.8 63.4,831.7 84.2,831.4 105.0,821.0 125.8,776.7 146.6,829.7 188.2,830.0 229.8,827.9 250.6,828.5 271.4,820.4 292.2,805.3 313.0,827.3M42.6,792.3 63.4,810.1 105.0,810.9 125.8,794.0 146.6,813.1 167.4,788.6 188.2,800.6 229.8,810.0 250.6,804.4 271.4,793.8 292.2,816.5 313.0,817.6M42.6,809.6 63.4,808.3 84.2,823.8 105.0,830.3 125.8,824.0 146.6,832.6 167.4,813.5 209.0,766.4 250.6,818.4 271.4,826.8 313.0,804.5M42.6,829.1 63.4,810.3 84.2,827.6 105.0,822.8 125.8,825.1 146.6,809.9 167.4,826.6 188.2,822.4 250.6,796.5 271.4,831.1 292.2,821.5 313.0,817.3M42.6,802.0 63.4,801.7 84.2,804.2 105.0,804.2 125.8,803.7 146.6,792.5 167.4,811.1 188.2,805.9 209.0,783.5 229.8,793.1 250.6,806.3M42.6,827.1 63.4,801.0 84.2,814.7 105.0,802.5 125.8,783.8 146.6,808.4 167.4,789.7 188.2,800.0M42.6,795.9 63.4,815.1 84.2,812.0 105.0,794.8 125.8,810.3 146.6,808.2 167.4,818.1 188.2,815.4 209.0,787.3 229.8,820.4 250.6,789.9 271.4,790.1 292.2,820.7M42.6,838.2 63.4,840.2 84.2,835.6 105.0,839.8 125.8,835.1 146.6,835.4 167.4,838.0 188.2,836.9 313.0,832.1M42.6,812.3 63.4,828.9 84.2,833.5 105.0,827.6 146.6,819.4 188.2,817.3 209.0,832.0 229.8,826.4 250.6,818.1M42.6,840.3 63.4,832.7 84.2,829.4 105.0,825.9 125.8,820.9 146.6,827.4 167.4,813.4 188.2,823.7 209.0,825.5 250.6,808.6 292.2,807.2M42.6,826.6 63.4,825.0 84.2,825.3 105.0,824.3 146.6,812.8 188.2,826.5 209.0,819.3 250.6,826.6 271.4,821.1 313.0,820.5M42.6,823.8 63.4,822.4 84.2,813.1 105.0,833.8 125.8,816.6 146.6,827.8 167.4,827.1 209.0,819.5 229.8,821.8 250.6,810.9 271.4,830.5 313.0,810.1M42.6,818.8 63.4,805.0 84.2,805.5 105.0,789.8 125.8,790.3 146.6,786.9 167.4,788.4 188.2,799.6 209.0,784.1 229.8,795.0 250.6,779.4M42.6,826.0 63.4,818.7 84.2,812.4 105.0,805.1 125.8,820.3 146.6,754.8 167.4,836.5 188.2,823.3 209.0,822.6 250.6,791.2 271.4,794.7 292.2,814.5M42.6,825.1 63.4,802.2 84.2,827.1 105.0,832.3 125.8,812.1 146.6,820.8 167.4,828.9 188.2,814.5 229.8,827.8 250.6,799.9 292.2,809.7 313.0,807.7M42.6,794.8 63.4,819.9 84.2,808.5 105.0,801.1 125.8,804.5 146.6,813.3 167.4,783.4 188.2,804.9 229.8,824.8 250.6,789.0 313.0,812.2M42.6,810.9 63.4,808.5 84.2,821.4 105.0,819.2 125.8,806.8 146.6,829.2 167.4,796.7 188.2,807.7 209.0,808.1 229.8,800.6 271.4,816.6 292.2,791.2 313.0,820.2M42.6,818.6 63.4,812.7 84.2,808.7 125.8,818.1 146.6,818.4 167.4,804.3 188.2,801.1 229.8,813.5 250.6,824.2 292.2,814.5 313.0,819.4M42.6,818.9 63.4,827.2 84.2,829.4 105.0,820.8 125.8,807.3 146.6,818.4 167.4,829.0 188.2,804.2 209.0,824.5 229.8,818.7 250.6,811.6 271.4,810.5 292.2,814.0M42.6,815.6 63.4,825.9 84.2,814.7 105.0,815.8 125.8,775.0 146.6,822.8 167.4,825.2 188.2,822.4 229.8,814.4 271.4,820.8 292.2,796.7M42.6,815.7 63.4,814.4 84.2,808.8 105.0,829.1 125.8,811.7 146.6,825.6 167.4,796.6 250.6,816.4 271.4,797.4M42.6,839.5 63.4,834.5 84.2,829.7 105.0,836.4 146.6,834.0 188.2,836.0 209.0,826.0 229.8,832.5 250.6,822.3 271.4,832.4 292.2,834.8M42.6,832.4 63.4,829.1 84.2,835.7 105.0,826.2 125.8,832.5 146.6,831.5 167.4,834.1 188.2,833.2 209.0,829.3 229.8,822.6 271.4,821.2 292.2,825.9M42.6,796.6 63.4,802.1 84.2,799.1 105.0,806.4 146.6,811.1 167.4,793.0 188.2,795.8 209.0,784.4 250.6,798.1 271.4,806.9M42.6,784.2 63.4,807.3 84.2,807.4 105.0,811.5 125.8,795.4 167.4,772.3 188.2,808.7 209.0,791.8 250.6,813.6 292.2,798.2 313.0,800.9M42.6,826.0 63.4,829.8 84.2,809.6 105.0,824.6 146.6,816.8 167.4,825.6 188.2,798.0 209.0,803.7 229.8,816.9 313.0,826.5M42.6,810.0 63.4,827.3 84.2,829.7 105.0,830.2 125.8,816.6 146.6,824.7 167.4,828.4 209.0,820.3M42.6,812.8 63.4,825.3 84.2,824.1 105.0,809.0 125.8,808.0 146.6,807.3 167.4,793.5 188.2,830.3 209.0,798.1 229.8,807.1 250.6,806.6 292.2,811.1 313.0,822.1M42.6,817.6 63.4,836.1 105.0,833.9 125.8,826.8 146.6,817.6 188.2,832.0 229.8,831.2 250.6,813.9 313.0,827.0M42.6,828.3 63.4,815.0 84.2,823.6 105.0,829.4 125.8,815.7 167.4,806.8 188.2,797.1 209.0,829.4 250.6,799.0 292.2,808.8 313.0,826.4M42.6,800.4 84.2,800.9 105.0,790.0 125.8,784.3 146.6,801.7 188.2,802.4 229.8,802.2 292.2,790.7 313.0,782.2M42.6,816.0 63.4,828.0 105.0,802.1 146.6,828.8 167.4,820.1 188.2,812.8 209.0,797.4 229.8,826.5M42.6,788.4 63.4,806.0 84.2,823.0 105.0,792.6 125.8,813.7 146.6,791.0 188.2,807.6 209.0,797.3 229.8,795.5 250.6,796.3 292.2,801.8M42.6,815.4 63.4,834.8 84.2,830.6 105.0,808.5 125.8,815.5 146.6,813.9 167.4,817.2 209.0,823.7 250.6,812.3 271.4,829.9 292.2,822.4 313.0,832.8M42.6,799.7 63.4,815.9 84.2,818.5 105.0,816.7 125.8,812.4 146.6,799.4 167.4,808.6 188.2,797.7 209.0,823.0 229.8,820.8 250.6,807.0M42.6,791.2 63.4,801.3 84.2,798.9 105.0,812.0 125.8,797.7 146.6,805.2 167.4,790.1 188.2,808.7 209.0,788.9 250.6,785.8 292.2,798.2M42.6,821.2 63.4,834.2 84.2,831.7 125.8,826.2 146.6,828.4 167.4,832.3 188.2,835.4 209.0,830.2 229.8,825.6 250.6,825.5 292.2,815.9 313.0,819.2M42.6,816.9 63.4,821.1 84.2,828.4 105.0,819.4 125.8,825.1 146.6,826.3 229.8,820.0 271.4,812.1 292.2,815.4M42.6,822.4 63.4,802.6 84.2,820.4 105.0,831.4 125.8,810.7 146.6,825.1 167.4,820.7 188.2,821.9 209.0,821.1 229.8,818.9 271.4,763.8 313.0,793.8M42.6,803.8 63.4,804.0 84.2,813.5 105.0,814.1 146.6,825.2 167.4,817.2 188.2,805.7 209.0,822.0 229.8,806.8 271.4,796.9 292.2,814.9 313.0,785.2M42.6,791.4 63.4,797.3 84.2,787.2 105.0,789.8 125.8,791.0 146.6,797.3 167.4,789.5 188.2,794.5 229.8,799.3 250.6,789.2 271.4,793.7M42.6,786.2 63.4,806.7 84.2,799.0 105.0,812.9 125.8,811.6 146.6,800.8 167.4,799.8 188.2,793.9 209.0,809.3 229.8,824.3 271.4,786.9 292.2,801.0 313.0,790.4M42.6,833.5 63.4,835.5 84.2,830.1 105.0,813.2 125.8,831.9 146.6,824.9 188.2,830.3 250.6,818.3 271.4,829.3 313.0,832.2M42.6,816.8 63.4,823.6 84.2,830.9 105.0,810.1 125.8,820.0 146.6,815.7 209.0,811.0 292.2,804.3M42.6,829.0 63.4,830.4 84.2,827.7 105.0,833.8 125.8,807.6 146.6,827.4 167.4,834.6 209.0,816.9 229.8,828.0 271.4,823.4M42.6,813.8 63.4,828.5 84.2,828.7 105.0,833.5 125.8,832.2 146.6,805.3 167.4,831.5 188.2,814.7 209.0,822.1 229.8,836.1 250.6,809.4 271.4,793.3 292.2,819.1 313.0,812.3M42.6,781.3 63.4,798.6 84.2,793.6 125.8,785.6 146.6,783.0 167.4,779.7 188.2,801.2 209.0,778.5 229.8,822.7 250.6,771.5 271.4,791.0M42.6,821.7 63.4,834.5 84.2,809.7 105.0,820.9 146.6,817.7 188.2,827.9 229.8,826.7 250.6,830.3 271.4,836.7 292.2,815.6 313.0,825.4M42.6,824.8 63.4,803.1 84.2,815.2 125.8,839.8 146.6,810.0 167.4,812.4 188.2,832.4 229.8,817.8 250.6,796.4 292.2,796.7M42.6,835.8 63.4,833.5 84.2,835.3 105.0,828.3 125.8,824.1 167.4,816.3 209.0,830.0 292.2,830.0 313.0,812.6M42.6,798.4 63.4,806.9 84.2,808.6 105.0,801.2 125.8,799.4 167.4,791.1 188.2,815.5 209.0,789.8 313.0,804.0M42.6,800.3 63.4,806.5 84.2,827.5 105.0,801.2 125.8,805.4 146.6,822.9 229.8,804.0 271.4,794.2 292.2,806.6 313.0,797.8M42.6,795.0 63.4,818.4 84.2,808.1 105.0,807.1 125.8,792.6 146.6,806.3 167.4,794.7 188.2,796.9 209.0,817.6 229.8,802.7 292.2,807.7 313.0,815.8M42.6,832.8 63.4,826.0 84.2,808.0 105.0,830.1 125.8,815.3 146.6,813.9 167.4,822.0 188.2,804.2 271.4,810.5M42.6,799.5 63.4,806.8 84.2,801.9 105.0,811.1 125.8,797.7 146.6,791.0 167.4,799.6 188.2,815.1 229.8,812.3 250.6,778.3 292.2,789.3 313.0,786.2M42.6,837.8 63.4,812.3 84.2,834.6 105.0,832.4 125.8,828.1 167.4,823.6 188.2,807.0 209.0,824.7 229.8,830.7M42.6,832.5 63.4,821.9 84.2,826.2 105.0,835.2 125.8,818.7 167.4,835.8 188.2,809.7 209.0,801.7 250.6,811.0 271.4,806.2 292.2,807.2M42.6,830.5 63.4,832.1 84.2,818.6 105.0,820.1 167.4,831.3 188.2,824.6 209.0,827.1 229.8,815.9 250.6,825.0 313.0,834.6M42.6,786.2 63.4,800.9 84.2,811.4 105.0,803.6 146.6,801.0 188.2,798.6 209.0,841.6 250.6,796.1 271.4,780.5 292.2,809.3 313.0,798.3M42.6,824.1 63.4,824.3 84.2,775.5 105.0,824.8 125.8,813.1 167.4,819.6 188.2,818.7 209.0,815.4 271.4,826.8 292.2,800.4M42.6,833.4 63.4,838.0 105.0,832.7 125.8,819.8 146.6,827.1 188.2,825.6 209.0,828.9 250.6,817.3 313.0,829.6M42.6,823.6 63.4,821.9 84.2,817.4 105.0,816.9 125.8,825.2 146.6,827.9 188.2,812.4 209.0,824.7 229.8,818.2 250.6,816.4 271.4,804.5 292.2,828.5M42.6,777.6 63.4,792.7 84.2,793.1 105.0,783.3 125.8,793.4 146.6,797.9 167.4,790.2 188.2,789.3 209.0,783.4 250.6,773.2 313.0,777.9M42.6,788.7 63.4,810.3 84.2,815.3 105.0,808.7 125.8,803.2 146.6,819.9 167.4,815.5 188.2,805.0 209.0,824.9 229.8,811.0 250.6,779.5 292.2,828.6M42.6,820.0 63.4,810.7 84.2,805.8 105.0,791.4 125.8,808.3 146.6,813.4 167.4,806.2 188.2,806.7 209.0,795.1 229.8,799.6 250.6,814.2 271.4,786.0 292.2,790.2 313.0,806.7M42.6,810.6 63.4,826.6 125.8,806.0 146.6,823.2 250.6,796.2 271.4,790.0 292.2,809.7M42.6,819.4 63.4,808.9 84.2,818.1 105.0,797.4 125.8,816.1 146.6,813.9 167.4,805.4 188.2,815.5 209.0,796.6 250.6,807.4 271.4,826.5M42.6,810.3 63.4,827.8 84.2,822.2 105.0,797.3 146.6,830.0 167.4,831.5 188.2,819.0 209.0,813.8 229.8,831.3 250.6,824.3 271.4,821.6 313.0,822.7M42.6,813.9 63.4,816.6 84.2,829.1 105.0,824.1 125.8,818.1 146.6,805.5 167.4,808.3 188.2,813.8 209.0,815.3 229.8,759.4 250.6,808.7 271.4,812.2 313.0,829.6M42.6,800.9 63.4,785.8 84.2,819.4 105.0,822.7 125.8,818.4 146.6,797.7 167.4,818.0 188.2,818.4 250.6,819.9 271.4,800.3 313.0,801.8M42.6,840.3 63.4,835.6 84.2,834.5 125.8,821.7 167.4,830.4 188.2,836.6 229.8,834.2 250.6,831.9 271.4,831.9 313.0,824.6M42.6,782.3 63.4,796.0 105.0,780.8 125.8,800.9 146.6,779.7 167.4,790.1 188.2,796.4 209.0,790.9 250.6,774.9 313.0,778.3M42.6,806.0 63.4,815.0 84.2,803.8 105.0,805.0 125.8,807.4 146.6,815.5 167.4,793.7 188.2,819.8 209.0,811.1 229.8,809.1 250.6,778.0 292.2,794.6 313.0,799.9M42.6,824.8 63.4,822.1 84.2,824.9 105.0,821.4 125.8,805.9 146.6,828.8 167.4,819.6 250.6,807.1 271.4,801.2 292.2,808.5M42.6,819.0 63.4,821.5 84.2,829.2 105.0,795.3 125.8,820.4 167.4,805.8 188.2,809.6 209.0,799.5 229.8,815.1 292.2,823.8M42.6,834.5 63.4,830.8 84.2,823.4 105.0,828.5 125.8,832.8 167.4,823.5 209.0,817.4 229.8,826.6 250.6,822.4 271.4,815.2 313.0,833.0M42.6,781.4 63.4,806.1 84.2,807.9 105.0,829.2 146.6,800.8 167.4,804.4 209.0,790.1 229.8,811.7 250.6,801.3 271.4,793.6 292.2,784.1 313.0,786.4M42.6,811.9 63.4,834.8 84.2,818.4 105.0,811.2 125.8,813.9 146.6,807.7 188.2,820.9 229.8,819.2 271.4,828.5M42.6,819.2 63.4,823.3 84.2,817.0 125.8,815.7 146.6,800.2 167.4,767.7 209.0,818.3 229.8,809.6 250.6,799.6 271.4,817.0 292.2,798.4 313.0,796.2M42.6,835.4 63.4,832.6 84.2,835.6 105.0,814.6 146.6,821.9 167.4,822.1 188.2,832.1 209.0,827.5 229.8,817.2 313.0,822.2M42.6,789.5 63.4,821.6 84.2,810.5 105.0,791.7 125.8,815.4 146.6,811.9 167.4,820.4 209.0,795.4 271.4,807.3 292.2,813.9M42.6,791.6 63.4,803.1 84.2,797.6 105.0,778.5 146.6,791.3 167.4,800.6 188.2,801.9 209.0,779.3 271.4,789.6 292.2,782.8 313.0,785.2M42.6,810.1 63.4,831.2 84.2,814.8 105.0,823.8 125.8,818.3 146.6,815.8 167.4,813.5 188.2,825.3 209.0,800.1 229.8,832.7 313.0,803.6M42.6,795.7 84.2,799.3 105.0,814.5 146.6,804.8 167.4,803.4 188.2,799.4 209.0,794.9 229.8,798.5 250.6,803.1 292.2,810.2 313.0,791.7M42.6,800.5 63.4,804.9 84.2,806.8 105.0,828.0 125.8,809.6 167.4,807.3 188.2,817.2 209.0,812.2 313.0,808.5M42.6,791.4 63.4,816.5 84.2,797.4 105.0,786.0 125.8,791.9 146.6,804.5 188.2,794.7 209.0,800.1 271.4,795.0M42.6,801.0 63.4,799.5 84.2,814.0 105.0,804.8 125.8,806.5 167.4,821.9 188.2,805.5 229.8,823.9 271.4,799.4 292.2,797.3 313.0,795.1M42.6,820.2 63.4,830.5 84.2,832.1 105.0,829.4 125.8,797.9 146.6,820.8 167.4,822.1 188.2,808.9 209.0,808.0 229.8,822.6 250.6,810.5 313.0,793.3M42.6,836.2 63.4,824.4 84.2,827.8 105.0,835.7 125.8,819.4 146.6,811.7 188.2,818.5 209.0,811.0 271.4,827.6 292.2,807.5M42.6,810.5 63.4,832.2 105.0,809.2 125.8,804.2 146.6,809.5 188.2,822.8 209.0,789.4 229.8,804.9 250.6,846.3 271.4,813.9M42.6,811.9 63.4,814.8 84.2,827.6 146.6,812.7 167.4,808.8 188.2,807.8 209.0,794.1 229.8,808.0 250.6,777.1 271.4,802.6M42.6,826.4 63.4,825.9 84.2,818.2 105.0,819.2 146.6,826.3 167.4,816.4 188.2,808.8 209.0,827.3 250.6,829.5 271.4,810.2 292.2,825.1 313.0,825.0M42.6,809.2 63.4,813.4 84.2,826.1 105.0,817.7 125.8,805.7 146.6,826.1 250.6,806.2 292.2,807.8 313.0,760.7M42.6,822.0 63.4,804.4 84.2,804.2 105.0,816.7 125.8,827.2 146.6,813.8 167.4,806.5 188.2,809.9 209.0,813.3 229.8,805.2 250.6,793.9 271.4,805.5 313.0,804.7M42.6,801.1 63.4,824.0 84.2,817.2 105.0,821.0 125.8,828.9 146.6,836.4 167.4,826.0 188.2,818.4 209.0,831.1 229.8,822.6 271.4,828.9 292.2,825.4 313.0,831.3M42.6,821.5 63.4,821.2 84.2,796.3 105.0,818.1 146.6,816.8 229.8,824.9 250.6,820.3 292.2,758.1 313.0,758.5M42.6,786.6 63.4,797.8 84.2,788.8 105.0,781.4 125.8,791.1 146.6,791.6 167.4,783.2 209.0,775.9 229.8,792.2 271.4,775.5 292.2,781.7 313.0,774.2M42.6,809.3 63.4,810.3 84.2,793.3 105.0,804.8 125.8,802.8 167.4,810.2 209.0,803.7 229.8,809.3 250.6,796.0 292.2,787.5M42.6,814.8 63.4,824.7 84.2,821.9 105.0,816.3 125.8,825.5 146.6,819.9 167.4,806.3 188.2,816.7 209.0,811.7 229.8,791.5 250.6,789.5 271.4,804.6 313.0,798.2M42.6,779.2 63.4,798.4 84.2,797.1 105.0,784.0 125.8,791.6 167.4,786.7 209.0,775.5 250.6,767.5 271.4,779.7 292.2,776.7 313.0,779.1M42.6,838.4 63.4,811.4 84.2,813.4 105.0,823.5 146.6,824.8 167.4,820.3 188.2,825.6 229.8,805.9 271.4,832.2 292.2,811.0 313.0,812.6M42.6,836.5 63.4,834.8 84.2,838.3 105.0,836.1 146.6,838.0 167.4,835.5 188.2,834.5 209.0,825.1 229.8,829.1 250.6,829.2 292.2,832.1M42.6,838.3 63.4,834.3 84.2,827.1 105.0,831.4 125.8,833.0 146.6,837.6 167.4,827.2 188.2,835.0 209.0,830.2 229.8,831.6 250.6,816.7 292.2,829.5 313.0,826.5M42.6,833.8 63.4,829.6 84.2,832.6 105.0,834.1 125.8,831.0 146.6,838.8 167.4,830.7 188.2,822.1 209.0,832.1 229.8,825.0 250.6,819.5 271.4,830.5 292.2,809.0M42.6,798.2 63.4,828.9 84.2,830.0 105.0,812.3 125.8,825.1 146.6,818.1 167.4,798.3 188.2,804.1 209.0,805.9 229.8,809.5 250.6,805.0 271.4,816.8M42.6,791.7 63.4,808.1 105.0,800.3 146.6,822.9 188.2,819.2 229.8,800.1M42.6,839.5 63.4,839.7 84.2,837.2 105.0,832.0 125.8,832.3 146.6,828.6 167.4,831.2 188.2,837.3 229.8,835.5 271.4,836.3 292.2,827.1 313.0,834.0M42.6,798.9 63.4,813.5 105.0,797.2 125.8,794.4 146.6,813.9 167.4,815.7 188.2,785.7 209.0,807.5 229.8,821.2 271.4,803.6 292.2,801.7M42.6,809.7 63.4,829.0 84.2,835.6 105.0,826.8 146.6,832.2 167.4,827.1 188.2,829.0 209.0,822.3 250.6,824.9M42.6,794.5 63.4,813.6 84.2,822.0 105.0,805.9 125.8,813.7 146.6,811.7 167.4,815.8 188.2,826.0 209.0,797.5 229.8,797.8 313.0,803.9M42.6,797.1 63.4,808.5 84.2,810.1 105.0,811.6 125.8,817.4 146.6,810.3 167.4,812.7 188.2,817.2 209.0,812.1 271.4,803.3 313.0,812.7M42.6,807.6 63.4,813.7 84.2,812.3 105.0,804.7 125.8,820.0 146.6,797.3 167.4,819.0 188.2,813.2 209.0,792.3 229.8,800.9 292.2,815.8 313.0,790.4M42.6,802.4 63.4,819.4 84.2,829.6 105.0,822.0 125.8,817.6 146.6,815.4 167.4,814.1 188.2,798.1 209.0,791.7 229.8,819.5 250.6,808.5 271.4,793.9M42.6,806.8 63.4,818.1 84.2,814.4 105.0,829.5 125.8,811.8 146.6,817.6 167.4,806.0 188.2,807.2 209.0,795.3 250.6,801.8 271.4,804.0M42.6,833.1 63.4,819.9 84.2,827.2 125.8,814.3 146.6,828.5 188.2,825.9 209.0,828.5 250.6,804.8 271.4,825.2 292.2,823.4M42.6,821.7 63.4,805.5 84.2,809.9 105.0,829.5 146.6,795.6 167.4,811.7 188.2,819.8 209.0,807.3 229.8,822.3 313.0,813.0M42.6,794.0 63.4,822.2 84.2,820.9 105.0,803.0 125.8,798.3 167.4,799.6 188.2,795.8 209.0,795.3 250.6,782.6 271.4,789.8 292.2,800.8M42.6,796.2 63.4,808.6 84.2,812.4 105.0,788.4 125.8,813.2 146.6,822.8 167.4,762.1 188.2,819.9 209.0,799.1 250.6,787.5 271.4,788.9 313.0,792.6M42.6,774.9 63.4,790.2 84.2,793.3 105.0,782.2 125.8,790.9 167.4,784.5 188.2,781.1 209.0,772.2 271.4,794.0 313.0,790.6M42.6,803.9 63.4,810.4 84.2,798.9 105.0,811.1 125.8,794.7 146.6,810.3 167.4,811.3 209.0,792.3 250.6,789.5 271.4,789.6 313.0,800.8M42.6,788.6 63.4,810.0 84.2,807.6 105.0,797.1 125.8,800.6 167.4,795.0 188.2,809.6 209.0,797.9 250.6,792.2 313.0,793.9M42.6,794.5 63.4,807.3 84.2,802.2 105.0,791.3 125.8,799.6 146.6,789.4 167.4,801.7 188.2,808.5 209.0,783.8 250.6,777.4 271.4,790.3 292.2,785.0M42.6,795.8 63.4,827.6 84.2,818.4 105.0,820.2 125.8,817.4 146.6,811.5 167.4,805.6 188.2,817.1 209.0,809.8 229.8,807.4 250.6,809.2 271.4,812.6 292.2,803.6M42.6,825.6 63.4,831.3 84.2,818.4 125.8,818.6 146.6,824.2 167.4,826.7 188.2,828.4 209.0,831.7 229.8,823.2 250.6,814.2 271.4,824.2 292.2,824.7 313.0,820.9M42.6,839.4 63.4,838.2 84.2,836.9 105.0,837.4 125.8,832.5 146.6,825.0 167.4,835.9 188.2,820.9 209.0,830.5 271.4,838.2 292.2,832.5M42.6,806.7 63.4,807.7 84.2,800.8 125.8,801.9 146.6,816.5 167.4,807.0 188.2,786.8 292.2,783.1M42.6,807.2 63.4,826.5 84.2,829.0 105.0,803.2 125.8,817.4 209.0,854.7 229.8,803.9 250.6,813.3 271.4,820.5 292.2,805.5 313.0,824.6M42.6,804.8 63.4,821.4 105.0,819.9 125.8,786.2 167.4,790.4 271.4,790.0 292.2,805.8M42.6,807.7 63.4,825.0 105.0,809.7 125.8,800.4 146.6,814.2 167.4,811.6 188.2,828.9 209.0,815.5 250.6,802.4 313.0,816.2M42.6,817.3 63.4,820.6 84.2,828.1 105.0,790.1 125.8,804.9 146.6,809.1 167.4,815.5 209.0,791.5 229.8,827.2 250.6,819.3 271.4,811.5 292.2,813.6 313.0,787.1M42.6,804.1 63.4,797.8 84.2,794.2 105.0,792.3 146.6,786.1 188.2,796.7 209.0,784.4 229.8,793.0 292.2,789.9 313.0,790.1M42.6,809.4 63.4,825.9 105.0,820.4 146.6,810.5 167.4,793.5 209.0,817.5 250.6,774.3 271.4,814.3 292.2,810.1 313.0,822.7M42.6,807.4 63.4,826.1 84.2,822.1 105.0,830.7 125.8,827.4 146.6,823.7 167.4,805.7 209.0,806.2 229.8,834.1 250.6,821.0 292.2,817.6 313.0,822.0M42.6,800.8 63.4,820.2 84.2,821.3 105.0,806.8 125.8,813.7 146.6,831.9 167.4,832.0 188.2,823.8 209.0,801.0 229.8,821.7M42.6,801.2 63.4,804.9 84.2,796.2 105.0,801.3 125.8,787.9 146.6,795.3 167.4,790.8 188.2,806.9 209.0,789.8 229.8,813.3 250.6,841.0 271.4,797.7 292.2,842.9M42.6,830.7 63.4,826.4 84.2,832.3 105.0,823.3 125.8,830.8 146.6,834.1 167.4,819.1 209.0,831.7 229.8,829.2 250.6,823.2M42.6,837.9 63.4,838.5 84.2,836.6 105.0,823.6 125.8,828.5 146.6,834.3 167.4,837.0 209.0,834.7 229.8,831.4 250.6,830.3 292.2,833.7M42.6,839.8 63.4,781.1 84.2,836.1 125.8,826.7 188.2,836.5 209.0,826.0 229.8,836.0 250.6,832.4 313.0,835.8M42.6,832.7 63.4,833.0 84.2,829.5 105.0,829.0 125.8,814.9 146.6,829.6 167.4,817.8 188.2,822.7 209.0,825.1 271.4,825.4 292.2,831.6 313.0,828.6M42.6,805.6 63.4,823.3 105.0,809.9 125.8,799.4 146.6,799.7 167.4,808.4 209.0,801.0 229.8,804.1M42.6,824.7 63.4,820.2 84.2,803.8 105.0,817.2 146.6,805.4 167.4,827.5 188.2,832.4 229.8,819.5 271.4,786.0M42.6,830.2 63.4,822.0 84.2,826.1 105.0,822.8 146.6,809.7 167.4,830.7 209.0,823.5 229.8,826.1 271.4,817.9 292.2,816.7M42.6,833.9 63.4,838.4 84.2,834.7 105.0,833.8 125.8,770.1 146.6,822.3 167.4,822.2 188.2,831.1 209.0,827.6 250.6,822.1 271.4,831.5 292.2,813.0M42.6,813.0 63.4,816.0 84.2,820.5 105.0,810.9 125.8,804.6 146.6,802.8 188.2,806.0 209.0,796.2 229.8,814.3 292.2,816.7M42.6,828.8 63.4,827.7 105.0,814.6 125.8,809.8 146.6,821.6 167.4,806.2 188.2,815.9 209.0,804.6 229.8,822.2 250.6,797.0 292.2,826.1 313.0,832.7M42.6,820.9 63.4,829.3 84.2,822.9 105.0,809.2 125.8,817.1 146.6,822.0 167.4,827.8 188.2,821.3 209.0,807.5 229.8,823.4 250.6,806.3 271.4,823.1 313.0,811.0M42.6,827.9 63.4,822.8 105.0,810.1 125.8,825.9 146.6,829.8 167.4,803.7 188.2,808.2 209.0,804.9 229.8,811.6 250.6,798.4 271.4,805.2 292.2,813.0 313.0,826.3M42.6,831.7 63.4,826.7 84.2,827.8 105.0,820.2 125.8,822.8 146.6,800.9 209.0,807.0 250.6,826.1 271.4,826.3M42.6,801.1 84.2,804.2 105.0,782.9 146.6,803.3 167.4,786.0 188.2,788.9 271.4,779.9 292.2,796.3 313.0,797.7M42.6,800.7 63.4,838.1 84.2,833.7 105.0,836.8 125.8,832.8 146.6,831.2 167.4,830.6 188.2,818.2 209.0,833.9 250.6,832.9 313.0,832.3M42.6,797.4 63.4,804.7 84.2,804.3 105.0,805.7 125.8,808.4 146.6,810.9 167.4,794.5 188.2,810.1 229.8,810.2 271.4,813.2 292.2,816.8 313.0,813.6M42.6,812.9 63.4,830.3 84.2,832.9 105.0,831.3 125.8,827.2 167.4,816.6 209.0,803.7 229.8,836.1 250.6,823.8 271.4,824.3 313.0,826.1M42.6,794.5 63.4,808.9 84.2,823.5 105.0,791.0 167.4,793.9 188.2,805.4 209.0,796.3 250.6,800.4 271.4,783.2 292.2,802.5 313.0,811.2M42.6,820.2 63.4,817.5 84.2,825.2 105.0,824.5 125.8,815.7 146.6,817.6 167.4,815.6 188.2,823.9 229.8,805.8 250.6,788.7 292.2,799.3 313.0,806.5M42.6,807.9 63.4,822.8 84.2,813.8 105.0,798.8 125.8,800.2 146.6,808.5 167.4,812.6 188.2,812.7 209.0,806.4 250.6,790.8 271.4,810.6 292.2,801.2 313.0,819.6M42.6,802.8 63.4,824.8 84.2,820.6 105.0,814.9 125.8,810.1 146.6,850.0 167.4,806.6 188.2,792.3 209.0,816.0 229.8,813.2 250.6,802.2M42.6,805.7 63.4,817.6 84.2,813.5 105.0,808.9 146.6,815.1 167.4,792.5 188.2,820.9 229.8,810.0 250.6,806.1 271.4,806.2 292.2,821.9 313.0,795.3M42.6,793.1 63.4,804.2 84.2,814.0 105.0,812.3 146.6,799.0 167.4,806.9 188.2,814.0 209.0,799.9 229.8,819.7 292.2,786.0M42.6,816.3 63.4,827.7 84.2,824.3 125.8,830.6 146.6,834.4 167.4,829.1 209.0,829.3 229.8,825.1 250.6,815.5 292.2,820.6 313.0,806.2M42.6,832.1 63.4,813.5 84.2,817.5 105.0,811.5 125.8,801.7 146.6,791.2 167.4,806.2 188.2,806.0 209.0,803.2 229.8,802.5 250.6,770.7 271.4,820.2 292.2,786.6M42.6,823.5 63.4,807.4 84.2,827.0 125.8,814.6 146.6,823.2 167.4,809.4 188.2,818.1 229.8,810.4 250.6,822.5 271.4,813.1 313.0,798.7M42.6,800.4 63.4,817.6 84.2,812.3 105.0,803.0 125.8,815.6 146.6,782.8 188.2,815.3 209.0,796.7 229.8,813.0 250.6,784.5 271.4,791.0 292.2,784.8 313.0,787.0M42.6,795.9 63.4,809.5 84.2,796.0 105.0,788.1 125.8,794.3 146.6,797.6 167.4,783.0 188.2,793.5 229.8,794.4 250.6,775.0 271.4,781.5 292.2,800.9 313.0,791.7M42.6,799.5 63.4,799.6 84.2,797.8 105.0,795.0 125.8,805.9 146.6,806.3 167.4,784.4 188.2,788.9 209.0,802.8 271.4,804.2 292.2,807.8M42.6,778.9 63.4,794.3 84.2,801.8 105.0,791.1 125.8,787.6 167.4,784.3 209.0,798.7 229.8,785.6 271.4,786.5 292.2,793.3 313.0,778.1M42.6,836.7 63.4,839.1 84.2,843.4 105.0,832.2 125.8,834.3 167.4,829.7 188.2,834.8 209.0,827.7 229.8,832.4 250.6,827.5 271.4,829.5 292.2,832.6 313.0,829.1M42.6,806.7 63.4,823.2 84.2,822.8 125.8,813.0 146.6,814.9 167.4,825.8 188.2,827.1 209.0,820.3 229.8,834.7M42.6,800.5 63.4,820.8 84.2,795.9 105.0,804.7 125.8,798.8 146.6,790.8 167.4,816.8 209.0,788.2 250.6,799.2 292.2,821.4M42.6,826.7 63.4,830.5 84.2,833.3 105.0,832.4 125.8,827.1 146.6,831.2 209.0,819.0 229.8,823.4 250.6,805.2 271.4,820.9 292.2,818.4 313.0,825.3M42.6,828.0 63.4,802.4 84.2,829.0 105.0,809.8 125.8,823.9 167.4,815.5 188.2,806.4 209.0,802.3 250.6,803.1 271.4,829.8 313.0,799.6M42.6,812.9 63.4,795.0 84.2,796.1 105.0,781.3 125.8,789.8 167.4,803.5 188.2,790.1 229.8,790.5 250.6,786.2 271.4,783.9 313.0,787.2M42.6,806.2 63.4,804.2 84.2,809.8 125.8,808.0 146.6,797.8 167.4,800.2 188.2,798.5 209.0,812.4 229.8,810.5 250.6,803.3 313.0,781.9M42.6,826.4 63.4,824.2 84.2,815.8 105.0,828.0 146.6,815.9 188.2,820.2 229.8,824.2 250.6,819.0 271.4,824.8M42.6,811.6 63.4,821.9 84.2,812.0 125.8,791.4 188.2,814.4 229.8,813.5 250.6,798.4 292.2,808.8M42.6,820.6 63.4,809.4 84.2,807.1 105.0,812.6 125.8,803.1 146.6,806.8 167.4,796.5 209.0,815.0 250.6,787.0 292.2,809.9M42.6,805.2 84.2,823.5 125.8,809.3 146.6,812.5 167.4,808.3 188.2,807.5 209.0,812.4 229.8,817.2 250.6,786.8 271.4,811.8 292.2,816.4 313.0,791.3M42.6,814.8 63.4,828.8 84.2,815.9 105.0,824.4 125.8,808.3 146.6,808.0 167.4,820.2 250.6,806.4 292.2,826.9M42.6,812.0 63.4,816.0 84.2,804.7 105.0,800.0 125.8,815.7 146.6,798.9 167.4,810.6 188.2,809.2 209.0,819.5 229.8,818.3 271.4,794.9 313.0,827.6M42.6,836.9 63.4,829.7 84.2,832.4 105.0,819.5 125.8,811.3 146.6,830.2 167.4,824.0 188.2,828.6 250.6,820.5 271.4,827.7 292.2,826.8 313.0,831.5M42.6,793.2 63.4,816.0 84.2,826.1 105.0,810.5 146.6,799.8 167.4,813.8 188.2,819.7 209.0,816.8 229.8,825.5 313.0,808.5M42.6,810.6 63.4,825.7 84.2,820.1 105.0,824.3 125.8,816.7 146.6,827.7 167.4,825.3 188.2,815.1 209.0,831.4 229.8,828.0 250.6,822.6 292.2,807.3 313.0,806.8M42.6,804.6 105.0,799.1 125.8,803.9 146.6,806.4 188.2,811.2 209.0,809.0 250.6,791.4 313.0,802.5M42.6,809.2 63.4,824.4 105.0,807.1 125.8,812.4 146.6,796.7 167.4,802.2 188.2,805.6 229.8,806.0M42.6,823.7 63.4,828.0 84.2,831.0 105.0,823.3 125.8,809.2 146.6,830.7 167.4,819.2 209.0,810.7 250.6,813.8 271.4,822.5 292.2,826.9 313.0,818.0M42.6,787.3 63.4,828.8 84.2,802.3 105.0,798.5 146.6,823.2 167.4,811.0 188.2,813.8 209.0,822.3 229.8,774.0 250.6,796.5 271.4,828.8 292.2,820.6M42.6,781.9 63.4,821.7 84.2,820.2 105.0,808.7 125.8,813.7 146.6,820.5 167.4,801.6 188.2,806.1 209.0,814.5 229.8,770.0 250.6,753.3 271.4,803.7 292.2,797.0 313.0,809.8M42.6,814.7 63.4,809.8 84.2,822.1 105.0,799.7 146.6,815.7 209.0,819.4 292.2,825.9 313.0,809.6M42.6,808.6 63.4,798.0 84.2,809.1 105.0,781.2 125.8,820.8 146.6,815.1 167.4,814.1 188.2,813.4 209.0,811.2 229.8,801.5 250.6,806.4M42.6,834.7 63.4,818.9 84.2,822.5 105.0,817.2 125.8,824.0 146.6,818.9 167.4,830.7 209.0,812.7 250.6,799.2 271.4,823.8 292.2,815.9 313.0,808.6M42.6,787.3 63.4,836.8 84.2,834.5 105.0,813.8 146.6,803.0 167.4,824.6 188.2,824.2 209.0,819.0 229.8,814.9 250.6,809.0 271.4,829.3 292.2,821.2M42.6,825.4 63.4,806.5 84.2,812.2 105.0,820.7 125.8,802.2 146.6,816.4 167.4,814.0 188.2,811.5 271.4,808.1 292.2,808.6M42.6,804.5 63.4,814.9 105.0,818.6 167.4,824.0 188.2,794.3 250.6,809.9 271.4,788.2 292.2,801.9 313.0,825.7M42.6,792.3 63.4,808.3 84.2,802.6 105.0,797.0 125.8,793.0 188.2,796.6 209.0,784.2 229.8,807.9 250.6,777.9 271.4,786.8 313.0,789.5M42.6,830.4 63.4,834.5 84.2,836.4 105.0,834.0 125.8,827.1 146.6,837.6 167.4,825.4 188.2,827.9 209.0,833.9 313.0,832.5M42.6,827.6 63.4,817.6 84.2,821.8 105.0,819.1 125.8,807.3 146.6,807.5 167.4,821.5 188.2,814.8 209.0,813.8 271.4,828.1 313.0,822.8M42.6,840.9 63.4,838.9 84.2,836.2 105.0,837.9 125.8,822.1 146.6,828.5 167.4,835.7 188.2,833.9 209.0,825.5 229.8,831.3 250.6,825.5 313.0,829.2M42.6,819.9 63.4,833.4 84.2,830.5 105.0,815.8 125.8,830.1 167.4,836.2 188.2,819.6 209.0,811.4 229.8,820.1 250.6,823.8 271.4,821.7 292.2,825.9 313.0,816.5M42.6,805.7 63.4,807.3 105.0,815.6 125.8,806.3 146.6,808.5 167.4,801.1 188.2,808.2 209.0,806.4 250.6,796.4 292.2,818.0 313.0,809.7M42.6,800.6 63.4,835.2 84.2,815.7 105.0,808.7 167.4,827.9 209.0,800.7 229.8,827.7 271.4,808.5 292.2,808.6 313.0,804.3M42.6,820.4 63.4,803.9 84.2,798.8 105.0,802.7 125.8,794.3 167.4,790.2 188.2,802.5 209.0,792.1 250.6,811.4 271.4,808.7 313.0,800.6" stroke="#bebebe" stroke-width="0.9" fill="none"/><path d="M42.6 786.7h0M63.4 804.0h0M84.2 795.8h0M105.0 787.7h0M125.8 792.5h0M146.6 797.0h0M167.4 799.2h0M188.2 789.1h0M209.0 784.5h0M229.8 793.9h0M250.6 787.4h0M271.4 785.3h0M313.0 786.1h0M42.6 841.9h0M63.4 839.4h0M84.2 834.9h0M125.8 833.8h0M146.6 836.9h0M167.4 836.7h0M188.2 835.7h0M209.0 835.8h0M229.8 836.3h0M250.6 832.1h0M271.4 835.6h0M292.2 832.3h0M313.0 833.9h0M42.6 814.0h0M63.4 821.1h0M84.2 793.9h0M105.0 790.9h0M125.8 820.1h0M167.4 794.5h0M188.2 804.1h0M209.0 781.9h0M229.8 797.2h0M250.6 789.5h0M271.4 805.7h0M292.2 795.3h0M42.6 795.3h0M63.4 820.2h0M84.2 803.8h0M105.0 791.2h0M125.8 798.9h0M146.6 826.7h0M188.2 803.2h0M209.0 802.8h0M229.8 805.3h0M250.6 789.2h0M292.2 820.0h0M42.6 782.6h0M63.4 799.7h0M84.2 792.7h0M125.8 804.5h0M146.6 802.3h0M167.4 785.6h0M188.2 803.3h0M209.0 792.1h0M229.8 806.1h0M250.6 798.3h0M271.4 782.2h0M292.2 802.5h0M313.0 805.4h0M42.6 807.8h0M63.4 815.5h0M84.2 804.9h0M105.0 772.2h0M125.8 803.4h0M146.6 815.0h0M188.2 768.7h0M209.0 809.9h0M229.8 764.7h0M250.6 799.7h0M292.2 807.6h0M313.0 811.7h0M42.6 806.5h0M63.4 812.3h0M84.2 794.7h0M105.0 800.7h0M125.8 788.3h0M146.6 791.3h0M167.4 789.3h0M188.2 796.8h0M209.0 782.5h0M229.8 793.7h0M250.6 771.6h0M271.4 784.2h0M313.0 791.0h0M42.6 789.8h0M63.4 816.0h0M84.2 806.4h0M125.8 816.4h0M146.6 827.2h0M167.4 825.4h0M209.0 816.7h0M250.6 818.1h0M292.2 799.4h0M42.6 837.6h0M63.4 817.5h0M84.2 822.2h0M105.0 832.6h0M125.8 827.5h0M146.6 811.3h0M167.4 803.5h0M188.2 804.2h0M229.8 826.7h0M250.6 806.6h0M271.4 829.6h0M292.2 805.1h0M313.0 827.9h0M42.6 802.6h0M63.4 808.3h0M84.2 818.4h0M105.0 798.4h0M125.8 799.2h0M146.6 788.6h0M167.4 798.3h0M188.2 796.0h0M209.0 804.9h0M250.6 802.2h0M292.2 801.2h0M313.0 804.8h0M42.6 809.1h0M63.4 807.7h0M84.2 812.4h0M105.0 813.0h0M125.8 815.5h0M146.6 810.3h0M167.4 794.8h0M188.2 817.9h0M209.0 789.4h0M250.6 790.6h0M313.0 829.6h0M42.6 817.3h0M63.4 834.4h0M84.2 831.7h0M105.0 824.9h0M125.8 816.4h0M188.2 825.6h0M209.0 815.8h0M229.8 809.3h0M313.0 820.5h0M42.6 830.2h0M105.0 815.2h0M125.8 810.0h0M146.6 835.1h0M167.4 801.1h0M209.0 810.3h0M229.8 826.3h0M292.2 822.4h0M42.6 809.2h0M63.4 806.4h0M84.2 793.7h0M105.0 818.5h0M125.8 807.5h0M146.6 816.5h0M167.4 798.9h0M188.2 806.2h0M209.0 809.6h0M250.6 784.4h0M271.4 795.3h0M292.2 805.6h0M313.0 812.2h0M42.6 792.6h0M63.4 815.1h0M84.2 804.1h0M105.0 823.6h0M125.8 819.4h0M146.6 797.5h0M188.2 800.2h0M250.6 791.5h0M271.4 792.8h0M42.6 826.9h0M63.4 825.2h0M84.2 823.4h0M105.0 825.1h0M125.8 822.9h0M188.2 823.1h0M250.6 790.2h0M271.4 802.9h0M292.2 818.3h0M313.0 824.8h0M42.6 832.9h0M63.4 829.4h0M84.2 825.5h0M105.0 806.2h0M125.8 811.1h0M146.6 811.1h0M167.4 829.7h0M188.2 827.0h0M209.0 819.6h0M250.6 831.5h0M271.4 818.9h0M42.6 835.4h0M63.4 827.6h0M84.2 837.4h0M105.0 836.8h0M125.8 832.0h0M146.6 822.3h0M250.6 829.7h0M271.4 824.9h0M292.2 828.4h0M42.6 790.7h0M63.4 804.2h0M84.2 803.0h0M125.8 787.7h0M167.4 786.7h0M209.0 788.0h0M271.4 789.6h0M292.2 786.7h0M313.0 791.8h0M42.6 819.9h0M63.4 829.3h0M84.2 825.5h0M105.0 832.9h0M125.8 826.6h0M167.4 823.6h0M188.2 809.6h0M209.0 822.4h0M229.8 811.9h0M250.6 807.2h0M271.4 767.6h0M292.2 826.0h0M42.6 805.0h0M63.4 803.7h0M84.2 802.0h0M105.0 797.7h0M125.8 805.0h0M146.6 801.2h0M167.4 792.9h0M188.2 806.4h0M209.0 794.9h0M229.8 791.0h0M250.6 773.8h0M271.4 794.3h0M42.6 802.5h0M63.4 813.9h0M84.2 811.2h0M105.0 803.4h0M125.8 822.7h0M146.6 807.0h0M167.4 819.6h0M229.8 808.6h0M250.6 786.5h0M292.2 795.3h0M313.0 803.8h0M42.6 789.7h0M63.4 796.3h0M84.2 797.2h0M105.0 781.5h0M125.8 798.1h0M146.6 810.8h0M167.4 815.5h0M188.2 790.0h0M229.8 792.6h0M271.4 795.3h0M292.2 791.1h0M313.0 777.2h0M42.6 806.7h0M63.4 810.1h0M84.2 816.9h0M125.8 785.8h0M146.6 785.1h0M167.4 795.6h0M188.2 793.6h0M209.0 809.5h0M229.8 805.2h0M271.4 797.8h0M292.2 796.2h0M42.6 807.9h0M63.4 822.0h0M84.2 800.5h0M105.0 811.1h0M125.8 802.6h0M146.6 829.6h0M167.4 794.2h0M188.2 806.0h0M209.0 799.5h0M229.8 812.6h0M250.6 787.4h0M271.4 797.8h0M292.2 796.8h0M313.0 806.0h0M42.6 794.3h0M63.4 801.0h0M84.2 797.6h0M105.0 804.7h0M125.8 797.3h0M146.6 811.4h0M167.4 786.4h0M188.2 811.6h0M229.8 792.4h0M250.6 782.2h0M271.4 791.7h0M292.2 800.1h0M313.0 784.8h0M42.6 826.3h0M63.4 809.8h0M84.2 826.4h0M105.0 823.5h0M125.8 826.7h0M146.6 824.6h0M167.4 829.1h0M188.2 818.3h0M209.0 832.6h0M229.8 815.8h0M250.6 820.0h0M271.4 829.5h0M292.2 829.7h0M313.0 807.9h0M42.6 817.2h0M63.4 802.3h0M84.2 805.6h0M105.0 803.8h0M125.8 789.2h0M146.6 790.2h0M167.4 787.6h0M188.2 803.6h0M209.0 791.7h0M229.8 803.4h0M250.6 779.5h0M313.0 793.2h0M42.6 837.2h0M63.4 838.1h0M84.2 828.0h0M105.0 830.4h0M125.8 827.6h0M146.6 826.1h0M188.2 834.2h0M209.0 826.6h0M229.8 829.8h0M271.4 829.9h0M313.0 833.7h0M42.6 804.6h0M63.4 814.2h0M84.2 802.0h0M105.0 818.3h0M125.8 817.4h0M146.6 794.7h0M167.4 804.5h0M188.2 805.6h0M250.6 795.9h0M292.2 740.4h0M313.0 794.4h0M42.6 789.8h0M63.4 814.7h0M84.2 800.1h0M105.0 806.4h0M125.8 788.4h0M146.6 804.8h0M188.2 787.9h0M209.0 782.8h0M250.6 777.1h0M271.4 795.4h0M292.2 823.4h0M42.6 807.6h0M63.4 831.7h0M84.2 824.4h0M105.0 807.3h0M125.8 821.5h0M146.6 817.9h0M167.4 800.0h0M188.2 818.2h0M209.0 826.9h0M229.8 807.9h0M250.6 820.7h0M271.4 817.0h0M42.6 818.5h0M63.4 828.8h0M84.2 830.1h0M105.0 803.3h0M125.8 814.7h0M146.6 813.1h0M188.2 802.6h0M209.0 819.8h0M271.4 801.0h0M292.2 811.7h0M42.6 818.1h0M63.4 831.6h0M84.2 836.4h0M105.0 822.8h0M125.8 815.5h0M146.6 831.8h0M167.4 826.0h0M188.2 835.0h0M250.6 789.3h0M292.2 803.5h0M313.0 805.4h0M42.6 808.1h0M63.4 819.5h0M84.2 819.6h0M105.0 817.9h0M146.6 816.4h0M167.4 806.5h0M188.2 815.0h0M229.8 833.2h0M250.6 795.5h0M42.6 783.4h0M63.4 798.5h0M84.2 799.6h0M105.0 805.6h0M125.8 786.5h0M146.6 795.8h0M167.4 806.8h0M188.2 806.9h0M209.0 784.0h0M229.8 819.8h0M250.6 796.6h0M271.4 812.8h0M292.2 780.6h0M313.0 802.3h0M42.6 796.3h0M63.4 800.8h0M84.2 797.5h0M105.0 788.5h0M125.8 794.5h0M146.6 799.6h0M167.4 795.4h0M188.2 800.4h0M209.0 793.0h0M250.6 805.3h0M271.4 803.9h0M292.2 810.3h0M313.0 810.2h0M42.6 824.7h0M63.4 815.1h0M84.2 818.7h0M105.0 833.7h0M125.8 821.4h0M146.6 833.1h0M167.4 801.1h0M209.0 819.5h0M250.6 804.3h0M271.4 820.8h0M42.6 826.2h0M63.4 833.7h0M84.2 823.2h0M105.0 837.9h0M125.8 815.9h0M146.6 829.8h0M167.4 831.5h0M209.0 827.8h0M229.8 829.3h0M271.4 825.0h0M292.2 824.0h0M42.6 826.9h0M63.4 810.6h0M105.0 814.2h0M125.8 801.4h0M146.6 825.8h0M188.2 820.5h0M209.0 796.1h0M250.6 801.3h0M292.2 794.5h0M313.0 785.2h0M42.6 831.8h0M63.4 833.0h0M84.2 827.4h0M105.0 827.6h0M146.6 823.4h0M167.4 825.1h0M188.2 816.8h0M209.0 805.4h0M229.8 837.6h0M250.6 830.8h0M271.4 827.0h0M292.2 828.1h0M42.6 826.5h0M63.4 812.6h0M84.2 823.8h0M146.6 824.8h0M167.4 832.5h0M209.0 794.8h0M229.8 820.3h0M250.6 821.7h0M271.4 831.9h0M313.0 811.0h0M42.6 824.8h0M63.4 831.5h0M84.2 829.5h0M105.0 818.3h0M125.8 826.4h0M167.4 826.3h0M188.2 826.9h0M229.8 833.3h0M250.6 809.0h0M271.4 807.7h0M42.6 797.8h0M63.4 816.2h0M84.2 823.8h0M105.0 796.9h0M125.8 823.3h0M146.6 792.3h0M167.4 809.6h0M188.2 814.0h0M209.0 792.2h0M292.2 796.4h0M42.6 810.4h0M63.4 804.0h0M84.2 804.1h0M105.0 809.7h0M146.6 824.6h0M188.2 809.6h0M209.0 821.1h0M250.6 811.4h0M271.4 795.0h0M42.6 824.3h0M63.4 809.2h0M105.0 813.7h0M125.8 801.5h0M146.6 798.9h0M188.2 809.3h0M229.8 817.6h0M250.6 813.8h0M271.4 789.6h0M292.2 803.1h0M42.6 814.7h0M63.4 820.5h0M84.2 808.4h0M105.0 822.3h0M188.2 794.8h0M209.0 816.1h0M229.8 815.4h0M271.4 820.3h0M292.2 805.1h0M42.6 831.0h0M63.4 825.2h0M84.2 829.9h0M105.0 818.8h0M125.8 826.2h0M146.6 807.3h0M167.4 828.9h0M188.2 818.6h0M209.0 820.7h0M229.8 809.0h0M271.4 798.2h0M292.2 821.1h0M313.0 810.7h0M42.6 806.7h0M63.4 812.2h0M84.2 805.7h0M105.0 817.9h0M125.8 806.6h0M146.6 820.4h0M167.4 807.8h0M188.2 800.3h0M292.2 811.2h0M42.6 790.6h0M63.4 803.0h0M84.2 806.4h0M105.0 792.5h0M125.8 788.2h0M146.6 809.4h0M167.4 791.3h0M229.8 810.4h0M250.6 817.3h0M271.4 816.9h0M313.0 814.0h0M42.6 825.5h0M63.4 812.6h0M105.0 807.1h0M125.8 809.3h0M146.6 822.6h0M167.4 798.1h0M188.2 802.8h0M209.0 817.6h0M229.8 833.6h0M250.6 806.1h0M292.2 819.7h0M313.0 819.8h0M42.6 796.4h0M63.4 809.2h0M84.2 812.1h0M105.0 813.0h0M125.8 806.3h0M146.6 824.6h0M188.2 816.6h0M209.0 792.6h0M229.8 810.4h0M250.6 807.5h0M271.4 800.5h0M313.0 789.7h0M42.6 800.5h0M63.4 822.5h0M84.2 771.9h0M105.0 821.0h0M125.8 820.6h0M146.6 814.6h0M167.4 827.0h0M188.2 827.8h0M209.0 812.1h0M229.8 824.1h0M250.6 808.6h0M271.4 794.2h0M313.0 805.5h0M42.6 802.3h0M63.4 812.7h0M84.2 810.4h0M105.0 806.9h0M125.8 800.8h0M146.6 808.6h0M167.4 811.6h0M188.2 793.4h0M209.0 758.1h0M229.8 795.7h0M250.6 803.7h0M271.4 818.6h0M313.0 788.2h0M42.6 796.0h0M63.4 827.1h0M84.2 824.1h0M105.0 798.5h0M125.8 793.5h0M250.6 783.9h0M271.4 831.7h0M292.2 802.2h0M313.0 801.4h0M42.6 819.1h0M63.4 813.7h0M84.2 805.0h0M105.0 801.3h0M125.8 801.9h0M146.6 799.5h0M167.4 793.8h0M188.2 802.4h0M209.0 793.3h0M229.8 797.4h0M313.0 799.5h0M42.6 815.6h0M63.4 805.6h0M84.2 804.0h0M105.0 817.3h0M125.8 789.4h0M146.6 801.0h0M167.4 810.7h0M188.2 776.7h0M229.8 777.0h0M250.6 790.0h0M271.4 812.9h0M313.0 810.6h0M42.6 783.6h0M84.2 796.9h0M105.0 791.5h0M125.8 781.1h0M146.6 807.1h0M188.2 802.6h0M209.0 786.6h0M229.8 805.2h0M250.6 771.9h0M271.4 800.4h0M313.0 790.3h0M42.6 834.8h0M63.4 828.5h0M105.0 803.1h0M125.8 809.9h0M146.6 811.4h0M167.4 802.4h0M188.2 803.6h0M209.0 806.2h0M250.6 808.0h0M313.0 815.8h0M42.6 824.5h0M63.4 825.1h0M84.2 809.1h0M105.0 816.1h0M125.8 828.4h0M188.2 802.2h0M209.0 815.0h0M229.8 821.3h0M250.6 813.2h0M292.2 793.9h0M313.0 816.4h0M42.6 830.8h0M63.4 831.7h0M84.2 831.4h0M105.0 821.0h0M125.8 776.7h0M146.6 829.7h0M188.2 830.0h0M229.8 827.9h0M250.6 828.5h0M271.4 820.4h0M292.2 805.3h0M313.0 827.3h0M42.6 792.3h0M63.4 810.1h0M105.0 810.9h0M125.8 794.0h0M146.6 813.1h0M167.4 788.6h0M188.2 800.6h0M229.8 810.0h0M250.6 804.4h0M271.4 793.8h0M292.2 816.5h0M313.0 817.6h0M42.6 809.6h0M63.4 808.3h0M84.2 823.8h0M105.0 830.3h0M125.8 824.0h0M146.6 832.6h0M167.4 813.5h0M209.0 766.4h0M250.6 818.4h0M271.4 826.8h0M313.0 804.5h0M42.6 829.1h0M63.4 810.3h0M84.2 827.6h0M105.0 822.8h0M125.8 825.1h0M146.6 809.9h0M167.4 826.6h0M188.2 822.4h0M250.6 796.5h0M271.4 831.1h0M292.2 821.5h0M313.0 817.3h0M42.6 802.0h0M63.4 801.7h0M84.2 804.2h0M105.0 804.2h0M125.8 803.7h0M146.6 792.5h0M167.4 811.1h0M188.2 805.9h0M209.0 783.5h0M229.8 793.1h0M250.6 806.3h0M42.6 827.1h0M63.4 801.0h0M84.2 814.7h0M105.0 802.5h0M125.8 783.8h0M146.6 808.4h0M167.4 789.7h0M188.2 800.0h0M42.6 795.9h0M63.4 815.1h0M84.2 812.0h0M105.0 794.8h0M125.8 810.3h0M146.6 808.2h0M167.4 818.1h0M188.2 815.4h0M209.0 787.3h0M229.8 820.4h0M250.6 789.9h0M271.4 790.1h0M292.2 820.7h0M42.6 838.2h0M63.4 840.2h0M84.2 835.6h0M105.0 839.8h0M125.8 835.1h0M146.6 835.4h0M167.4 838.0h0M188.2 836.9h0M313.0 832.1h0M42.6 812.3h0M63.4 828.9h0M84.2 833.5h0M105.0 827.6h0M146.6 819.4h0M188.2 817.3h0M209.0 832.0h0M229.8 826.4h0M250.6 818.1h0M42.6 840.3h0M63.4 832.7h0M84.2 829.4h0M105.0 825.9h0M125.8 820.9h0M146.6 827.4h0M167.4 813.4h0M188.2 823.7h0M209.0 825.5h0M250.6 808.6h0M292.2 807.2h0M42.6 826.6h0M63.4 825.0h0M84.2 825.3h0M105.0 824.3h0M146.6 812.8h0M188.2 826.5h0M209.0 819.3h0M250.6 826.6h0M271.4 821.1h0M313.0 820.5h0M42.6 823.8h0M63.4 822.4h0M84.2 813.1h0M105.0 833.8h0M125.8 816.6h0M146.6 827.8h0M167.4 827.1h0M209.0 819.5h0M229.8 821.8h0M250.6 810.9h0M271.4 830.5h0M313.0 810.1h0M42.6 818.8h0M63.4 805.0h0M84.2 805.5h0M105.0 789.8h0M125.8 790.3h0M146.6 786.9h0M167.4 788.4h0M188.2 799.6h0M209.0 784.1h0M229.8 795.0h0M250.6 779.4h0M42.6 826.0h0M63.4 818.7h0M84.2 812.4h0M105.0 805.1h0M125.8 820.3h0M146.6 754.8h0M167.4 836.5h0M188.2 823.3h0M209.0 822.6h0M250.6 791.2h0M271.4 794.7h0M292.2 814.5h0M42.6 825.1h0M63.4 802.2h0M84.2 827.1h0M105.0 832.3h0M125.8 812.1h0M146.6 820.8h0M167.4 828.9h0M188.2 814.5h0M229.8 827.8h0M250.6 799.9h0M292.2 809.7h0M313.0 807.7h0M42.6 794.8h0M63.4 819.9h0M84.2 808.5h0M105.0 801.1h0M125.8 804.5h0M146.6 813.3h0M167.4 783.4h0M188.2 804.9h0M229.8 824.8h0M250.6 789.0h0M313.0 812.2h0M42.6 810.9h0M63.4 808.5h0M84.2 821.4h0M105.0 819.2h0M125.8 806.8h0M146.6 829.2h0M167.4 796.7h0M188.2 807.7h0M209.0 808.1h0M229.8 800.6h0M271.4 816.6h0M292.2 791.2h0M313.0 820.2h0M42.6 818.6h0M63.4 812.7h0M84.2 808.7h0M125.8 818.1h0M146.6 818.4h0M167.4 804.3h0M188.2 801.1h0M229.8 813.5h0M250.6 824.2h0M292.2 814.5h0M313.0 819.4h0M42.6 818.9h0M63.4 827.2h0M84.2 829.4h0M105.0 820.8h0M125.8 807.3h0M146.6 818.4h0M167.4 829.0h0M188.2 804.2h0M209.0 824.5h0M229.8 818.7h0M250.6 811.6h0M271.4 810.5h0M292.2 814.0h0M42.6 815.6h0M63.4 825.9h0M84.2 814.7h0M105.0 815.8h0M125.8 775.0h0M146.6 822.8h0M167.4 825.2h0M188.2 822.4h0M229.8 814.4h0M271.4 820.8h0M292.2 796.7h0M42.6 815.7h0M63.4 814.4h0M84.2 808.8h0M105.0 829.1h0M125.8 811.7h0M146.6 825.6h0M167.4 796.6h0M250.6 816.4h0M271.4 797.4h0M42.6 839.5h0M63.4 834.5h0M84.2 829.7h0M105.0 836.4h0M146.6 834.0h0M188.2 836.0h0M209.0 826.0h0M229.8 832.5h0M250.6 822.3h0M271.4 832.4h0M292.2 834.8h0M42.6 832.4h0M63.4 829.1h0M84.2 835.7h0M105.0 826.2h0M125.8 832.5h0M146.6 831.5h0M167.4 834.1h0M188.2 833.2h0M209.0 829.3h0M229.8 822.6h0M271.4 821.2h0M292.2 825.9h0M42.6 796.6h0M63.4 802.1h0M84.2 799.1h0M105.0 806.4h0M146.6 811.1h0M167.4 793.0h0M188.2 795.8h0M209.0 784.4h0M250.6 798.1h0M271.4 806.9h0M42.6 784.2h0M63.4 807.3h0M84.2 807.4h0M105.0 811.5h0M125.8 795.4h0M167.4 772.3h0M188.2 808.7h0M209.0 791.8h0M250.6 813.6h0M292.2 798.2h0M313.0 800.9h0M42.6 826.0h0M63.4 829.8h0M84.2 809.6h0M105.0 824.6h0M146.6 816.8h0M167.4 825.6h0M188.2 798.0h0M209.0 803.7h0M229.8 816.9h0M313.0 826.5h0M42.6 810.0h0M63.4 827.3h0M84.2 829.7h0M105.0 830.2h0M125.8 816.6h0M146.6 824.7h0M167.4 828.4h0M209.0 820.3h0M42.6 812.8h0M63.4 825.3h0M84.2 824.1h0M105.0 809.0h0M125.8 808.0h0M146.6 807.3h0M167.4 793.5h0M188.2 830.3h0M209.0 798.1h0M229.8 807.1h0M250.6 806.6h0M292.2 811.1h0M313.0 822.1h0M42.6 817.6h0M63.4 836.1h0M105.0 833.9h0M125.8 826.8h0M146.6 817.6h0M188.2 832.0h0M229.8 831.2h0M250.6 813.9h0M313.0 827.0h0M42.6 828.3h0M63.4 815.0h0M84.2 823.6h0M105.0 829.4h0M125.8 815.7h0M167.4 806.8h0M188.2 797.1h0M209.0 829.4h0M250.6 799.0h0M292.2 808.8h0M313.0 826.4h0M42.6 800.4h0M84.2 800.9h0M105.0 790.0h0M125.8 784.3h0M146.6 801.7h0M188.2 802.4h0M229.8 802.2h0M292.2 790.7h0M313.0 782.2h0M42.6 816.0h0M63.4 828.0h0M105.0 802.1h0M146.6 828.8h0M167.4 820.1h0M188.2 812.8h0M209.0 797.4h0M229.8 826.5h0M42.6 788.4h0M63.4 806.0h0M84.2 823.0h0M105.0 792.6h0M125.8 813.7h0M146.6 791.0h0M188.2 807.6h0M209.0 797.3h0M229.8 795.5h0M250.6 796.3h0M292.2 801.8h0M42.6 815.4h0M63.4 834.8h0M84.2 830.6h0M105.0 808.5h0M125.8 815.5h0M146.6 813.9h0M167.4 817.2h0M209.0 823.7h0M250.6 812.3h0M271.4 829.9h0M292.2 822.4h0M313.0 832.8h0M42.6 799.7h0M63.4 815.9h0M84.2 818.5h0M105.0 816.7h0M125.8 812.4h0M146.6 799.4h0M167.4 808.6h0M188.2 797.7h0M209.0 823.0h0M229.8 820.8h0M250.6 807.0h0M42.6 791.2h0M63.4 801.3h0M84.2 798.9h0M105.0 812.0h0M125.8 797.7h0M146.6 805.2h0M167.4 790.1h0M188.2 808.7h0M209.0 788.9h0M250.6 785.8h0M292.2 798.2h0M42.6 821.2h0M63.4 834.2h0M84.2 831.7h0M125.8 826.2h0M146.6 828.4h0M167.4 832.3h0M188.2 835.4h0M209.0 830.2h0M229.8 825.6h0M250.6 825.5h0M292.2 815.9h0M313.0 819.2h0M42.6 816.9h0M63.4 821.1h0M84.2 828.4h0M105.0 819.4h0M125.8 825.1h0M146.6 826.3h0M229.8 820.0h0M271.4 812.1h0M292.2 815.4h0M42.6 822.4h0M63.4 802.6h0M84.2 820.4h0M105.0 831.4h0M125.8 810.7h0M146.6 825.1h0M167.4 820.7h0M188.2 821.9h0M209.0 821.1h0M229.8 818.9h0M271.4 763.8h0M313.0 793.8h0M42.6 803.8h0M63.4 804.0h0M84.2 813.5h0M105.0 814.1h0M146.6 825.2h0M167.4 817.2h0M188.2 805.7h0M209.0 822.0h0M229.8 806.8h0M271.4 796.9h0M292.2 814.9h0M313.0 785.2h0M42.6 791.4h0M63.4 797.3h0M84.2 787.2h0M105.0 789.8h0M125.8 791.0h0M146.6 797.3h0M167.4 789.5h0M188.2 794.5h0M229.8 799.3h0M250.6 789.2h0M271.4 793.7h0M42.6 786.2h0M63.4 806.7h0M84.2 799.0h0M105.0 812.9h0M125.8 811.6h0M146.6 800.8h0M167.4 799.8h0M188.2 793.9h0M209.0 809.3h0M229.8 824.3h0M271.4 786.9h0M292.2 801.0h0M313.0 790.4h0M42.6 833.5h0M63.4 835.5h0M84.2 830.1h0M105.0 813.2h0M125.8 831.9h0M146.6 824.9h0M188.2 830.3h0M250.6 818.3h0M271.4 829.3h0M313.0 832.2h0M42.6 816.8h0M63.4 823.6h0M84.2 830.9h0M105.0 810.1h0M125.8 820.0h0M146.6 815.7h0M209.0 811.0h0M292.2 804.3h0M42.6 829.0h0M63.4 830.4h0M84.2 827.7h0M105.0 833.8h0M125.8 807.6h0M146.6 827.4h0M167.4 834.6h0M209.0 816.9h0M229.8 828.0h0M271.4 823.4h0M42.6 813.8h0M63.4 828.5h0M84.2 828.7h0M105.0 833.5h0M125.8 832.2h0M146.6 805.3h0M167.4 831.5h0M188.2 814.7h0M209.0 822.1h0M229.8 836.1h0M250.6 809.4h0M271.4 793.3h0M292.2 819.1h0M313.0 812.3h0M42.6 781.3h0M63.4 798.6h0M84.2 793.6h0M125.8 785.6h0M146.6 783.0h0M167.4 779.7h0M188.2 801.2h0M209.0 778.5h0M229.8 822.7h0M250.6 771.5h0M271.4 791.0h0M42.6 821.7h0M63.4 834.5h0M84.2 809.7h0M105.0 820.9h0M146.6 817.7h0M188.2 827.9h0M229.8 826.7h0M250.6 830.3h0M271.4 836.7h0M292.2 815.6h0M313.0 825.4h0M42.6 824.8h0M63.4 803.1h0M84.2 815.2h0M125.8 839.8h0M146.6 810.0h0M167.4 812.4h0M188.2 832.4h0M229.8 817.8h0M250.6 796.4h0M292.2 796.7h0M42.6 835.8h0M63.4 833.5h0M84.2 835.3h0M105.0 828.3h0M125.8 824.1h0M167.4 816.3h0M209.0 830.0h0M292.2 830.0h0M313.0 812.6h0M42.6 798.4h0M63.4 806.9h0M84.2 808.6h0M105.0 801.2h0M125.8 799.4h0M167.4 791.1h0M188.2 815.5h0M209.0 789.8h0M313.0 804.0h0M42.6 800.3h0M63.4 806.5h0M84.2 827.5h0M105.0 801.2h0M125.8 805.4h0M146.6 822.9h0M229.8 804.0h0M271.4 794.2h0M292.2 806.6h0M313.0 797.8h0M42.6 795.0h0M63.4 818.4h0M84.2 808.1h0M105.0 807.1h0M125.8 792.6h0M146.6 806.3h0M167.4 794.7h0M188.2 796.9h0M209.0 817.6h0M229.8 802.7h0M292.2 807.7h0M313.0 815.8h0M42.6 832.8h0M63.4 826.0h0M84.2 808.0h0M105.0 830.1h0M125.8 815.3h0M146.6 813.9h0M167.4 822.0h0M188.2 804.2h0M271.4 810.5h0M42.6 799.5h0M63.4 806.8h0M84.2 801.9h0M105.0 811.1h0M125.8 797.7h0M146.6 791.0h0M167.4 799.6h0M188.2 815.1h0M229.8 812.3h0M250.6 778.3h0M292.2 789.3h0M313.0 786.2h0M42.6 837.8h0M63.4 812.3h0M84.2 834.6h0M105.0 832.4h0M125.8 828.1h0M167.4 823.6h0M188.2 807.0h0M209.0 824.7h0M229.8 830.7h0M42.6 832.5h0M63.4 821.9h0M84.2 826.2h0M105.0 835.2h0M125.8 818.7h0M167.4 835.8h0M188.2 809.7h0M209.0 801.7h0M250.6 811.0h0M271.4 806.2h0M292.2 807.2h0M42.6 830.5h0M63.4 832.1h0M84.2 818.6h0M105.0 820.1h0M167.4 831.3h0M188.2 824.6h0M209.0 827.1h0M229.8 815.9h0M250.6 825.0h0M313.0 834.6h0M42.6 786.2h0M63.4 800.9h0M84.2 811.4h0M105.0 803.6h0M146.6 801.0h0M188.2 798.6h0M209.0 841.6h0M250.6 796.1h0M271.4 780.5h0M292.2 809.3h0M313.0 798.3h0M42.6 824.1h0M63.4 824.3h0M84.2 775.5h0M105.0 824.8h0M125.8 813.1h0M167.4 819.6h0M188.2 818.7h0M209.0 815.4h0M271.4 826.8h0M292.2 800.4h0M42.6 833.4h0M63.4 838.0h0M105.0 832.7h0M125.8 819.8h0M146.6 827.1h0M188.2 825.6h0M209.0 828.9h0M250.6 817.3h0M313.0 829.6h0M42.6 823.6h0M63.4 821.9h0M84.2 817.4h0M105.0 816.9h0M125.8 825.2h0M146.6 827.9h0M188.2 812.4h0M209.0 824.7h0M229.8 818.2h0M250.6 816.4h0M271.4 804.5h0M292.2 828.5h0M42.6 777.6h0M63.4 792.7h0M84.2 793.1h0M105.0 783.3h0M125.8 793.4h0M146.6 797.9h0M167.4 790.2h0M188.2 789.3h0M209.0 783.4h0M250.6 773.2h0M313.0 777.9h0M42.6 788.7h0M63.4 810.3h0M84.2 815.3h0M105.0 808.7h0M125.8 803.2h0M146.6 819.9h0M167.4 815.5h0M188.2 805.0h0M209.0 824.9h0M229.8 811.0h0M250.6 779.5h0M292.2 828.6h0M42.6 820.0h0M63.4 810.7h0M84.2 805.8h0M105.0 791.4h0M125.8 808.3h0M146.6 813.4h0M167.4 806.2h0M188.2 806.7h0M209.0 795.1h0M229.8 799.6h0M250.6 814.2h0M271.4 786.0h0M292.2 790.2h0M313.0 806.7h0M42.6 810.6h0M63.4 826.6h0M125.8 806.0h0M146.6 823.2h0M250.6 796.2h0M271.4 790.0h0M292.2 809.7h0M42.6 819.4h0M63.4 808.9h0M84.2 818.1h0M105.0 797.4h0M125.8 816.1h0M146.6 813.9h0M167.4 805.4h0M188.2 815.5h0M209.0 796.6h0M250.6 807.4h0M271.4 826.5h0M42.6 810.3h0M63.4 827.8h0M84.2 822.2h0M105.0 797.3h0M146.6 830.0h0M167.4 831.5h0M188.2 819.0h0M209.0 813.8h0M229.8 831.3h0M250.6 824.3h0M271.4 821.6h0M313.0 822.7h0M42.6 813.9h0M63.4 816.6h0M84.2 829.1h0M105.0 824.1h0M125.8 818.1h0M146.6 805.5h0M167.4 808.3h0M188.2 813.8h0M209.0 815.3h0M229.8 759.4h0M250.6 808.7h0M271.4 812.2h0M313.0 829.6h0M42.6 800.9h0M63.4 785.8h0M84.2 819.4h0M105.0 822.7h0M125.8 818.4h0M146.6 797.7h0M167.4 818.0h0M188.2 818.4h0M250.6 819.9h0M271.4 800.3h0M313.0 801.8h0M42.6 840.3h0M63.4 835.6h0M84.2 834.5h0M125.8 821.7h0M167.4 830.4h0M188.2 836.6h0M229.8 834.2h0M250.6 831.9h0M271.4 831.9h0M313.0 824.6h0M42.6 782.3h0M63.4 796.0h0M105.0 780.8h0M125.8 800.9h0M146.6 779.7h0M167.4 790.1h0M188.2 796.4h0M209.0 790.9h0M250.6 774.9h0M313.0 778.3h0M42.6 806.0h0M63.4 815.0h0M84.2 803.8h0M105.0 805.0h0M125.8 807.4h0M146.6 815.5h0M167.4 793.7h0M188.2 819.8h0M209.0 811.1h0M229.8 809.1h0M250.6 778.0h0M292.2 794.6h0M313.0 799.9h0M42.6 824.8h0M63.4 822.1h0M84.2 824.9h0M105.0 821.4h0M125.8 805.9h0M146.6 828.8h0M167.4 819.6h0M250.6 807.1h0M271.4 801.2h0M292.2 808.5h0M42.6 819.0h0M63.4 821.5h0M84.2 829.2h0M105.0 795.3h0M125.8 820.4h0M167.4 805.8h0M188.2 809.6h0M209.0 799.5h0M229.8 815.1h0M292.2 823.8h0M42.6 834.5h0M63.4 830.8h0M84.2 823.4h0M105.0 828.5h0M125.8 832.8h0M167.4 823.5h0M209.0 817.4h0M229.8 826.6h0M250.6 822.4h0M271.4 815.2h0M313.0 833.0h0M42.6 781.4h0M63.4 806.1h0M84.2 807.9h0M105.0 829.2h0M146.6 800.8h0M167.4 804.4h0M209.0 790.1h0M229.8 811.7h0M250.6 801.3h0M271.4 793.6h0M292.2 784.1h0M313.0 786.4h0M42.6 811.9h0M63.4 834.8h0M84.2 818.4h0M105.0 811.2h0M125.8 813.9h0M146.6 807.7h0M188.2 820.9h0M229.8 819.2h0M271.4 828.5h0M42.6 819.2h0M63.4 823.3h0M84.2 817.0h0M125.8 815.7h0M146.6 800.2h0M167.4 767.7h0M209.0 818.3h0M229.8 809.6h0M250.6 799.6h0M271.4 817.0h0M292.2 798.4h0M313.0 796.2h0M42.6 835.4h0M63.4 832.6h0M84.2 835.6h0M105.0 814.6h0M146.6 821.9h0M167.4 822.1h0M188.2 832.1h0M209.0 827.5h0M229.8 817.2h0M313.0 822.2h0M42.6 789.5h0M63.4 821.6h0M84.2 810.5h0M105.0 791.7h0M125.8 815.4h0M146.6 811.9h0M167.4 820.4h0M209.0 795.4h0M271.4 807.3h0M292.2 813.9h0M42.6 791.6h0M63.4 803.1h0M84.2 797.6h0M105.0 778.5h0M146.6 791.3h0M167.4 800.6h0M188.2 801.9h0M209.0 779.3h0M271.4 789.6h0M292.2 782.8h0M313.0 785.2h0M42.6 810.1h0M63.4 831.2h0M84.2 814.8h0M105.0 823.8h0M125.8 818.3h0M146.6 815.8h0M167.4 813.5h0M188.2 825.3h0M209.0 800.1h0M229.8 832.7h0M313.0 803.6h0M42.6 795.7h0M84.2 799.3h0M105.0 814.5h0M146.6 804.8h0M167.4 803.4h0M188.2 799.4h0M209.0 794.9h0M229.8 798.5h0M250.6 803.1h0M292.2 810.2h0M313.0 791.7h0M42.6 800.5h0M63.4 804.9h0M84.2 806.8h0M105.0 828.0h0M125.8 809.6h0M167.4 807.3h0M188.2 817.2h0M209.0 812.2h0M313.0 808.5h0M42.6 791.4h0M63.4 816.5h0M84.2 797.4h0M105.0 786.0h0M125.8 791.9h0M146.6 804.5h0M188.2 794.7h0M209.0 800.1h0M271.4 795.0h0M42.6 801.0h0M63.4 799.5h0M84.2 814.0h0M105.0 804.8h0M125.8 806.5h0M167.4 821.9h0M188.2 805.5h0M229.8 823.9h0M271.4 799.4h0M292.2 797.3h0M313.0 795.1h0M42.6 820.2h0M63.4 830.5h0M84.2 832.1h0M105.0 829.4h0M125.8 797.9h0M146.6 820.8h0M167.4 822.1h0M188.2 808.9h0M209.0 808.0h0M229.8 822.6h0M250.6 810.5h0M313.0 793.3h0M42.6 836.2h0M63.4 824.4h0M84.2 827.8h0M105.0 835.7h0M125.8 819.4h0M146.6 811.7h0M188.2 818.5h0M209.0 811.0h0M271.4 827.6h0M292.2 807.5h0M42.6 810.5h0M63.4 832.2h0M105.0 809.2h0M125.8 804.2h0M146.6 809.5h0M188.2 822.8h0M209.0 789.4h0M229.8 804.9h0M250.6 846.3h0M271.4 813.9h0M42.6 811.9h0M63.4 814.8h0M84.2 827.6h0M146.6 812.7h0M167.4 808.8h0M188.2 807.8h0M209.0 794.1h0M229.8 808.0h0M250.6 777.1h0M271.4 802.6h0M42.6 826.4h0M63.4 825.9h0M84.2 818.2h0M105.0 819.2h0M146.6 826.3h0M167.4 816.4h0M188.2 808.8h0M209.0 827.3h0M250.6 829.5h0M271.4 810.2h0M292.2 825.1h0M313.0 825.0h0M42.6 809.2h0M63.4 813.4h0M84.2 826.1h0M105.0 817.7h0M125.8 805.7h0M146.6 826.1h0M250.6 806.2h0M292.2 807.8h0M313.0 760.7h0M42.6 822.0h0M63.4 804.4h0M84.2 804.2h0M105.0 816.7h0M125.8 827.2h0M146.6 813.8h0M167.4 806.5h0M188.2 809.9h0M209.0 813.3h0M229.8 805.2h0M250.6 793.9h0M271.4 805.5h0M313.0 804.7h0M42.6 801.1h0M63.4 824.0h0M84.2 817.2h0M105.0 821.0h0M125.8 828.9h0M146.6 836.4h0M167.4 826.0h0M188.2 818.4h0M209.0 831.1h0M229.8 822.6h0M271.4 828.9h0M292.2 825.4h0M313.0 831.3h0M42.6 821.5h0M63.4 821.2h0M84.2 796.3h0M105.0 818.1h0M146.6 816.8h0M229.8 824.9h0M250.6 820.3h0M292.2 758.1h0M313.0 758.5h0M42.6 786.6h0M63.4 797.8h0M84.2 788.8h0M105.0 781.4h0M125.8 791.1h0M146.6 791.6h0M167.4 783.2h0M209.0 775.9h0M229.8 792.2h0M271.4 775.5h0M292.2 781.7h0M313.0 774.2h0M42.6 809.3h0M63.4 810.3h0M84.2 793.3h0M105.0 804.8h0M125.8 802.8h0M167.4 810.2h0M209.0 803.7h0M229.8 809.3h0M250.6 796.0h0M292.2 787.5h0M42.6 814.8h0M63.4 824.7h0M84.2 821.9h0M105.0 816.3h0M125.8 825.5h0M146.6 819.9h0M167.4 806.3h0M188.2 816.7h0M209.0 811.7h0M229.8 791.5h0M250.6 789.5h0M271.4 804.6h0M313.0 798.2h0M42.6 779.2h0M63.4 798.4h0M84.2 797.1h0M105.0 784.0h0M125.8 791.6h0M167.4 786.7h0M209.0 775.5h0M250.6 767.5h0M271.4 779.7h0M292.2 776.7h0M313.0 779.1h0M42.6 838.4h0M63.4 811.4h0M84.2 813.4h0M105.0 823.5h0M146.6 824.8h0M167.4 820.3h0M188.2 825.6h0M229.8 805.9h0M271.4 832.2h0M292.2 811.0h0M313.0 812.6h0M42.6 836.5h0M63.4 834.8h0M84.2 838.3h0M105.0 836.1h0M146.6 838.0h0M167.4 835.5h0M188.2 834.5h0M209.0 825.1h0M229.8 829.1h0M250.6 829.2h0M292.2 832.1h0M42.6 838.3h0M63.4 834.3h0M84.2 827.1h0M105.0 831.4h0M125.8 833.0h0M146.6 837.6h0M167.4 827.2h0M188.2 835.0h0M209.0 830.2h0M229.8 831.6h0M250.6 816.7h0M292.2 829.5h0M313.0 826.5h0M42.6 833.8h0M63.4 829.6h0M84.2 832.6h0M105.0 834.1h0M125.8 831.0h0M146.6 838.8h0M167.4 830.7h0M188.2 822.1h0M209.0 832.1h0M229.8 825.0h0M250.6 819.5h0M271.4 830.5h0M292.2 809.0h0M42.6 798.2h0M63.4 828.9h0M84.2 830.0h0M105.0 812.3h0M125.8 825.1h0M146.6 818.1h0M167.4 798.3h0M188.2 804.1h0M209.0 805.9h0M229.8 809.5h0M250.6 805.0h0M271.4 816.8h0M42.6 791.7h0M63.4 808.1h0M105.0 800.3h0M146.6 822.9h0M188.2 819.2h0M229.8 800.1h0M42.6 839.5h0M63.4 839.7h0M84.2 837.2h0M105.0 832.0h0M125.8 832.3h0M146.6 828.6h0M167.4 831.2h0M188.2 837.3h0M229.8 835.5h0M271.4 836.3h0M292.2 827.1h0M313.0 834.0h0M42.6 798.9h0M63.4 813.5h0M105.0 797.2h0M125.8 794.4h0M146.6 813.9h0M167.4 815.7h0M188.2 785.7h0M209.0 807.5h0M229.8 821.2h0M271.4 803.6h0M292.2 801.7h0M42.6 809.7h0M63.4 829.0h0M84.2 835.6h0M105.0 826.8h0M146.6 832.2h0M167.4 827.1h0M188.2 829.0h0M209.0 822.3h0M250.6 824.9h0M42.6 794.5h0M63.4 813.6h0M84.2 822.0h0M105.0 805.9h0M125.8 813.7h0M146.6 811.7h0M167.4 815.8h0M188.2 826.0h0M209.0 797.5h0M229.8 797.8h0M313.0 803.9h0M42.6 797.1h0M63.4 808.5h0M84.2 810.1h0M105.0 811.6h0M125.8 817.4h0M146.6 810.3h0M167.4 812.7h0M188.2 817.2h0M209.0 812.1h0M271.4 803.3h0M313.0 812.7h0M42.6 807.6h0M63.4 813.7h0M84.2 812.3h0M105.0 804.7h0M125.8 820.0h0M146.6 797.3h0M167.4 819.0h0M188.2 813.2h0M209.0 792.3h0M229.8 800.9h0M292.2 815.8h0M313.0 790.4h0M42.6 802.4h0M63.4 819.4h0M84.2 829.6h0M105.0 822.0h0M125.8 817.6h0M146.6 815.4h0M167.4 814.1h0M188.2 798.1h0M209.0 791.7h0M229.8 819.5h0M250.6 808.5h0M271.4 793.9h0M42.6 806.8h0M63.4 818.1h0M84.2 814.4h0M105.0 829.5h0M125.8 811.8h0M146.6 817.6h0M167.4 806.0h0M188.2 807.2h0M209.0 795.3h0M250.6 801.8h0M271.4 804.0h0M42.6 833.1h0M63.4 819.9h0M84.2 827.2h0M125.8 814.3h0M146.6 828.5h0M188.2 825.9h0M209.0 828.5h0M250.6 804.8h0M271.4 825.2h0M292.2 823.4h0M42.6 821.7h0M63.4 805.5h0M84.2 809.9h0M105.0 829.5h0M146.6 795.6h0M167.4 811.7h0M188.2 819.8h0M209.0 807.3h0M229.8 822.3h0M313.0 813.0h0M42.6 794.0h0M63.4 822.2h0M84.2 820.9h0M105.0 803.0h0M125.8 798.3h0M167.4 799.6h0M188.2 795.8h0M209.0 795.3h0M250.6 782.6h0M271.4 789.8h0M292.2 800.8h0M42.6 796.2h0M63.4 808.6h0M84.2 812.4h0M105.0 788.4h0M125.8 813.2h0M146.6 822.8h0M167.4 762.1h0M188.2 819.9h0M209.0 799.1h0M250.6 787.5h0M271.4 788.9h0M313.0 792.6h0M42.6 774.9h0M63.4 790.2h0M84.2 793.3h0M105.0 782.2h0M125.8 790.9h0M167.4 784.5h0M188.2 781.1h0M209.0 772.2h0M271.4 794.0h0M313.0 790.6h0M42.6 803.9h0M63.4 810.4h0M84.2 798.9h0M105.0 811.1h0M125.8 794.7h0M146.6 810.3h0M167.4 811.3h0M209.0 792.3h0M250.6 789.5h0M271.4 789.6h0M313.0 800.8h0M42.6 788.6h0M63.4 810.0h0M84.2 807.6h0M105.0 797.1h0M125.8 800.6h0M167.4 795.0h0M188.2 809.6h0M209.0 797.9h0M250.6 792.2h0M313.0 793.9h0M42.6 794.5h0M63.4 807.3h0M84.2 802.2h0M105.0 791.3h0M125.8 799.6h0M146.6 789.4h0M167.4 801.7h0M188.2 808.5h0M209.0 783.8h0M250.6 777.4h0M271.4 790.3h0M292.2 785.0h0M42.6 795.8h0M63.4 827.6h0M84.2 818.4h0M105.0 820.2h0M125.8 817.4h0M146.6 811.5h0M167.4 805.6h0M188.2 817.1h0M209.0 809.8h0M229.8 807.4h0M250.6 809.2h0M271.4 812.6h0M292.2 803.6h0M42.6 825.6h0M63.4 831.3h0M84.2 818.4h0M125.8 818.6h0M146.6 824.2h0M167.4 826.7h0M188.2 828.4h0M209.0 831.7h0M229.8 823.2h0M250.6 814.2h0M271.4 824.2h0M292.2 824.7h0M313.0 820.9h0M42.6 839.4h0M63.4 838.2h0M84.2 836.9h0M105.0 837.4h0M125.8 832.5h0M146.6 825.0h0M167.4 835.9h0M188.2 820.9h0M209.0 830.5h0M271.4 838.2h0M292.2 832.5h0M42.6 806.7h0M63.4 807.7h0M84.2 800.8h0M125.8 801.9h0M146.6 816.5h0M167.4 807.0h0M188.2 786.8h0M292.2 783.1h0M42.6 807.2h0M63.4 826.5h0M84.2 829.0h0M105.0 803.2h0M125.8 817.4h0M209.0 854.7h0M229.8 803.9h0M250.6 813.3h0M271.4 820.5h0M292.2 805.5h0M313.0 824.6h0M42.6 804.8h0M63.4 821.4h0M105.0 819.9h0M125.8 786.2h0M167.4 790.4h0M271.4 790.0h0M292.2 805.8h0M42.6 807.7h0M63.4 825.0h0M105.0 809.7h0M125.8 800.4h0M146.6 814.2h0M167.4 811.6h0M188.2 828.9h0M209.0 815.5h0M250.6 802.4h0M313.0 816.2h0M42.6 817.3h0M63.4 820.6h0M84.2 828.1h0M105.0 790.1h0M125.8 804.9h0M146.6 809.1h0M167.4 815.5h0M209.0 791.5h0M229.8 827.2h0M250.6 819.3h0M271.4 811.5h0M292.2 813.6h0M313.0 787.1h0M42.6 804.1h0M63.4 797.8h0M84.2 794.2h0M105.0 792.3h0M146.6 786.1h0M188.2 796.7h0M209.0 784.4h0M229.8 793.0h0M292.2 789.9h0M313.0 790.1h0M42.6 809.4h0M63.4 825.9h0M105.0 820.4h0M146.6 810.5h0M167.4 793.5h0M209.0 817.5h0M250.6 774.3h0M271.4 814.3h0M292.2 810.1h0M313.0 822.7h0M42.6 807.4h0M63.4 826.1h0M84.2 822.1h0M105.0 830.7h0M125.8 827.4h0M146.6 823.7h0M167.4 805.7h0M209.0 806.2h0M229.8 834.1h0M250.6 821.0h0M292.2 817.6h0M313.0 822.0h0M42.6 800.8h0M63.4 820.2h0M84.2 821.3h0M105.0 806.8h0M125.8 813.7h0M146.6 831.9h0M167.4 832.0h0M188.2 823.8h0M209.0 801.0h0M229.8 821.7h0M42.6 801.2h0M63.4 804.9h0M84.2 796.2h0M105.0 801.3h0M125.8 787.9h0M146.6 795.3h0M167.4 790.8h0M188.2 806.9h0M209.0 789.8h0M229.8 813.3h0M250.6 841.0h0M271.4 797.7h0M292.2 842.9h0M42.6 830.7h0M63.4 826.4h0M84.2 832.3h0M105.0 823.3h0M125.8 830.8h0M146.6 834.1h0M167.4 819.1h0M209.0 831.7h0M229.8 829.2h0M250.6 823.2h0M42.6 837.9h0M63.4 838.5h0M84.2 836.6h0M105.0 823.6h0M125.8 828.5h0M146.6 834.3h0M167.4 837.0h0M209.0 834.7h0M229.8 831.4h0M250.6 830.3h0M292.2 833.7h0M42.6 839.8h0M63.4 781.1h0M84.2 836.1h0M125.8 826.7h0M188.2 836.5h0M209.0 826.0h0M229.8 836.0h0M250.6 832.4h0M313.0 835.8h0M42.6 832.7h0M63.4 833.0h0M84.2 829.5h0M105.0 829.0h0M125.8 814.9h0M146.6 829.6h0M167.4 817.8h0M188.2 822.7h0M209.0 825.1h0M271.4 825.4h0M292.2 831.6h0M313.0 828.6h0M42.6 805.6h0M63.4 823.3h0M105.0 809.9h0M125.8 799.4h0M146.6 799.7h0M167.4 808.4h0M209.0 801.0h0M229.8 804.1h0M42.6 824.7h0M63.4 820.2h0M84.2 803.8h0M105.0 817.2h0M146.6 805.4h0M167.4 827.5h0M188.2 832.4h0M229.8 819.5h0M271.4 786.0h0M42.6 830.2h0M63.4 822.0h0M84.2 826.1h0M105.0 822.8h0M146.6 809.7h0M167.4 830.7h0M209.0 823.5h0M229.8 826.1h0M271.4 817.9h0M292.2 816.7h0M42.6 833.9h0M63.4 838.4h0M84.2 834.7h0M105.0 833.8h0M125.8 770.1h0M146.6 822.3h0M167.4 822.2h0M188.2 831.1h0M209.0 827.6h0M250.6 822.1h0M271.4 831.5h0M292.2 813.0h0M42.6 813.0h0M63.4 816.0h0M84.2 820.5h0M105.0 810.9h0M125.8 804.6h0M146.6 802.8h0M188.2 806.0h0M209.0 796.2h0M229.8 814.3h0M292.2 816.7h0M42.6 828.8h0M63.4 827.7h0M105.0 814.6h0M125.8 809.8h0M146.6 821.6h0M167.4 806.2h0M188.2 815.9h0M209.0 804.6h0M229.8 822.2h0M250.6 797.0h0M292.2 826.1h0M313.0 832.7h0M42.6 820.9h0M63.4 829.3h0M84.2 822.9h0M105.0 809.2h0M125.8 817.1h0M146.6 822.0h0M167.4 827.8h0M188.2 821.3h0M209.0 807.5h0M229.8 823.4h0M250.6 806.3h0M271.4 823.1h0M313.0 811.0h0M42.6 827.9h0M63.4 822.8h0M105.0 810.1h0M125.8 825.9h0M146.6 829.8h0M167.4 803.7h0M188.2 808.2h0M209.0 804.9h0M229.8 811.6h0M250.6 798.4h0M271.4 805.2h0M292.2 813.0h0M313.0 826.3h0M42.6 831.7h0M63.4 826.7h0M84.2 827.8h0M105.0 820.2h0M125.8 822.8h0M146.6 800.9h0M209.0 807.0h0M250.6 826.1h0M271.4 826.3h0M42.6 801.1h0M84.2 804.2h0M105.0 782.9h0M146.6 803.3h0M167.4 786.0h0M188.2 788.9h0M271.4 779.9h0M292.2 796.3h0M313.0 797.7h0M42.6 800.7h0M63.4 838.1h0M84.2 833.7h0M105.0 836.8h0M125.8 832.8h0M146.6 831.2h0M167.4 830.6h0M188.2 818.2h0M209.0 833.9h0M250.6 832.9h0M313.0 832.3h0M42.6 797.4h0M63.4 804.7h0M84.2 804.3h0M105.0 805.7h0M125.8 808.4h0M146.6 810.9h0M167.4 794.5h0M188.2 810.1h0M229.8 810.2h0M271.4 813.2h0M292.2 816.8h0M313.0 813.6h0M42.6 812.9h0M63.4 830.3h0M84.2 832.9h0M105.0 831.3h0M125.8 827.2h0M167.4 816.6h0M209.0 803.7h0M229.8 836.1h0M250.6 823.8h0M271.4 824.3h0M313.0 826.1h0M42.6 794.5h0M63.4 808.9h0M84.2 823.5h0M105.0 791.0h0M167.4 793.9h0M188.2 805.4h0M209.0 796.3h0M250.6 800.4h0M271.4 783.2h0M292.2 802.5h0M313.0 811.2h0M42.6 820.2h0M63.4 817.5h0M84.2 825.2h0M105.0 824.5h0M125.8 815.7h0M146.6 817.6h0M167.4 815.6h0M188.2 823.9h0M229.8 805.8h0M250.6 788.7h0M292.2 799.3h0M313.0 806.5h0M42.6 807.9h0M63.4 822.8h0M84.2 813.8h0M105.0 798.8h0M125.8 800.2h0M146.6 808.5h0M167.4 812.6h0M188.2 812.7h0M209.0 806.4h0M250.6 790.8h0M271.4 810.6h0M292.2 801.2h0M313.0 819.6h0M42.6 802.8h0M63.4 824.8h0M84.2 820.6h0M105.0 814.9h0M125.8 810.1h0M146.6 850.0h0M167.4 806.6h0M188.2 792.3h0M209.0 816.0h0M229.8 813.2h0M250.6 802.2h0M42.6 805.7h0M63.4 817.6h0M84.2 813.5h0M105.0 808.9h0M146.6 815.1h0M167.4 792.5h0M188.2 820.9h0M229.8 810.0h0M250.6 806.1h0M271.4 806.2h0M292.2 821.9h0M313.0 795.3h0M42.6 793.1h0M63.4 804.2h0M84.2 814.0h0M105.0 812.3h0M146.6 799.0h0M167.4 806.9h0M188.2 814.0h0M209.0 799.9h0M229.8 819.7h0M292.2 786.0h0M42.6 816.3h0M63.4 827.7h0M84.2 824.3h0M125.8 830.6h0M146.6 834.4h0M167.4 829.1h0M209.0 829.3h0M229.8 825.1h0M250.6 815.5h0M292.2 820.6h0M313.0 806.2h0M42.6 832.1h0M63.4 813.5h0M84.2 817.5h0M105.0 811.5h0M125.8 801.7h0M146.6 791.2h0M167.4 806.2h0M188.2 806.0h0M209.0 803.2h0M229.8 802.5h0M250.6 770.7h0M271.4 820.2h0M292.2 786.6h0M42.6 823.5h0M63.4 807.4h0M84.2 827.0h0M125.8 814.6h0M146.6 823.2h0M167.4 809.4h0M188.2 818.1h0M229.8 810.4h0M250.6 822.5h0M271.4 813.1h0M313.0 798.7h0M42.6 800.4h0M63.4 817.6h0M84.2 812.3h0M105.0 803.0h0M125.8 815.6h0M146.6 782.8h0M188.2 815.3h0M209.0 796.7h0M229.8 813.0h0M250.6 784.5h0M271.4 791.0h0M292.2 784.8h0M313.0 787.0h0M42.6 795.9h0M63.4 809.5h0M84.2 796.0h0M105.0 788.1h0M125.8 794.3h0M146.6 797.6h0M167.4 783.0h0M188.2 793.5h0M229.8 794.4h0M250.6 775.0h0M271.4 781.5h0M292.2 800.9h0M313.0 791.7h0M42.6 799.5h0M63.4 799.6h0M84.2 797.8h0M105.0 795.0h0M125.8 805.9h0M146.6 806.3h0M167.4 784.4h0M188.2 788.9h0M209.0 802.8h0M271.4 804.2h0M292.2 807.8h0M42.6 778.9h0M63.4 794.3h0M84.2 801.8h0M105.0 791.1h0M125.8 787.6h0M167.4 784.3h0M209.0 798.7h0M229.8 785.6h0M271.4 786.5h0M292.2 793.3h0M313.0 778.1h0M42.6 836.7h0M63.4 839.1h0M84.2 843.4h0M105.0 832.2h0M125.8 834.3h0M167.4 829.7h0M188.2 834.8h0M209.0 827.7h0M229.8 832.4h0M250.6 827.5h0M271.4 829.5h0M292.2 832.6h0M313.0 829.1h0M42.6 806.7h0M63.4 823.2h0M84.2 822.8h0M125.8 813.0h0M146.6 814.9h0M167.4 825.8h0M188.2 827.1h0M209.0 820.3h0M229.8 834.7h0M42.6 800.5h0M63.4 820.8h0M84.2 795.9h0M105.0 804.7h0M125.8 798.8h0M146.6 790.8h0M167.4 816.8h0M209.0 788.2h0M250.6 799.2h0M292.2 821.4h0M42.6 826.7h0M63.4 830.5h0M84.2 833.3h0M105.0 832.4h0M125.8 827.1h0M146.6 831.2h0M209.0 819.0h0M229.8 823.4h0M250.6 805.2h0M271.4 820.9h0M292.2 818.4h0M313.0 825.3h0M42.6 828.0h0M63.4 802.4h0M84.2 829.0h0M105.0 809.8h0M125.8 823.9h0M167.4 815.5h0M188.2 806.4h0M209.0 802.3h0M250.6 803.1h0M271.4 829.8h0M313.0 799.6h0M42.6 812.9h0M63.4 795.0h0M84.2 796.1h0M105.0 781.3h0M125.8 789.8h0M167.4 803.5h0M188.2 790.1h0M229.8 790.5h0M250.6 786.2h0M271.4 783.9h0M313.0 787.2h0M42.6 806.2h0M63.4 804.2h0M84.2 809.8h0M125.8 808.0h0M146.6 797.8h0M167.4 800.2h0M188.2 798.5h0M209.0 812.4h0M229.8 810.5h0M250.6 803.3h0M313.0 781.9h0M42.6 826.4h0M63.4 824.2h0M84.2 815.8h0M105.0 828.0h0M146.6 815.9h0M188.2 820.2h0M229.8 824.2h0M250.6 819.0h0M271.4 824.8h0M42.6 811.6h0M63.4 821.9h0M84.2 812.0h0M125.8 791.4h0M188.2 814.4h0M229.8 813.5h0M250.6 798.4h0M292.2 808.8h0M42.6 820.6h0M63.4 809.4h0M84.2 807.1h0M105.0 812.6h0M125.8 803.1h0M146.6 806.8h0M167.4 796.5h0M209.0 815.0h0M250.6 787.0h0M292.2 809.9h0M42.6 805.2h0M84.2 823.5h0M125.8 809.3h0M146.6 812.5h0M167.4 808.3h0M188.2 807.5h0M209.0 812.4h0M229.8 817.2h0M250.6 786.8h0M271.4 811.8h0M292.2 816.4h0M313.0 791.3h0M42.6 814.8h0M63.4 828.8h0M84.2 815.9h0M105.0 824.4h0M125.8 808.3h0M146.6 808.0h0M167.4 820.2h0M250.6 806.4h0M292.2 826.9h0M42.6 812.0h0M63.4 816.0h0M84.2 804.7h0M105.0 800.0h0M125.8 815.7h0M146.6 798.9h0M167.4 810.6h0M188.2 809.2h0M209.0 819.5h0M229.8 818.3h0M271.4 794.9h0M313.0 827.6h0M42.6 836.9h0M63.4 829.7h0M84.2 832.4h0M105.0 819.5h0M125.8 811.3h0M146.6 830.2h0M167.4 824.0h0M188.2 828.6h0M250.6 820.5h0M271.4 827.7h0M292.2 826.8h0M313.0 831.5h0M42.6 793.2h0M63.4 816.0h0M84.2 826.1h0M105.0 810.5h0M146.6 799.8h0M167.4 813.8h0M188.2 819.7h0M209.0 816.8h0M229.8 825.5h0M313.0 808.5h0M42.6 810.6h0M63.4 825.7h0M84.2 820.1h0M105.0 824.3h0M125.8 816.7h0M146.6 827.7h0M167.4 825.3h0M188.2 815.1h0M209.0 831.4h0M229.8 828.0h0M250.6 822.6h0M292.2 807.3h0M313.0 806.8h0M42.6 804.6h0M105.0 799.1h0M125.8 803.9h0M146.6 806.4h0M188.2 811.2h0M209.0 809.0h0M250.6 791.4h0M313.0 802.5h0M42.6 809.2h0M63.4 824.4h0M105.0 807.1h0M125.8 812.4h0M146.6 796.7h0M167.4 802.2h0M188.2 805.6h0M229.8 806.0h0M42.6 823.7h0M63.4 828.0h0M84.2 831.0h0M105.0 823.3h0M125.8 809.2h0M146.6 830.7h0M167.4 819.2h0M209.0 810.7h0M250.6 813.8h0M271.4 822.5h0M292.2 826.9h0M313.0 818.0h0M42.6 787.3h0M63.4 828.8h0M84.2 802.3h0M105.0 798.5h0M146.6 823.2h0M167.4 811.0h0M188.2 813.8h0M209.0 822.3h0M229.8 774.0h0M250.6 796.5h0M271.4 828.8h0M292.2 820.6h0M42.6 781.9h0M63.4 821.7h0M84.2 820.2h0M105.0 808.7h0M125.8 813.7h0M146.6 820.5h0M167.4 801.6h0M188.2 806.1h0M209.0 814.5h0M229.8 770.0h0M250.6 753.3h0M271.4 803.7h0M292.2 797.0h0M313.0 809.8h0M42.6 814.7h0M63.4 809.8h0M84.2 822.1h0M105.0 799.7h0M146.6 815.7h0M209.0 819.4h0M292.2 825.9h0M313.0 809.6h0M42.6 808.6h0M63.4 798.0h0M84.2 809.1h0M105.0 781.2h0M125.8 820.8h0M146.6 815.1h0M167.4 814.1h0M188.2 813.4h0M209.0 811.2h0M229.8 801.5h0M250.6 806.4h0M42.6 834.7h0M63.4 818.9h0M84.2 822.5h0M105.0 817.2h0M125.8 824.0h0M146.6 818.9h0M167.4 830.7h0M209.0 812.7h0M250.6 799.2h0M271.4 823.8h0M292.2 815.9h0M313.0 808.6h0M42.6 787.3h0M63.4 836.8h0M84.2 834.5h0M105.0 813.8h0M146.6 803.0h0M167.4 824.6h0M188.2 824.2h0M209.0 819.0h0M229.8 814.9h0M250.6 809.0h0M271.4 829.3h0M292.2 821.2h0M42.6 825.4h0M63.4 806.5h0M84.2 812.2h0M105.0 820.7h0M125.8 802.2h0M146.6 816.4h0M167.4 814.0h0M188.2 811.5h0M271.4 808.1h0M292.2 808.6h0M42.6 804.5h0M63.4 814.9h0M105.0 818.6h0M167.4 824.0h0M188.2 794.3h0M250.6 809.9h0M271.4 788.2h0M292.2 801.9h0M313.0 825.7h0M42.6 792.3h0M63.4 808.3h0M84.2 802.6h0M105.0 797.0h0M125.8 793.0h0M188.2 796.6h0M209.0 784.2h0M229.8 807.9h0M250.6 777.9h0M271.4 786.8h0M313.0 789.5h0M42.6 830.4h0M63.4 834.5h0M84.2 836.4h0M105.0 834.0h0M125.8 827.1h0M146.6 837.6h0M167.4 825.4h0M188.2 827.9h0M209.0 833.9h0M313.0 832.5h0M42.6 827.6h0M63.4 817.6h0M84.2 821.8h0M105.0 819.1h0M125.8 807.3h0M146.6 807.5h0M167.4 821.5h0M188.2 814.8h0M209.0 813.8h0M271.4 828.1h0M313.0 822.8h0M42.6 840.9h0M63.4 838.9h0M84.2 836.2h0M105.0 837.9h0M125.8 822.1h0M146.6 828.5h0M167.4 835.7h0M188.2 833.9h0M209.0 825.5h0M229.8 831.3h0M250.6 825.5h0M313.0 829.2h0M42.6 819.9h0M63.4 833.4h0M84.2 830.5h0M105.0 815.8h0M125.8 830.1h0M167.4 836.2h0M188.2 819.6h0M209.0 811.4h0M229.8 820.1h0M250.6 823.8h0M271.4 821.7h0M292.2 825.9h0M313.0 816.5h0M42.6 805.7h0M63.4 807.3h0M105.0 815.6h0M125.8 806.3h0M146.6 808.5h0M167.4 801.1h0M188.2 808.2h0M209.0 806.4h0M250.6 796.4h0M292.2 818.0h0M313.0 809.7h0M42.6 800.6h0M63.4 835.2h0M84.2 815.7h0M105.0 808.7h0M167.4 827.9h0M209.0 800.7h0M229.8 827.7h0M271.4 808.5h0M292.2 808.6h0M313.0 804.3h0M42.6 820.4h0M63.4 803.9h0M84.2 798.8h0M105.0 802.7h0M125.8 794.3h0M167.4 790.2h0M188.2 802.5h0M209.0 792.1h0M250.6 811.4h0M271.4 808.7h0M313.0 800.6h0" stroke="#000" stroke-width="2.9" stroke-linecap="round" fill="none"/><path d="M42.6,812.0 46.0,811.9 49.4,811.8 52.9,811.7 56.3,811.5 59.7,811.4 63.1,811.3 66.6,811.2 70.0,811.1 73.4,811.0 76.8,810.9 80.3,810.7 83.7,810.6 87.1,810.5 90.5,810.4 93.9,810.3 97.4,810.1 100.8,810.0 104.2,809.9 107.6,809.8 111.1,809.7 114.5,809.6 117.9,809.5 121.3,809.4 124.7,809.2 128.2,809.1 131.6,808.9 135.0,808.7 138.4,808.5 141.9,808.3 145.3,808.1 148.7,807.9 152.1,807.7 155.6,807.5 159.0,807.3 162.4,807.1 165.8,807.0 169.2,806.8 172.7,806.7 176.1,806.5 179.5,806.4 182.9,806.3 186.4,806.2 189.8,806.0 193.2,805.9 196.6,805.8 200.0,805.7 203.5,805.6 206.9,805.5 210.3,805.5 213.7,805.4 217.2,805.4 220.6,805.3 224.0,805.3 227.4,805.3 230.9,805.3 234.3,805.3 237.7,805.3 241.1,805.4 244.5,805.4 248.0,805.5 251.4,805.6 254.8,805.7 258.2,805.9 261.7,806.0 265.1,806.2 268.5,806.4 271.9,806.6 275.3,806.9 278.8,807.1 282.2,807.4 285.6,807.7 289.0,808.1 292.5,808.4 295.9,808.8 299.3,809.2 302.7,809.7 306.2,810.2 309.6,810.7 313.0,811.2" stroke="#E5352B" stroke-width="2.3" fill="none" stroke-linejoin="round"/><text transform="translate(30.4 870.9) scale(0.98 1.06)" font-size="10" fill="#4d4d4d" text-anchor="end" stroke="#4d4d4d" stroke-width="0.18">0</text><text transform="translate(30.4 806.5) scale(0.98 1.06)" font-size="10" fill="#4d4d4d" text-anchor="end" stroke="#4d4d4d" stroke-width="0.18">10</text><text transform="translate(30.4 742.0) scale(0.98 1.06)" font-size="10" fill="#4d4d4d" text-anchor="end" stroke="#4d4d4d" stroke-width="0.18">20</text><text transform="translate(30.4 677.6) scale(0.98 1.06)" font-size="10" fill="#4d4d4d" text-anchor="end" stroke="#4d4d4d" stroke-width="0.18">30</text><text transform="translate(41.5 885.8) scale(0.98 1.06)" font-size="10" fill="#4d4d4d" stroke="#4d4d4d" stroke-width="0.18">0</text><text transform="translate(145.5 885.8) scale(0.98 1.06)" font-size="10" fill="#4d4d4d" stroke="#4d4d4d" stroke-width="0.18">5</text><text transform="translate(247.9 885.8) scale(0.98 1.06)" font-size="10" fill="#4d4d4d" stroke="#4d4d4d" stroke-width="0.18">10</text><text transform="translate(136.9 896.6) scale(1 1.06)" font-size="10" stroke="#000" stroke-width="0.18">Time Since Admission (Days)</text><text transform="translate(10.7 766.8) rotate(-90)" font-size="10" text-anchor="middle" stroke="#000" stroke-width="0.18">Glucose (mmol/L)</text><text transform="translate(31.8 659.5) scale(0.99 1.06)" font-size="9.9" fill="#1a1a1a" stroke="#1a1a1a" stroke-width="0.18">Trajectory = 3</text><text transform="translate(-0.3 638.9) scale(1.04 1.075)" font-size="16.5" stroke="#000" stroke-width="0.18">D</text><path d="M388.2 836.4H684.7M388.2 772.0H684.7M388.2 707.5H684.7M452.2 666.1V878.2M556.2 666.1V878.2M660.2 666.1V878.2" stroke="#ededed" stroke-width="0.6" fill="none"/><path d="M388.2 868.6H684.7M388.2 804.2H684.7M388.2 739.7H684.7M388.2 675.3H684.7M400.2 666.1V878.2M504.2 666.1V878.2M608.2 666.1V878.2" stroke="#ebebeb" stroke-width="1.1" fill="none"/><path d="M400.2,768.1 462.6,790.6 483.4,765.5 525.0,775.4 545.8,777.3 566.6,796.4 587.4,804.2 649.8,764.2M421.0,776.2 441.8,812.8 504.2,804.5 525.0,732.4 545.8,827.0 629.0,795.2 649.8,775.5 670.6,801.8M400.2,823.0 421.0,825.8 441.8,836.4 462.6,821.7 483.4,831.9 504.2,826.4 525.0,821.0 545.8,791.6 566.6,818.5 587.4,823.3 608.2,794.2 629.0,776.1 649.8,821.6 670.6,826.2M441.8,831.1 483.4,823.1 504.2,826.9 525.0,828.8 545.8,823.0 566.6,835.2 587.4,812.1 608.2,823.4 629.0,806.5 649.8,829.9 670.6,829.5M400.2,767.4 421.0,837.3 462.6,801.7 525.0,805.0 587.4,761.8 629.0,817.0 649.8,772.3 670.6,819.2M441.8,798.1 462.6,792.0 483.4,785.0 504.2,791.9 525.0,777.6 545.8,786.2 566.6,778.7 587.4,752.8 608.2,795.8 629.0,740.5 670.6,750.5M400.2,758.5 483.4,813.1 504.2,810.1 525.0,808.4 545.8,834.3 566.6,805.3 608.2,787.8 629.0,768.2 649.8,805.8M400.2,801.4 441.8,805.1 462.6,816.0 483.4,765.1 504.2,815.3 525.0,812.5 545.8,788.9 566.6,787.0 587.4,759.0 608.2,815.7 649.8,753.5M400.2,780.0 421.0,781.1 462.6,841.8 483.4,789.1 504.2,745.8 525.0,769.3 545.8,746.2 566.6,774.2 587.4,798.0 608.2,795.1 629.0,756.9 649.8,748.6M400.2,836.1 421.0,795.0 441.8,830.2 462.6,826.9 483.4,817.8 545.8,812.1 566.6,826.0 587.4,825.0 608.2,812.7 629.0,791.3 649.8,816.5 670.6,803.3M400.2,738.8 421.0,768.5 441.8,775.4 462.6,783.5 483.4,762.9 525.0,759.2 566.6,746.1 608.2,766.9 629.0,753.0 649.8,753.1 670.6,786.4M421.0,802.1 483.4,764.6 566.6,823.6 587.4,812.3 608.2,806.3 629.0,824.7M400.2,814.9 421.0,770.0 441.8,802.5 504.2,759.5 525.0,818.8 566.6,781.8 608.2,778.2 629.0,772.9 649.8,768.6 670.6,775.1M400.2,734.3 421.0,758.8 441.8,762.4 462.6,762.8 504.2,743.9 525.0,760.7 545.8,737.0 566.6,752.8 587.4,759.7 608.2,760.3 629.0,748.4 649.8,738.2 670.6,758.0M400.2,812.6 441.8,802.6 462.6,798.5 483.4,802.1 525.0,794.1 545.8,817.8 587.4,757.3 649.8,781.6 670.6,818.2M400.2,813.4 421.0,794.0 441.8,811.9 483.4,815.9 504.2,747.7 525.0,798.8 545.8,765.2 566.6,797.0 608.2,773.5 649.8,750.6 670.6,797.7M400.2,781.8 421.0,802.3 441.8,791.4 483.4,828.6 504.2,827.3 545.8,786.5 587.4,810.6 608.2,736.8 629.0,699.6 649.8,808.0 670.6,809.5M400.2,794.2 421.0,765.7 462.6,792.5 483.4,789.9 504.2,785.1 545.8,796.7 608.2,807.8 629.0,758.8 649.8,804.3M421.0,833.6 441.8,812.1 462.6,787.4 483.4,829.3 504.2,831.1 629.0,804.0 649.8,826.4M400.2,819.2 421.0,833.1 441.8,813.8 483.4,791.5 504.2,806.2 525.0,814.6 545.8,824.6 566.6,796.3 608.2,822.7 629.0,761.5 670.6,804.9M421.0,773.6 441.8,808.9 462.6,776.7 504.2,817.5 545.8,810.8 566.6,795.5 587.4,759.7 629.0,722.8 649.8,762.9 670.6,752.2M421.0,794.5 441.8,800.8 462.6,822.3 483.4,770.7 504.2,814.0 525.0,803.5 545.8,727.0 566.6,786.2 587.4,793.9 608.2,803.7 629.0,787.6 649.8,805.5 670.6,802.9M400.2,799.7 421.0,816.3 441.8,823.0 462.6,785.2 483.4,782.2 525.0,826.8 545.8,790.9 587.4,828.8 649.8,778.2 670.6,778.0M400.2,747.5 421.0,787.1 441.8,778.7 483.4,792.2 504.2,814.6 525.0,806.5 545.8,780.2 608.2,783.7 629.0,792.6 670.6,781.0M400.2,798.2 441.8,807.1 525.0,796.2 545.8,789.1 566.6,781.5 587.4,796.0 608.2,838.8 629.0,796.1 670.6,791.2M400.2,799.0 483.4,761.6 525.0,771.3 545.8,818.0 566.6,791.3 587.4,841.4 608.2,793.9 629.0,794.4 649.8,800.2 670.6,803.2M400.2,781.3 421.0,811.8 441.8,792.2 462.6,744.1 483.4,774.5 504.2,788.3 545.8,772.3 587.4,790.8 608.2,795.8 670.6,733.0M400.2,805.9 441.8,835.1 483.4,831.1 525.0,830.5 545.8,821.5 566.6,826.9 587.4,823.4 608.2,811.5 629.0,803.4 649.8,822.3 670.6,794.1M400.2,791.2 421.0,795.3 462.6,815.7 483.4,787.2 504.2,798.4 545.8,765.0 566.6,826.7 587.4,735.0 608.2,772.4 629.0,847.4 670.6,815.0M400.2,820.3 421.0,823.2 441.8,795.2 504.2,826.6 525.0,815.3 545.8,802.8 587.4,781.1 608.2,815.3 629.0,791.1 670.6,804.8M400.2,772.1 441.8,800.5 504.2,724.0 525.0,785.3 545.8,806.0 566.6,766.4 649.8,767.2 670.6,767.0M400.2,763.9 441.8,805.9 462.6,794.2 483.4,802.6 504.2,824.3 545.8,782.1 566.6,776.3 587.4,777.5 608.2,819.8 629.0,788.8 670.6,810.4M400.2,824.8 421.0,820.0 462.6,796.5 483.4,792.9 525.0,796.5 587.4,804.4 608.2,787.9 649.8,803.6 670.6,820.3M400.2,826.5 421.0,776.7 441.8,816.3 462.6,824.7 483.4,803.4 504.2,808.0 525.0,809.7 545.8,778.7 566.6,799.6 587.4,797.2 629.0,779.0 649.8,811.5 670.6,770.4M400.2,819.7 421.0,811.0 462.6,823.6 483.4,814.8 504.2,814.8 525.0,811.3 545.8,819.9 566.6,829.8 608.2,795.9 649.8,793.4 670.6,814.5M421.0,771.7 441.8,777.0 462.6,778.9 483.4,786.5 504.2,714.6 525.0,785.5 545.8,800.0 566.6,754.1 587.4,766.8 608.2,768.8 629.0,753.6 649.8,793.4 670.6,786.2M400.2,811.2 421.0,788.8 462.6,774.7 504.2,800.9 545.8,777.8 566.6,812.4 587.4,754.1 608.2,784.3 649.8,827.0M400.2,774.1 421.0,793.5 441.8,786.8 525.0,786.7 545.8,780.8 566.6,808.1 587.4,791.1 629.0,782.1 670.6,775.8M441.8,821.5 483.4,811.1 504.2,812.9 525.0,813.2 545.8,814.2 587.4,815.6 608.2,821.3 629.0,782.9 649.8,789.7 670.6,802.5M400.2,761.3 421.0,778.9 441.8,796.6 462.6,795.6 483.4,787.3 525.0,755.8 587.4,766.1 608.2,770.6 629.0,756.7 649.8,765.3M400.2,800.5 421.0,826.7 525.0,800.1 545.8,776.9 566.6,805.2 587.4,824.1 649.8,824.2 670.6,772.7M400.2,753.4 421.0,789.1 441.8,755.8 462.6,782.0 483.4,777.4 525.0,755.8 566.6,815.2 608.2,779.2M421.0,775.4 483.4,781.3 504.2,773.4 566.6,765.2 587.4,797.5 608.2,798.1 629.0,757.5 649.8,757.0 670.6,765.8M400.2,800.1 421.0,815.9 462.6,812.8 483.4,822.0 504.2,818.1 545.8,781.6 566.6,804.9 587.4,808.3 608.2,772.4 629.0,783.8 670.6,821.3M400.2,815.0 441.8,778.2 462.6,805.0 483.4,785.4 504.2,802.5 525.0,815.1 587.4,778.6 608.2,721.2 629.0,768.1 649.8,793.9 670.6,785.0M400.2,790.6 421.0,770.5 441.8,788.8 483.4,802.4 504.2,806.7 525.0,828.6 545.8,804.6 566.6,791.5 629.0,795.9 649.8,823.3M400.2,826.2 421.0,817.7 441.8,776.8 462.6,768.6 483.4,760.8 525.0,717.4 545.8,780.1 566.6,791.1 587.4,791.6 608.2,802.9 649.8,791.4M400.2,780.8 421.0,772.1 441.8,785.8 483.4,805.9 525.0,749.2 566.6,760.8 587.4,772.6 608.2,757.4 629.0,774.5 649.8,721.9 670.6,767.1M400.2,754.7 421.0,714.2 441.8,818.9 462.6,768.8 483.4,747.4 504.2,778.2 525.0,782.4 545.8,798.6 587.4,763.6 608.2,788.0 629.0,792.6M400.2,713.3 421.0,768.0 441.8,810.4 483.4,714.6 504.2,786.5 525.0,763.4 545.8,757.1 566.6,788.8 608.2,783.5 629.0,753.0 649.8,770.5 670.6,781.1M400.2,840.8 421.0,831.3 462.6,821.0 483.4,831.0 504.2,813.8 525.0,833.4 566.6,771.8 587.4,810.1 608.2,816.5 629.0,794.6 649.8,801.6 670.6,822.9M400.2,775.8 462.6,821.5 483.4,791.3 525.0,791.5 545.8,812.0 566.6,798.2 587.4,777.9 608.2,817.5 629.0,797.7 670.6,776.5M421.0,802.6 441.8,768.5 483.4,813.4 504.2,761.7 525.0,816.7 545.8,753.6 566.6,806.6 608.2,820.7 629.0,785.1 670.6,791.8M421.0,769.2 504.2,756.3 545.8,770.4 566.6,757.9 587.4,761.0 608.2,776.5 649.8,760.2 670.6,805.0M421.0,807.0 441.8,818.3 462.6,813.0 483.4,818.3 525.0,789.2 545.8,803.5 566.6,823.1 587.4,813.6 608.2,819.6 629.0,771.3 649.8,771.4 670.6,809.9M400.2,780.2 421.0,786.7 441.8,770.9 462.6,826.5 483.4,816.7 525.0,800.8 545.8,748.9 566.6,797.1 587.4,800.2 608.2,792.4 629.0,774.5 649.8,759.4 670.6,800.5M400.2,753.3 421.0,786.5 441.8,762.7 483.4,819.2 545.8,815.2 587.4,800.6 608.2,761.3 649.8,806.5 670.6,764.1M400.2,838.6 421.0,789.8 441.8,832.5 462.6,830.9 483.4,826.0 525.0,830.1 545.8,821.7 566.6,833.2 587.4,821.1 608.2,819.7 629.0,803.7 649.8,762.7M400.2,825.5 421.0,807.8 462.6,824.1 504.2,812.4 566.6,833.7 587.4,805.3 608.2,776.2 629.0,803.2 649.8,816.4 670.6,798.6M400.2,790.5 441.8,791.8 462.6,753.4 545.8,758.0 587.4,804.1 608.2,784.1 629.0,774.6 649.8,795.6 670.6,777.4M400.2,839.0 421.0,831.7 441.8,824.6 525.0,737.4 545.8,821.7 566.6,820.8 587.4,822.1 649.8,819.6 670.6,790.5M421.0,742.7 441.8,825.1 462.6,794.7 545.8,700.0 566.6,828.9 608.2,804.9 649.8,826.4 670.6,805.5M400.2,742.9 421.0,814.0 441.8,794.0 462.6,772.6 483.4,763.1 504.2,762.6 525.0,825.4 545.8,767.2 566.6,764.7 587.4,778.8 608.2,766.2 629.0,778.0 649.8,787.9 670.6,770.8M421.0,780.8 441.8,797.6 462.6,806.5 483.4,828.2 545.8,782.4 566.6,820.7 587.4,785.5 608.2,778.3 629.0,758.2 649.8,806.2 670.6,781.7M400.2,791.4 421.0,804.8 483.4,805.1 504.2,804.0 525.0,815.1 545.8,776.7 566.6,788.3 587.4,819.1 608.2,811.6 629.0,785.4 649.8,810.3M400.2,801.6 421.0,818.6 441.8,800.6 462.6,808.4 504.2,791.8 545.8,797.7 566.6,821.5 587.4,750.9 608.2,813.0 629.0,776.8 670.6,792.9M421.0,827.8 441.8,792.8 462.6,819.9 483.4,774.3 504.2,807.3 525.0,834.6 545.8,816.5 566.6,798.6 608.2,727.9 629.0,786.0 670.6,819.7M421.0,814.0 504.2,764.0 525.0,809.3 566.6,830.2 587.4,808.0 608.2,772.0 649.8,792.6M400.2,784.0 421.0,808.7 441.8,793.6 462.6,829.1 483.4,780.6 504.2,770.2 525.0,792.4 545.8,802.3 566.6,795.9 587.4,816.6 629.0,759.2M400.2,817.6 421.0,808.5 462.6,806.4 483.4,772.8 504.2,792.6 566.6,796.3 587.4,775.1 608.2,797.5 629.0,784.9 670.6,819.0M400.2,743.4 421.0,788.3 441.8,776.9 462.6,795.1 483.4,775.2 504.2,739.8 525.0,758.3 545.8,767.1 566.6,786.9 629.0,768.7 649.8,761.0 670.6,779.4M400.2,797.4 421.0,816.6 462.6,778.5 483.4,732.0 566.6,809.7 608.2,799.0 629.0,788.6 649.8,806.6 670.6,785.9M400.2,744.2 421.0,814.7 462.6,826.7 483.4,812.2 504.2,792.1 525.0,772.6 545.8,800.6 566.6,733.1 649.8,682.3 670.6,800.1M400.2,832.8 421.0,810.7 441.8,802.7 462.6,785.2 483.4,810.2 504.2,781.3 525.0,722.2 566.6,787.6 587.4,803.1 608.2,791.8 629.0,795.3 670.6,787.1M400.2,822.9 441.8,797.8 462.6,810.5 483.4,789.4 504.2,823.8 525.0,823.2 545.8,782.0 566.6,830.9 587.4,766.0 629.0,772.5 670.6,825.6M400.2,822.1 441.8,797.1 462.6,798.2 483.4,805.7 504.2,754.9 525.0,804.7 587.4,774.8 608.2,792.4 629.0,790.1 649.8,809.7M400.2,780.9 421.0,777.4 462.6,802.8 504.2,791.5 525.0,794.6 566.6,794.0 649.8,809.3M400.2,803.4 421.0,824.8 441.8,824.0 462.6,784.7 483.4,801.8 504.2,822.8 525.0,784.0 545.8,809.5 587.4,805.1 608.2,822.2 670.6,824.1M400.2,803.0 421.0,765.9 441.8,797.0 483.4,806.7 525.0,819.5 566.6,799.5 587.4,754.7 629.0,764.6 670.6,799.5M400.2,833.5 421.0,788.5 441.8,814.4 462.6,813.8 483.4,809.6 504.2,815.9 545.8,777.9 587.4,800.4 608.2,822.9 670.6,775.7M421.0,789.0 462.6,791.0 483.4,769.5 504.2,771.5 525.0,764.5 545.8,747.1 566.6,774.4 587.4,763.8 608.2,753.8 649.8,802.3 670.6,755.5M400.2,764.3 421.0,768.5 441.8,766.7 462.6,783.6 483.4,786.1 504.2,719.0 525.0,771.5 545.8,751.1 566.6,778.4 649.8,759.7M400.2,770.4 483.4,808.4 525.0,790.6 545.8,808.9 566.6,803.0 587.4,804.0 608.2,789.7 629.0,784.3M400.2,808.7 421.0,834.2 441.8,822.8 483.4,832.3 504.2,837.4 525.0,829.8 545.8,815.0 566.6,837.8 587.4,814.5 649.8,820.7 670.6,827.3M400.2,803.3 441.8,815.5 462.6,808.5 483.4,824.8 504.2,828.4 525.0,794.4 545.8,802.0 566.6,818.9 587.4,762.2 608.2,780.5M400.2,835.2 441.8,804.6 462.6,804.9 483.4,823.5 504.2,814.2 525.0,825.4 545.8,792.2 566.6,795.9 587.4,807.3 608.2,824.4 629.0,830.3 649.8,825.8 670.6,805.9M400.2,828.0 421.0,819.8 441.8,804.0 462.6,832.4 483.4,799.6 504.2,823.1 545.8,793.1 566.6,801.1 587.4,818.1 629.0,791.8 649.8,838.1M400.2,831.6 441.8,766.8 462.6,810.0 504.2,762.8 525.0,815.3 545.8,789.3 566.6,811.2 608.2,772.8M400.2,808.8 421.0,779.6 504.2,742.3 525.0,775.9 587.4,767.7 608.2,774.3 629.0,763.8 649.8,749.9 670.6,760.2M400.2,769.7 421.0,811.8 441.8,713.3 462.6,813.8 483.4,817.0 504.2,778.9 566.6,801.2 608.2,782.2 670.6,812.2M400.2,808.6 441.8,778.0 462.6,810.1 525.0,814.3 566.6,783.1 587.4,743.0 608.2,713.4 629.0,785.2 649.8,826.3 670.6,783.8M400.2,824.2 421.0,818.0 462.6,834.6 483.4,738.0 504.2,800.5 525.0,802.0 545.8,804.0 566.6,725.2 587.4,811.0 629.0,801.3 670.6,815.9M441.8,734.2 483.4,807.7 504.2,776.6 545.8,787.6 566.6,807.9 587.4,797.1 649.8,824.2 670.6,794.4M400.2,791.5 421.0,831.7 462.6,831.9 483.4,824.7 504.2,828.2 525.0,826.8 545.8,796.9 587.4,794.5 629.0,782.6 649.8,801.9 670.6,828.3M421.0,768.7 441.8,791.9 462.6,804.2 483.4,790.2 504.2,809.6 545.8,754.8 566.6,793.5 587.4,770.8 629.0,776.1M421.0,797.2 462.6,806.6 483.4,821.1 504.2,810.4 566.6,805.3 587.4,809.4 608.2,815.1 629.0,771.4 649.8,815.4 670.6,828.2M400.2,807.2 421.0,829.8 462.6,815.1 483.4,799.9 525.0,828.3 545.8,799.4 587.4,771.0 649.8,791.7M421.0,783.0 462.6,789.1 483.4,772.4 504.2,799.1 525.0,819.8 566.6,816.8 587.4,783.0 608.2,803.5 629.0,759.6 649.8,773.5M421.0,774.8 441.8,780.9 462.6,794.4 483.4,809.7 504.2,792.5 525.0,825.0 545.8,826.4 566.6,791.2 587.4,763.5 608.2,816.2 629.0,796.8M441.8,795.9 462.6,782.3 483.4,794.7 504.2,791.9 566.6,810.6 587.4,796.1" stroke="#bebebe" stroke-width="0.9" fill="none"/><path d="M400.2 768.1h0M462.6 790.6h0M483.4 765.5h0M525.0 775.4h0M545.8 777.3h0M566.6 796.4h0M587.4 804.2h0M649.8 764.2h0M421.0 776.2h0M441.8 812.8h0M504.2 804.5h0M525.0 732.4h0M545.8 827.0h0M629.0 795.2h0M649.8 775.5h0M670.6 801.8h0M400.2 823.0h0M421.0 825.8h0M441.8 836.4h0M462.6 821.7h0M483.4 831.9h0M504.2 826.4h0M525.0 821.0h0M545.8 791.6h0M566.6 818.5h0M587.4 823.3h0M608.2 794.2h0M629.0 776.1h0M649.8 821.6h0M670.6 826.2h0M441.8 831.1h0M483.4 823.1h0M504.2 826.9h0M525.0 828.8h0M545.8 823.0h0M566.6 835.2h0M587.4 812.1h0M608.2 823.4h0M629.0 806.5h0M649.8 829.9h0M670.6 829.5h0M400.2 767.4h0M421.0 837.3h0M462.6 801.7h0M525.0 805.0h0M587.4 761.8h0M629.0 817.0h0M649.8 772.3h0M670.6 819.2h0M441.8 798.1h0M462.6 792.0h0M483.4 785.0h0M504.2 791.9h0M525.0 777.6h0M545.8 786.2h0M566.6 778.7h0M587.4 752.8h0M608.2 795.8h0M629.0 740.5h0M670.6 750.5h0M400.2 758.5h0M483.4 813.1h0M504.2 810.1h0M525.0 808.4h0M545.8 834.3h0M566.6 805.3h0M608.2 787.8h0M629.0 768.2h0M649.8 805.8h0M400.2 801.4h0M441.8 805.1h0M462.6 816.0h0M483.4 765.1h0M504.2 815.3h0M525.0 812.5h0M545.8 788.9h0M566.6 787.0h0M587.4 759.0h0M608.2 815.7h0M649.8 753.5h0M400.2 780.0h0M421.0 781.1h0M462.6 841.8h0M483.4 789.1h0M504.2 745.8h0M525.0 769.3h0M545.8 746.2h0M566.6 774.2h0M587.4 798.0h0M608.2 795.1h0M629.0 756.9h0M649.8 748.6h0M400.2 836.1h0M421.0 795.0h0M441.8 830.2h0M462.6 826.9h0M483.4 817.8h0M545.8 812.1h0M566.6 826.0h0M587.4 825.0h0M608.2 812.7h0M629.0 791.3h0M649.8 816.5h0M670.6 803.3h0M400.2 738.8h0M421.0 768.5h0M441.8 775.4h0M462.6 783.5h0M483.4 762.9h0M525.0 759.2h0M566.6 746.1h0M608.2 766.9h0M629.0 753.0h0M649.8 753.1h0M670.6 786.4h0M421.0 802.1h0M483.4 764.6h0M566.6 823.6h0M587.4 812.3h0M608.2 806.3h0M629.0 824.7h0M400.2 814.9h0M421.0 770.0h0M441.8 802.5h0M504.2 759.5h0M525.0 818.8h0M566.6 781.8h0M608.2 778.2h0M629.0 772.9h0M649.8 768.6h0M670.6 775.1h0M400.2 734.3h0M421.0 758.8h0M441.8 762.4h0M462.6 762.8h0M504.2 743.9h0M525.0 760.7h0M545.8 737.0h0M566.6 752.8h0M587.4 759.7h0M608.2 760.3h0M629.0 748.4h0M649.8 738.2h0M670.6 758.0h0M400.2 812.6h0M441.8 802.6h0M462.6 798.5h0M483.4 802.1h0M525.0 794.1h0M545.8 817.8h0M587.4 757.3h0M649.8 781.6h0M670.6 818.2h0M400.2 813.4h0M421.0 794.0h0M441.8 811.9h0M483.4 815.9h0M504.2 747.7h0M525.0 798.8h0M545.8 765.2h0M566.6 797.0h0M608.2 773.5h0M649.8 750.6h0M670.6 797.7h0M400.2 781.8h0M421.0 802.3h0M441.8 791.4h0M483.4 828.6h0M504.2 827.3h0M545.8 786.5h0M587.4 810.6h0M608.2 736.8h0M629.0 699.6h0M649.8 808.0h0M670.6 809.5h0M400.2 794.2h0M421.0 765.7h0M462.6 792.5h0M483.4 789.9h0M504.2 785.1h0M545.8 796.7h0M608.2 807.8h0M629.0 758.8h0M649.8 804.3h0M421.0 833.6h0M441.8 812.1h0M462.6 787.4h0M483.4 829.3h0M504.2 831.1h0M629.0 804.0h0M649.8 826.4h0M400.2 819.2h0M421.0 833.1h0M441.8 813.8h0M483.4 791.5h0M504.2 806.2h0M525.0 814.6h0M545.8 824.6h0M566.6 796.3h0M608.2 822.7h0M629.0 761.5h0M670.6 804.9h0M421.0 773.6h0M441.8 808.9h0M462.6 776.7h0M504.2 817.5h0M545.8 810.8h0M566.6 795.5h0M587.4 759.7h0M629.0 722.8h0M649.8 762.9h0M670.6 752.2h0M421.0 794.5h0M441.8 800.8h0M462.6 822.3h0M483.4 770.7h0M504.2 814.0h0M525.0 803.5h0M545.8 727.0h0M566.6 786.2h0M587.4 793.9h0M608.2 803.7h0M629.0 787.6h0M649.8 805.5h0M670.6 802.9h0M400.2 799.7h0M421.0 816.3h0M441.8 823.0h0M462.6 785.2h0M483.4 782.2h0M525.0 826.8h0M545.8 790.9h0M587.4 828.8h0M649.8 778.2h0M670.6 778.0h0M400.2 747.5h0M421.0 787.1h0M441.8 778.7h0M483.4 792.2h0M504.2 814.6h0M525.0 806.5h0M545.8 780.2h0M608.2 783.7h0M629.0 792.6h0M670.6 781.0h0M400.2 798.2h0M441.8 807.1h0M525.0 796.2h0M545.8 789.1h0M566.6 781.5h0M587.4 796.0h0M608.2 838.8h0M629.0 796.1h0M670.6 791.2h0M400.2 799.0h0M483.4 761.6h0M525.0 771.3h0M545.8 818.0h0M566.6 791.3h0M587.4 841.4h0M608.2 793.9h0M629.0 794.4h0M649.8 800.2h0M670.6 803.2h0M400.2 781.3h0M421.0 811.8h0M441.8 792.2h0M462.6 744.1h0M483.4 774.5h0M504.2 788.3h0M545.8 772.3h0M587.4 790.8h0M608.2 795.8h0M670.6 733.0h0M400.2 805.9h0M441.8 835.1h0M483.4 831.1h0M525.0 830.5h0M545.8 821.5h0M566.6 826.9h0M587.4 823.4h0M608.2 811.5h0M629.0 803.4h0M649.8 822.3h0M670.6 794.1h0M400.2 791.2h0M421.0 795.3h0M462.6 815.7h0M483.4 787.2h0M504.2 798.4h0M545.8 765.0h0M566.6 826.7h0M587.4 735.0h0M608.2 772.4h0M629.0 847.4h0M670.6 815.0h0M400.2 820.3h0M421.0 823.2h0M441.8 795.2h0M504.2 826.6h0M525.0 815.3h0M545.8 802.8h0M587.4 781.1h0M608.2 815.3h0M629.0 791.1h0M670.6 804.8h0M400.2 772.1h0M441.8 800.5h0M504.2 724.0h0M525.0 785.3h0M545.8 806.0h0M566.6 766.4h0M649.8 767.2h0M670.6 767.0h0M400.2 763.9h0M441.8 805.9h0M462.6 794.2h0M483.4 802.6h0M504.2 824.3h0M545.8 782.1h0M566.6 776.3h0M587.4 777.5h0M608.2 819.8h0M629.0 788.8h0M670.6 810.4h0M400.2 824.8h0M421.0 820.0h0M462.6 796.5h0M483.4 792.9h0M525.0 796.5h0M587.4 804.4h0M608.2 787.9h0M649.8 803.6h0M670.6 820.3h0M400.2 826.5h0M421.0 776.7h0M441.8 816.3h0M462.6 824.7h0M483.4 803.4h0M504.2 808.0h0M525.0 809.7h0M545.8 778.7h0M566.6 799.6h0M587.4 797.2h0M629.0 779.0h0M649.8 811.5h0M670.6 770.4h0M400.2 819.7h0M421.0 811.0h0M462.6 823.6h0M483.4 814.8h0M504.2 814.8h0M525.0 811.3h0M545.8 819.9h0M566.6 829.8h0M608.2 795.9h0M649.8 793.4h0M670.6 814.5h0M421.0 771.7h0M441.8 777.0h0M462.6 778.9h0M483.4 786.5h0M504.2 714.6h0M525.0 785.5h0M545.8 800.0h0M566.6 754.1h0M587.4 766.8h0M608.2 768.8h0M629.0 753.6h0M649.8 793.4h0M670.6 786.2h0M400.2 811.2h0M421.0 788.8h0M462.6 774.7h0M504.2 800.9h0M545.8 777.8h0M566.6 812.4h0M587.4 754.1h0M608.2 784.3h0M649.8 827.0h0M400.2 774.1h0M421.0 793.5h0M441.8 786.8h0M525.0 786.7h0M545.8 780.8h0M566.6 808.1h0M587.4 791.1h0M629.0 782.1h0M670.6 775.8h0M441.8 821.5h0M483.4 811.1h0M504.2 812.9h0M525.0 813.2h0M545.8 814.2h0M587.4 815.6h0M608.2 821.3h0M629.0 782.9h0M649.8 789.7h0M670.6 802.5h0M400.2 761.3h0M421.0 778.9h0M441.8 796.6h0M462.6 795.6h0M483.4 787.3h0M525.0 755.8h0M587.4 766.1h0M608.2 770.6h0M629.0 756.7h0M649.8 765.3h0M400.2 800.5h0M421.0 826.7h0M525.0 800.1h0M545.8 776.9h0M566.6 805.2h0M587.4 824.1h0M649.8 824.2h0M670.6 772.7h0M400.2 753.4h0M421.0 789.1h0M441.8 755.8h0M462.6 782.0h0M483.4 777.4h0M525.0 755.8h0M566.6 815.2h0M608.2 779.2h0M421.0 775.4h0M483.4 781.3h0M504.2 773.4h0M566.6 765.2h0M587.4 797.5h0M608.2 798.1h0M629.0 757.5h0M649.8 757.0h0M670.6 765.8h0M400.2 800.1h0M421.0 815.9h0M462.6 812.8h0M483.4 822.0h0M504.2 818.1h0M545.8 781.6h0M566.6 804.9h0M587.4 808.3h0M608.2 772.4h0M629.0 783.8h0M670.6 821.3h0M400.2 815.0h0M441.8 778.2h0M462.6 805.0h0M483.4 785.4h0M504.2 802.5h0M525.0 815.1h0M587.4 778.6h0M608.2 721.2h0M629.0 768.1h0M649.8 793.9h0M670.6 785.0h0M400.2 790.6h0M421.0 770.5h0M441.8 788.8h0M483.4 802.4h0M504.2 806.7h0M525.0 828.6h0M545.8 804.6h0M566.6 791.5h0M629.0 795.9h0M649.8 823.3h0M400.2 826.2h0M421.0 817.7h0M441.8 776.8h0M462.6 768.6h0M483.4 760.8h0M525.0 717.4h0M545.8 780.1h0M566.6 791.1h0M587.4 791.6h0M608.2 802.9h0M649.8 791.4h0M400.2 780.8h0M421.0 772.1h0M441.8 785.8h0M483.4 805.9h0M525.0 749.2h0M566.6 760.8h0M587.4 772.6h0M608.2 757.4h0M629.0 774.5h0M649.8 721.9h0M670.6 767.1h0M400.2 754.7h0M421.0 714.2h0M441.8 818.9h0M462.6 768.8h0M483.4 747.4h0M504.2 778.2h0M525.0 782.4h0M545.8 798.6h0M587.4 763.6h0M608.2 788.0h0M629.0 792.6h0M400.2 713.3h0M421.0 768.0h0M441.8 810.4h0M483.4 714.6h0M504.2 786.5h0M525.0 763.4h0M545.8 757.1h0M566.6 788.8h0M608.2 783.5h0M629.0 753.0h0M649.8 770.5h0M670.6 781.1h0M400.2 840.8h0M421.0 831.3h0M462.6 821.0h0M483.4 831.0h0M504.2 813.8h0M525.0 833.4h0M566.6 771.8h0M587.4 810.1h0M608.2 816.5h0M629.0 794.6h0M649.8 801.6h0M670.6 822.9h0M400.2 775.8h0M462.6 821.5h0M483.4 791.3h0M525.0 791.5h0M545.8 812.0h0M566.6 798.2h0M587.4 777.9h0M608.2 817.5h0M629.0 797.7h0M670.6 776.5h0M421.0 802.6h0M441.8 768.5h0M483.4 813.4h0M504.2 761.7h0M525.0 816.7h0M545.8 753.6h0M566.6 806.6h0M608.2 820.7h0M629.0 785.1h0M670.6 791.8h0M421.0 769.2h0M504.2 756.3h0M545.8 770.4h0M566.6 757.9h0M587.4 761.0h0M608.2 776.5h0M649.8 760.2h0M670.6 805.0h0M421.0 807.0h0M441.8 818.3h0M462.6 813.0h0M483.4 818.3h0M525.0 789.2h0M545.8 803.5h0M566.6 823.1h0M587.4 813.6h0M608.2 819.6h0M629.0 771.3h0M649.8 771.4h0M670.6 809.9h0M400.2 780.2h0M421.0 786.7h0M441.8 770.9h0M462.6 826.5h0M483.4 816.7h0M525.0 800.8h0M545.8 748.9h0M566.6 797.1h0M587.4 800.2h0M608.2 792.4h0M629.0 774.5h0M649.8 759.4h0M670.6 800.5h0M400.2 753.3h0M421.0 786.5h0M441.8 762.7h0M483.4 819.2h0M545.8 815.2h0M587.4 800.6h0M608.2 761.3h0M649.8 806.5h0M670.6 764.1h0M400.2 838.6h0M421.0 789.8h0M441.8 832.5h0M462.6 830.9h0M483.4 826.0h0M525.0 830.1h0M545.8 821.7h0M566.6 833.2h0M587.4 821.1h0M608.2 819.7h0M629.0 803.7h0M649.8 762.7h0M400.2 825.5h0M421.0 807.8h0M462.6 824.1h0M504.2 812.4h0M566.6 833.7h0M587.4 805.3h0M608.2 776.2h0M629.0 803.2h0M649.8 816.4h0M670.6 798.6h0M400.2 790.5h0M441.8 791.8h0M462.6 753.4h0M545.8 758.0h0M587.4 804.1h0M608.2 784.1h0M629.0 774.6h0M649.8 795.6h0M670.6 777.4h0M400.2 839.0h0M421.0 831.7h0M441.8 824.6h0M525.0 737.4h0M545.8 821.7h0M566.6 820.8h0M587.4 822.1h0M649.8 819.6h0M670.6 790.5h0M421.0 742.7h0M441.8 825.1h0M462.6 794.7h0M545.8 700.0h0M566.6 828.9h0M608.2 804.9h0M649.8 826.4h0M670.6 805.5h0M400.2 742.9h0M421.0 814.0h0M441.8 794.0h0M462.6 772.6h0M483.4 763.1h0M504.2 762.6h0M525.0 825.4h0M545.8 767.2h0M566.6 764.7h0M587.4 778.8h0M608.2 766.2h0M629.0 778.0h0M649.8 787.9h0M670.6 770.8h0M421.0 780.8h0M441.8 797.6h0M462.6 806.5h0M483.4 828.2h0M545.8 782.4h0M566.6 820.7h0M587.4 785.5h0M608.2 778.3h0M629.0 758.2h0M649.8 806.2h0M670.6 781.7h0M400.2 791.4h0M421.0 804.8h0M483.4 805.1h0M504.2 804.0h0M525.0 815.1h0M545.8 776.7h0M566.6 788.3h0M587.4 819.1h0M608.2 811.6h0M629.0 785.4h0M649.8 810.3h0M400.2 801.6h0M421.0 818.6h0M441.8 800.6h0M462.6 808.4h0M504.2 791.8h0M545.8 797.7h0M566.6 821.5h0M587.4 750.9h0M608.2 813.0h0M629.0 776.8h0M670.6 792.9h0M421.0 827.8h0M441.8 792.8h0M462.6 819.9h0M483.4 774.3h0M504.2 807.3h0M525.0 834.6h0M545.8 816.5h0M566.6 798.6h0M608.2 727.9h0M629.0 786.0h0M670.6 819.7h0M421.0 814.0h0M504.2 764.0h0M525.0 809.3h0M566.6 830.2h0M587.4 808.0h0M608.2 772.0h0M649.8 792.6h0M400.2 784.0h0M421.0 808.7h0M441.8 793.6h0M462.6 829.1h0M483.4 780.6h0M504.2 770.2h0M525.0 792.4h0M545.8 802.3h0M566.6 795.9h0M587.4 816.6h0M629.0 759.2h0M400.2 817.6h0M421.0 808.5h0M462.6 806.4h0M483.4 772.8h0M504.2 792.6h0M566.6 796.3h0M587.4 775.1h0M608.2 797.5h0M629.0 784.9h0M670.6 819.0h0M400.2 743.4h0M421.0 788.3h0M441.8 776.9h0M462.6 795.1h0M483.4 775.2h0M504.2 739.8h0M525.0 758.3h0M545.8 767.1h0M566.6 786.9h0M629.0 768.7h0M649.8 761.0h0M670.6 779.4h0M400.2 797.4h0M421.0 816.6h0M462.6 778.5h0M483.4 732.0h0M566.6 809.7h0M608.2 799.0h0M629.0 788.6h0M649.8 806.6h0M670.6 785.9h0M400.2 744.2h0M421.0 814.7h0M462.6 826.7h0M483.4 812.2h0M504.2 792.1h0M525.0 772.6h0M545.8 800.6h0M566.6 733.1h0M649.8 682.3h0M670.6 800.1h0M400.2 832.8h0M421.0 810.7h0M441.8 802.7h0M462.6 785.2h0M483.4 810.2h0M504.2 781.3h0M525.0 722.2h0M566.6 787.6h0M587.4 803.1h0M608.2 791.8h0M629.0 795.3h0M670.6 787.1h0M400.2 822.9h0M441.8 797.8h0M462.6 810.5h0M483.4 789.4h0M504.2 823.8h0M525.0 823.2h0M545.8 782.0h0M566.6 830.9h0M587.4 766.0h0M629.0 772.5h0M670.6 825.6h0M400.2 822.1h0M441.8 797.1h0M462.6 798.2h0M483.4 805.7h0M504.2 754.9h0M525.0 804.7h0M587.4 774.8h0M608.2 792.4h0M629.0 790.1h0M649.8 809.7h0M400.2 780.9h0M421.0 777.4h0M462.6 802.8h0M504.2 791.5h0M525.0 794.6h0M566.6 794.0h0M649.8 809.3h0M400.2 803.4h0M421.0 824.8h0M441.8 824.0h0M462.6 784.7h0M483.4 801.8h0M504.2 822.8h0M525.0 784.0h0M545.8 809.5h0M587.4 805.1h0M608.2 822.2h0M670.6 824.1h0M400.2 803.0h0M421.0 765.9h0M441.8 797.0h0M483.4 806.7h0M525.0 819.5h0M566.6 799.5h0M587.4 754.7h0M629.0 764.6h0M670.6 799.5h0M400.2 833.5h0M421.0 788.5h0M441.8 814.4h0M462.6 813.8h0M483.4 809.6h0M504.2 815.9h0M545.8 777.9h0M587.4 800.4h0M608.2 822.9h0M670.6 775.7h0M421.0 789.0h0M462.6 791.0h0M483.4 769.5h0M504.2 771.5h0M525.0 764.5h0M545.8 747.1h0M566.6 774.4h0M587.4 763.8h0M608.2 753.8h0M649.8 802.3h0M670.6 755.5h0M400.2 764.3h0M421.0 768.5h0M441.8 766.7h0M462.6 783.6h0M483.4 786.1h0M504.2 719.0h0M525.0 771.5h0M545.8 751.1h0M566.6 778.4h0M649.8 759.7h0M400.2 770.4h0M483.4 808.4h0M525.0 790.6h0M545.8 808.9h0M566.6 803.0h0M587.4 804.0h0M608.2 789.7h0M629.0 784.3h0M400.2 808.7h0M421.0 834.2h0M441.8 822.8h0M483.4 832.3h0M504.2 837.4h0M525.0 829.8h0M545.8 815.0h0M566.6 837.8h0M587.4 814.5h0M649.8 820.7h0M670.6 827.3h0M400.2 803.3h0M441.8 815.5h0M462.6 808.5h0M483.4 824.8h0M504.2 828.4h0M525.0 794.4h0M545.8 802.0h0M566.6 818.9h0M587.4 762.2h0M608.2 780.5h0M400.2 835.2h0M441.8 804.6h0M462.6 804.9h0M483.4 823.5h0M504.2 814.2h0M525.0 825.4h0M545.8 792.2h0M566.6 795.9h0M587.4 807.3h0M608.2 824.4h0M629.0 830.3h0M649.8 825.8h0M670.6 805.9h0M400.2 828.0h0M421.0 819.8h0M441.8 804.0h0M462.6 832.4h0M483.4 799.6h0M504.2 823.1h0M545.8 793.1h0M566.6 801.1h0M587.4 818.1h0M629.0 791.8h0M649.8 838.1h0M400.2 831.6h0M441.8 766.8h0M462.6 810.0h0M504.2 762.8h0M525.0 815.3h0M545.8 789.3h0M566.6 811.2h0M608.2 772.8h0M400.2 808.8h0M421.0 779.6h0M504.2 742.3h0M525.0 775.9h0M587.4 767.7h0M608.2 774.3h0M629.0 763.8h0M649.8 749.9h0M670.6 760.2h0M400.2 769.7h0M421.0 811.8h0M441.8 713.3h0M462.6 813.8h0M483.4 817.0h0M504.2 778.9h0M566.6 801.2h0M608.2 782.2h0M670.6 812.2h0M400.2 808.6h0M441.8 778.0h0M462.6 810.1h0M525.0 814.3h0M566.6 783.1h0M587.4 743.0h0M608.2 713.4h0M629.0 785.2h0M649.8 826.3h0M670.6 783.8h0M400.2 824.2h0M421.0 818.0h0M462.6 834.6h0M483.4 738.0h0M504.2 800.5h0M525.0 802.0h0M545.8 804.0h0M566.6 725.2h0M587.4 811.0h0M629.0 801.3h0M670.6 815.9h0M441.8 734.2h0M483.4 807.7h0M504.2 776.6h0M545.8 787.6h0M566.6 807.9h0M587.4 797.1h0M649.8 824.2h0M670.6 794.4h0M400.2 791.5h0M421.0 831.7h0M462.6 831.9h0M483.4 824.7h0M504.2 828.2h0M525.0 826.8h0M545.8 796.9h0M587.4 794.5h0M629.0 782.6h0M649.8 801.9h0M670.6 828.3h0M421.0 768.7h0M441.8 791.9h0M462.6 804.2h0M483.4 790.2h0M504.2 809.6h0M545.8 754.8h0M566.6 793.5h0M587.4 770.8h0M629.0 776.1h0M421.0 797.2h0M462.6 806.6h0M483.4 821.1h0M504.2 810.4h0M566.6 805.3h0M587.4 809.4h0M608.2 815.1h0M629.0 771.4h0M649.8 815.4h0M670.6 828.2h0M400.2 807.2h0M421.0 829.8h0M462.6 815.1h0M483.4 799.9h0M525.0 828.3h0M545.8 799.4h0M587.4 771.0h0M649.8 791.7h0M421.0 783.0h0M462.6 789.1h0M483.4 772.4h0M504.2 799.1h0M525.0 819.8h0M566.6 816.8h0M587.4 783.0h0M608.2 803.5h0M629.0 759.6h0M649.8 773.5h0M421.0 774.8h0M441.8 780.9h0M462.6 794.4h0M483.4 809.7h0M504.2 792.5h0M525.0 825.0h0M545.8 826.4h0M566.6 791.2h0M587.4 763.5h0M608.2 816.2h0M629.0 796.8h0M441.8 795.9h0M462.6 782.3h0M483.4 794.7h0M504.2 791.9h0M566.6 810.6h0M587.4 796.1h0" stroke="#000" stroke-width="2.9" stroke-linecap="round" fill="none"/><path d="M400.2,770.3 403.6,773.5 407.0,776.4 410.5,779.2 413.9,781.7 417.3,784.0 420.7,786.1 424.2,788.1 427.6,789.9 431.0,791.6 434.4,793.1 437.9,794.6 441.3,795.9 444.7,797.1 448.1,798.3 451.5,799.3 455.0,800.2 458.4,801.0 461.8,801.7 465.2,802.2 468.7,802.5 472.1,802.8 475.5,802.9 478.9,802.9 482.3,802.8 485.8,802.7 489.2,802.5 492.6,802.3 496.0,802.0 499.5,801.6 502.9,801.1 506.3,800.6 509.7,799.9 513.2,799.2 516.6,798.5 520.0,797.7 523.4,796.8 526.8,795.9 530.3,795.0 533.7,794.1 537.1,793.1 540.5,792.2 544.0,791.2 547.4,790.3 550.8,789.3 554.2,788.4 557.6,787.5 561.1,786.5 564.5,785.6 567.9,784.6 571.3,783.7 574.8,782.8 578.2,781.9 581.6,781.0 585.0,780.3 588.5,779.6 591.9,779.1 595.3,778.6 598.7,778.2 602.1,777.9 605.6,777.5 609.0,777.2 612.4,776.9 615.8,776.6 619.3,776.4 622.7,776.2 626.1,776.2 629.5,776.2 632.9,776.4 636.4,776.7 639.8,777.1 643.2,777.7 646.6,778.4 650.1,779.2 653.5,780.1 656.9,781.1 660.3,782.3 663.8,783.5 667.2,784.9 670.6,786.4" stroke="#984EA3" stroke-width="2.3" fill="none" stroke-linejoin="round"/><text transform="translate(388.0 870.9) scale(0.98 1.06)" font-size="10" fill="#4d4d4d" text-anchor="end" stroke="#4d4d4d" stroke-width="0.18">0</text><text transform="translate(388.0 806.5) scale(0.98 1.06)" font-size="10" fill="#4d4d4d" text-anchor="end" stroke="#4d4d4d" stroke-width="0.18">10</text><text transform="translate(388.0 742.0) scale(0.98 1.06)" font-size="10" fill="#4d4d4d" text-anchor="end" stroke="#4d4d4d" stroke-width="0.18">20</text><text transform="translate(388.0 677.6) scale(0.98 1.06)" font-size="10" fill="#4d4d4d" text-anchor="end" stroke="#4d4d4d" stroke-width="0.18">30</text><text transform="translate(399.1 885.8) scale(0.98 1.06)" font-size="10" fill="#4d4d4d" stroke="#4d4d4d" stroke-width="0.18">0</text><text transform="translate(503.1 885.8) scale(0.98 1.06)" font-size="10" fill="#4d4d4d" stroke="#4d4d4d" stroke-width="0.18">5</text><text transform="translate(605.5 885.8) scale(0.98 1.06)" font-size="10" fill="#4d4d4d" stroke="#4d4d4d" stroke-width="0.18">10</text><text transform="translate(494.5 896.6) scale(1 1.06)" font-size="10" stroke="#000" stroke-width="0.18">Time Since Admission (Days)</text><text transform="translate(368.3 766.8) rotate(-90)" font-size="10" text-anchor="middle" stroke="#000" stroke-width="0.18">Glucose (mmol/L)</text><text transform="translate(389.4 659.5) scale(0.99 1.06)" font-size="9.9" fill="#1a1a1a" stroke="#1a1a1a" stroke-width="0.18">Trajectory = 4</text><text transform="translate(357.3 639) scale(1.0 1.03)" font-size="10" stroke="#000" stroke-width="0.18">E</text></svg>
</body></html>
